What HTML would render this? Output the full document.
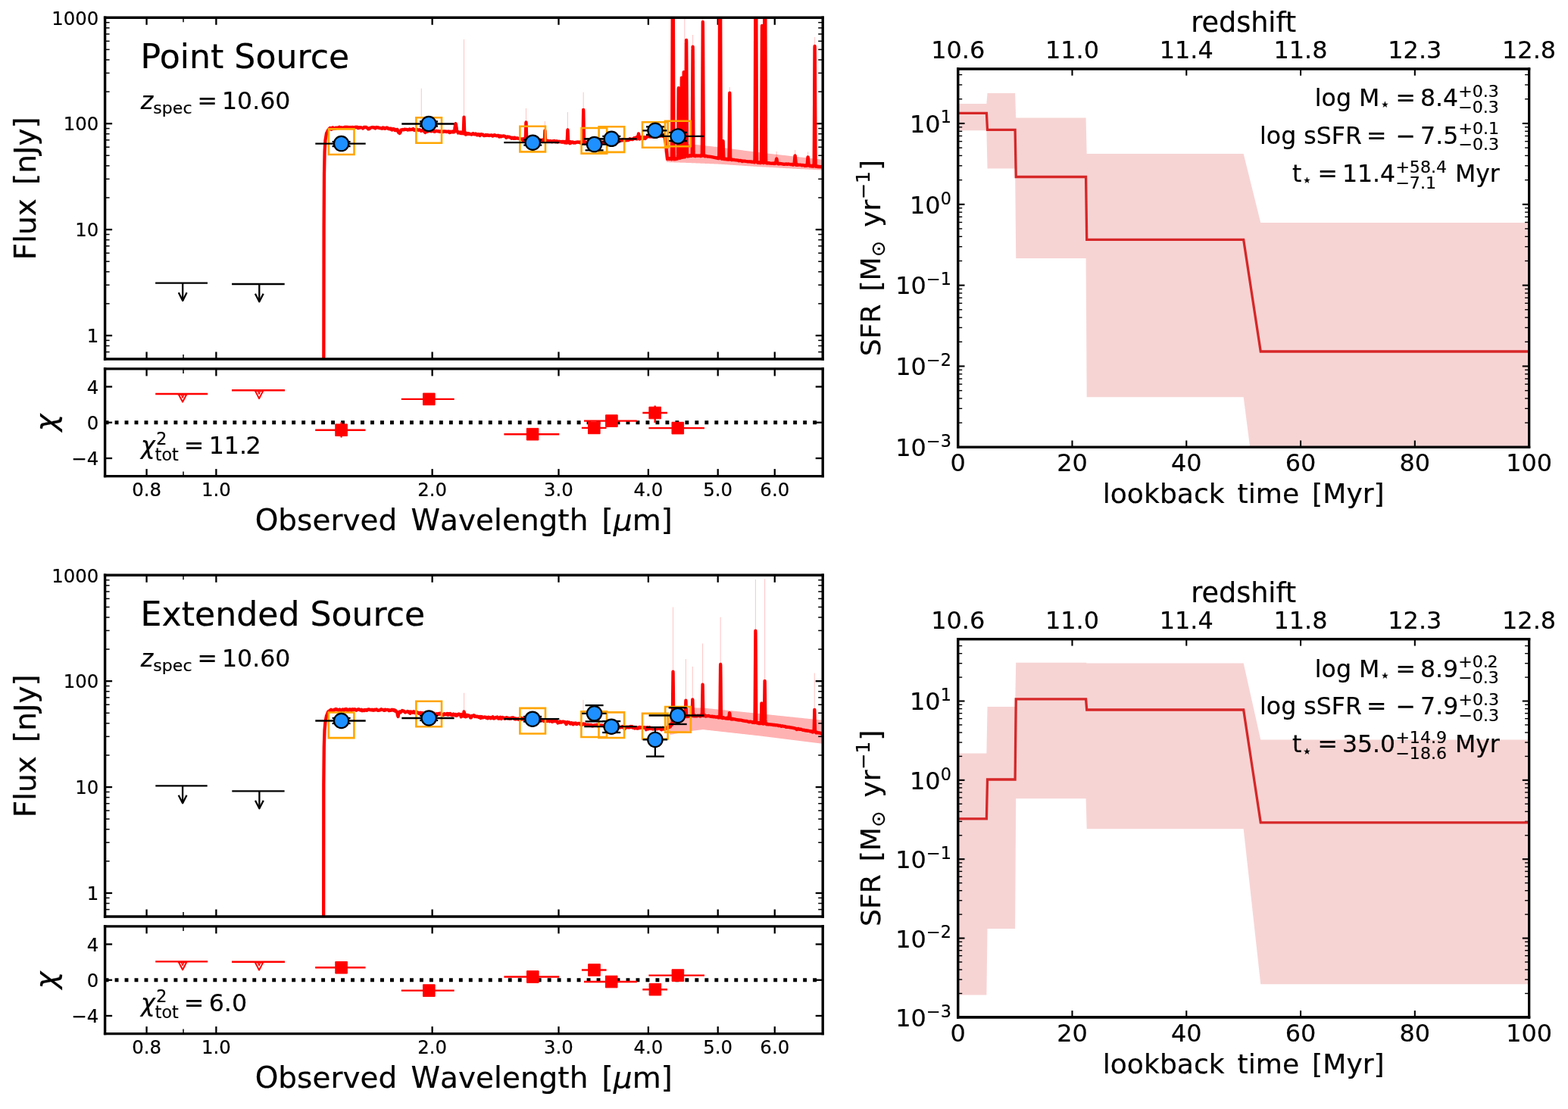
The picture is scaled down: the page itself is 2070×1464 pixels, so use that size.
<!DOCTYPE html>
<html><head><meta charset="utf-8"><title>SED fits</title><style>html,body{margin:0;padding:0;background:#fff;overflow:hidden}svg{display:block}text{stroke:#000;stroke-width:0.2px}</style></head><body>
<svg width="2070" height="1464" viewBox="0 0 2070 1464" version="1.1">
<defs>
<style type="text/css">*{stroke-linejoin: round; stroke-linecap: butt}</style>
</defs>
<g id="figure_1">
<g id="patch_1">
<path d="M 0 1464 
L 2070 1464 
L 2070 0 
L 0 0 
z
" style="fill: #ffffff"/>
</g>
<g id="axes_1">
<g id="patch_2">
<path d="M 138.6 474 
L 1086.2 474 
L 1086.2 23.3 
L 138.6 23.3 
z
" style="fill: #ffffff"/>
</g>
<g id="FillBetweenPolyCollection_1">
<defs>
<path id="m8aedb3358f" d="M 877 -1288 
L 877 -1264 
L 878 -1259.33 
L 879 -1254.66 
L 880 -1250 
L 881 -1249.96 
L 882 -1249.92 
L 883 -1249.88 
L 884 -1249.84 
L 885 -1249.8 
L 886 -1249.76 
L 887 -1249.72 
L 888 -1249.68 
L 889 -1249.64 
L 890 -1249.6 
L 891 -1249.57 
L 892 -1249.54 
L 893 -1249.51 
L 894 -1249.48 
L 895 -1249.45 
L 896 -1249.42 
L 897 -1249.39 
L 898 -1249.36 
L 899 -1249.33 
L 900 -1249.3 
L 901 -1249.27 
L 902 -1249.24 
L 903 -1249.21 
L 904 -1249.18 
L 905 -1249.15 
L 906 -1249.12 
L 907 -1249.09 
L 908 -1249.06 
L 909 -1249.03 
L 910 -1249 
L 911 -1248.95 
L 912 -1248.91 
L 913 -1248.87 
L 914 -1248.83 
L 915 -1248.78 
L 916 -1248.74 
L 917 -1248.70 
L 918 -1248.66 
L 919 -1248.61 
L 920 -1248.57 
L 921 -1248.53 
L 922 -1248.49 
L 923 -1248.44 
L 924 -1248.40 
L 925 -1248.36 
L 926 -1248.32 
L 927 -1248.27 
L 928 -1248.23 
L 929 -1248.19 
L 930 -1248.15 
L 931 -1248.10 
L 932 -1248.06 
L 933 -1248.02 
L 934 -1247.98 
L 935 -1247.93 
L 936 -1247.89 
L 937 -1247.85 
L 938 -1247.81 
L 939 -1247.76 
L 940 -1247.72 
L 941 -1247.68 
L 942 -1247.64 
L 943 -1247.59 
L 944 -1247.55 
L 945 -1247.51 
L 946 -1247.47 
L 947 -1247.42 
L 948 -1247.38 
L 949 -1247.34 
L 950 -1247.3 
L 951 -1247.23 
L 952 -1247.16 
L 953 -1247.10 
L 954 -1247.03 
L 955 -1246.97 
L 956 -1246.90 
L 957 -1246.83 
L 958 -1246.77 
L 959 -1246.70 
L 960 -1246.64 
L 961 -1246.57 
L 962 -1246.50 
L 963 -1246.44 
L 964 -1246.37 
L 965 -1246.31 
L 966 -1246.24 
L 967 -1246.17 
L 968 -1246.11 
L 969 -1246.04 
L 970 -1245.98 
L 971 -1245.91 
L 972 -1245.84 
L 973 -1245.78 
L 974 -1245.71 
L 975 -1245.65 
L 976 -1245.58 
L 977 -1245.51 
L 978 -1245.45 
L 979 -1245.38 
L 980 -1245.32 
L 981 -1245.25 
L 982 -1245.18 
L 983 -1245.12 
L 984 -1245.05 
L 985 -1244.99 
L 986 -1244.92 
L 987 -1244.85 
L 988 -1244.79 
L 989 -1244.72 
L 990 -1244.66 
L 991 -1244.59 
L 992 -1244.52 
L 993 -1244.46 
L 994 -1244.39 
L 995 -1244.33 
L 996 -1244.26 
L 997 -1244.19 
L 998 -1244.13 
L 999 -1244.06 
L 1000 -1244 
L 1001 -1243.94 
L 1002 -1243.88 
L 1003 -1243.83 
L 1004 -1243.77 
L 1005 -1243.72 
L 1006 -1243.66 
L 1007 -1243.60 
L 1008 -1243.55 
L 1009 -1243.49 
L 1010 -1243.44 
L 1011 -1243.38 
L 1012 -1243.32 
L 1013 -1243.27 
L 1014 -1243.21 
L 1015 -1243.16 
L 1016 -1243.10 
L 1017 -1243.04 
L 1018 -1242.99 
L 1019 -1242.93 
L 1020 -1242.88 
L 1021 -1242.82 
L 1022 -1242.76 
L 1023 -1242.71 
L 1024 -1242.65 
L 1025 -1242.6 
L 1026 -1242.54 
L 1027 -1242.48 
L 1028 -1242.43 
L 1029 -1242.37 
L 1030 -1242.32 
L 1031 -1242.26 
L 1032 -1242.20 
L 1033 -1242.15 
L 1034 -1242.09 
L 1035 -1242.04 
L 1036 -1241.98 
L 1037 -1241.92 
L 1038 -1241.87 
L 1039 -1241.81 
L 1040 -1241.76 
L 1041 -1241.70 
L 1042 -1241.64 
L 1043 -1241.59 
L 1044 -1241.53 
L 1045 -1241.48 
L 1046 -1241.42 
L 1047 -1241.36 
L 1048 -1241.31 
L 1049 -1241.25 
L 1050 -1241.2 
L 1051 -1241.15 
L 1052 -1241.10 
L 1053 -1241.05 
L 1054 -1241.01 
L 1055 -1240.96 
L 1056 -1240.91 
L 1057 -1240.86 
L 1058 -1240.82 
L 1059 -1240.77 
L 1060 -1240.72 
L 1061 -1240.67 
L 1062 -1240.63 
L 1063 -1240.58 
L 1064 -1240.53 
L 1065 -1240.48 
L 1066 -1240.44 
L 1067 -1240.39 
L 1068 -1240.34 
L 1069 -1240.3 
L 1070 -1240.25 
L 1071 -1240.20 
L 1072 -1240.15 
L 1073 -1240.11 
L 1074 -1240.06 
L 1075 -1240.01 
L 1076 -1239.96 
L 1077 -1239.92 
L 1078 -1239.87 
L 1079 -1239.82 
L 1080 -1239.77 
L 1081 -1239.73 
L 1082 -1239.68 
L 1083 -1239.63 
L 1084 -1239.58 
L 1085 -1239.54 
L 1086 -1239.49 
L 1087 -1239.44 
L 1087 -1253.11 
L 1087 -1253.11 
L 1086 -1253.22 
L 1085 -1253.33 
L 1084 -1253.45 
L 1083 -1253.56 
L 1082 -1253.67 
L 1081 -1253.79 
L 1080 -1253.90 
L 1079 -1254.01 
L 1078 -1254.13 
L 1077 -1254.24 
L 1076 -1254.35 
L 1075 -1254.47 
L 1074 -1254.58 
L 1073 -1254.69 
L 1072 -1254.81 
L 1071 -1254.92 
L 1070 -1255.03 
L 1069 -1255.15 
L 1068 -1255.26 
L 1067 -1255.37 
L 1066 -1255.48 
L 1065 -1255.60 
L 1064 -1255.71 
L 1063 -1255.82 
L 1062 -1255.94 
L 1061 -1256.05 
L 1060 -1256.16 
L 1059 -1256.28 
L 1058 -1256.39 
L 1057 -1256.50 
L 1056 -1256.62 
L 1055 -1256.73 
L 1054 -1256.84 
L 1053 -1256.96 
L 1052 -1257.07 
L 1051 -1257.18 
L 1050 -1257.3 
L 1049 -1257.41 
L 1048 -1257.52 
L 1047 -1257.64 
L 1046 -1257.75 
L 1045 -1257.87 
L 1044 -1257.98 
L 1043 -1258.09 
L 1042 -1258.21 
L 1041 -1258.32 
L 1040 -1258.44 
L 1039 -1258.55 
L 1038 -1258.66 
L 1037 -1258.78 
L 1036 -1258.89 
L 1035 -1259.01 
L 1034 -1259.12 
L 1033 -1259.23 
L 1032 -1259.35 
L 1031 -1259.46 
L 1030 -1259.58 
L 1029 -1259.69 
L 1028 -1259.80 
L 1027 -1259.92 
L 1026 -1260.03 
L 1025 -1260.15 
L 1024 -1260.26 
L 1023 -1260.37 
L 1022 -1260.49 
L 1021 -1260.60 
L 1020 -1260.72 
L 1019 -1260.83 
L 1018 -1260.94 
L 1017 -1261.06 
L 1016 -1261.17 
L 1015 -1261.29 
L 1014 -1261.40 
L 1013 -1261.51 
L 1012 -1261.63 
L 1011 -1261.74 
L 1010 -1261.86 
L 1009 -1261.97 
L 1008 -1262.08 
L 1007 -1262.20 
L 1006 -1262.31 
L 1005 -1262.43 
L 1004 -1262.54 
L 1003 -1262.65 
L 1002 -1262.77 
L 1001 -1262.88 
L 1000 -1263 
L 999 -1263.13 
L 998 -1263.26 
L 997 -1263.39 
L 996 -1263.52 
L 995 -1263.66 
L 994 -1263.79 
L 993 -1263.92 
L 992 -1264.05 
L 991 -1264.18 
L 990 -1264.32 
L 989 -1264.45 
L 988 -1264.58 
L 987 -1264.71 
L 986 -1264.84 
L 985 -1264.98 
L 984 -1265.11 
L 983 -1265.24 
L 982 -1265.37 
L 981 -1265.50 
L 980 -1265.64 
L 979 -1265.77 
L 978 -1265.90 
L 977 -1266.03 
L 976 -1266.16 
L 975 -1266.3 
L 974 -1266.43 
L 973 -1266.56 
L 972 -1266.69 
L 971 -1266.82 
L 970 -1266.96 
L 969 -1267.09 
L 968 -1267.22 
L 967 -1267.35 
L 966 -1267.48 
L 965 -1267.62 
L 964 -1267.75 
L 963 -1267.88 
L 962 -1268.01 
L 961 -1268.14 
L 960 -1268.28 
L 959 -1268.41 
L 958 -1268.54 
L 957 -1268.67 
L 956 -1268.80 
L 955 -1268.94 
L 954 -1269.07 
L 953 -1269.20 
L 952 -1269.33 
L 951 -1269.46 
L 950 -1269.6 
L 949 -1269.71 
L 948 -1269.82 
L 947 -1269.93 
L 946 -1270.04 
L 945 -1270.15 
L 944 -1270.26 
L 943 -1270.37 
L 942 -1270.48 
L 941 -1270.59 
L 940 -1270.7 
L 939 -1270.81 
L 938 -1270.92 
L 937 -1271.03 
L 936 -1271.14 
L 935 -1271.25 
L 934 -1271.36 
L 933 -1271.47 
L 932 -1271.58 
L 931 -1271.69 
L 930 -1271.8 
L 929 -1271.91 
L 928 -1272.02 
L 927 -1272.13 
L 926 -1272.24 
L 925 -1272.35 
L 924 -1272.46 
L 923 -1272.57 
L 922 -1272.68 
L 921 -1272.79 
L 920 -1272.9 
L 919 -1273.01 
L 918 -1273.12 
L 917 -1273.23 
L 916 -1273.34 
L 915 -1273.45 
L 914 -1273.56 
L 913 -1273.67 
L 912 -1273.78 
L 911 -1273.89 
L 910 -1274 
L 909 -1274.1 
L 908 -1274.2 
L 907 -1274.3 
L 906 -1274.4 
L 905 -1274.5 
L 904 -1274.6 
L 903 -1274.7 
L 902 -1274.8 
L 901 -1274.9 
L 900 -1275 
L 899 -1275.1 
L 898 -1275.2 
L 897 -1275.3 
L 896 -1275.4 
L 895 -1275.5 
L 894 -1275.6 
L 893 -1275.7 
L 892 -1275.8 
L 891 -1275.9 
L 890 -1276 
L 889 -1276 
L 888 -1276 
L 887 -1276 
L 886 -1276 
L 885 -1276 
L 884 -1276 
L 883 -1276 
L 882 -1276 
L 881 -1276 
L 880 -1276 
L 879 -1280 
L 878 -1284 
L 877 -1288 
z
"/>
</defs>
<g clip-path="url(#p4914ac7ae6)">
<use href="#m8aedb3358f" x="0" y="1464" style="fill: #ff0000; fill-opacity: 0.3"/>
</g>
</g>
<g id="line2d_1">
<path d="M 556.3 116.7 
L 556.3 160 
" clip-path="url(#p4914ac7ae6)" style="fill: none; stroke: #ff0000; stroke-opacity: 0.22; stroke-width: 1.1"/>
</g>
<g id="line2d_2">
<path d="M 612.5 52 
L 612.5 155 
" clip-path="url(#p4914ac7ae6)" style="fill: none; stroke: #ff0000; stroke-opacity: 0.22; stroke-width: 1.1"/>
</g>
<g id="line2d_3">
<path d="M 694.5 143 
L 694.5 161 
" clip-path="url(#p4914ac7ae6)" style="fill: none; stroke: #ff0000; stroke-opacity: 0.22; stroke-width: 1.1"/>
</g>
<g id="line2d_4">
<path d="M 719.4 160 
L 719.4 172 
" clip-path="url(#p4914ac7ae6)" style="fill: none; stroke: #ff0000; stroke-opacity: 0.22; stroke-width: 1.1"/>
</g>
<g id="line2d_5">
<path d="M 749.4 148 
L 749.4 170 
" clip-path="url(#p4914ac7ae6)" style="fill: none; stroke: #ff0000; stroke-opacity: 0.22; stroke-width: 1.1"/>
</g>
<g id="line2d_6">
<path d="M 770.2 121.8 
L 770.2 145 
" clip-path="url(#p4914ac7ae6)" style="fill: none; stroke: #ff0000; stroke-opacity: 0.22; stroke-width: 1.1"/>
</g>
<g id="line2d_7">
<path d="M 903.8 20 
L 903.8 95 
" clip-path="url(#p4914ac7ae6)" style="fill: none; stroke: #ff0000; stroke-opacity: 0.22; stroke-width: 1.1"/>
</g>
<g id="line2d_8">
<path d="M 914.6 46 
L 914.6 62 
" clip-path="url(#p4914ac7ae6)" style="fill: none; stroke: #ff0000; stroke-opacity: 0.22; stroke-width: 1.1"/>
</g>
<g id="line2d_9">
<path d="M 927.8 20 
L 927.8 29 
" clip-path="url(#p4914ac7ae6)" style="fill: none; stroke: #ff0000; stroke-opacity: 0.22; stroke-width: 1.1"/>
</g>
<g id="line2d_10">
<path d="M 963.3 115 
L 963.3 123 
" clip-path="url(#p4914ac7ae6)" style="fill: none; stroke: #ff0000; stroke-opacity: 0.22; stroke-width: 1.1"/>
</g>
<g id="line2d_11">
<path d="M 1075.6 49 
L 1075.6 60 
" clip-path="url(#p4914ac7ae6)" style="fill: none; stroke: #ff0000; stroke-opacity: 0.22; stroke-width: 1.1"/>
</g>
<g id="line2d_12">
<path d="M 1025.2 200 
L 1025.2 209 
" clip-path="url(#p4914ac7ae6)" style="fill: none; stroke: #ff0000; stroke-opacity: 0.22; stroke-width: 1.1"/>
</g>
<g id="line2d_13">
<path d="M 1049.6 198 
L 1049.6 205 
" clip-path="url(#p4914ac7ae6)" style="fill: none; stroke: #ff0000; stroke-opacity: 0.22; stroke-width: 1.1"/>
</g>
<g id="line2d_14">
<path d="M 1066.6 200.5 
L 1066.6 207 
" clip-path="url(#p4914ac7ae6)" style="fill: none; stroke: #ff0000; stroke-opacity: 0.22; stroke-width: 1.1"/>
</g>
<g id="matplotlib.axis_1">
<g id="xtick_1">
<g id="line2d_15">
<defs>
<path id="meb02f2e093" d="M 0 0 
L 0 -9.5 
" style="stroke: #000000; stroke-width: 2.3"/>
</defs>
<g>
<use href="#meb02f2e093" x="193.55" y="474" style="stroke: #000000; stroke-width: 2.3"/>
</g>
</g>
<g id="line2d_16">
<defs>
<path id="m33e6c5e1b2" d="M 0 0 
L 0 9.5 
" style="stroke: #000000; stroke-width: 2.3"/>
</defs>
<g>
<use href="#m33e6c5e1b2" x="193.55" y="23.3" style="stroke: #000000; stroke-width: 2.3"/>
</g>
</g>
</g>
<g id="xtick_2">
<g id="line2d_17">
<g>
<use href="#meb02f2e093" x="285.38" y="474" style="stroke: #000000; stroke-width: 2.3"/>
</g>
</g>
<g id="line2d_18">
<g>
<use href="#m33e6c5e1b2" x="285.38" y="23.3" style="stroke: #000000; stroke-width: 2.3"/>
</g>
</g>
</g>
<g id="xtick_3">
<g id="line2d_19">
<g>
<use href="#meb02f2e093" x="570.64" y="474" style="stroke: #000000; stroke-width: 2.3"/>
</g>
</g>
<g id="line2d_20">
<g>
<use href="#m33e6c5e1b2" x="570.64" y="23.3" style="stroke: #000000; stroke-width: 2.3"/>
</g>
</g>
</g>
<g id="xtick_4">
<g id="line2d_21">
<g>
<use href="#meb02f2e093" x="737.50" y="474" style="stroke: #000000; stroke-width: 2.3"/>
</g>
</g>
<g id="line2d_22">
<g>
<use href="#m33e6c5e1b2" x="737.50" y="23.3" style="stroke: #000000; stroke-width: 2.3"/>
</g>
</g>
</g>
<g id="xtick_5">
<g id="line2d_23">
<g>
<use href="#meb02f2e093" x="855.89" y="474" style="stroke: #000000; stroke-width: 2.3"/>
</g>
</g>
<g id="line2d_24">
<g>
<use href="#m33e6c5e1b2" x="855.89" y="23.3" style="stroke: #000000; stroke-width: 2.3"/>
</g>
</g>
</g>
<g id="xtick_6">
<g id="line2d_25">
<g>
<use href="#meb02f2e093" x="947.72" y="474" style="stroke: #000000; stroke-width: 2.3"/>
</g>
</g>
<g id="line2d_26">
<g>
<use href="#m33e6c5e1b2" x="947.72" y="23.3" style="stroke: #000000; stroke-width: 2.3"/>
</g>
</g>
</g>
<g id="xtick_7">
<g id="line2d_27">
<g>
<use href="#meb02f2e093" x="1022.76" y="474" style="stroke: #000000; stroke-width: 2.3"/>
</g>
</g>
<g id="line2d_28">
<g>
<use href="#m33e6c5e1b2" x="1022.76" y="23.3" style="stroke: #000000; stroke-width: 2.3"/>
</g>
</g>
</g>
<g id="xtick_8">
<g id="line2d_29">
<defs>
<path id="m80899642cb" d="M 0 0 
L 0 -6 
" style="stroke: #000000; stroke-width: 1.5"/>
</defs>
<g>
<use href="#m80899642cb" x="138.6" y="474" style="stroke: #000000; stroke-width: 1.5"/>
</g>
</g>
<g id="line2d_30">
<defs>
<path id="m92ab575aa1" d="M 0 0 
L 0 6 
" style="stroke: #000000; stroke-width: 1.5"/>
</defs>
<g>
<use href="#m92ab575aa1" x="138.6" y="23.3" style="stroke: #000000; stroke-width: 1.5"/>
</g>
</g>
</g>
<g id="xtick_9">
<g id="line2d_31">
<g>
<use href="#m80899642cb" x="242.02" y="474" style="stroke: #000000; stroke-width: 1.5"/>
</g>
</g>
<g id="line2d_32">
<g>
<use href="#m92ab575aa1" x="242.02" y="23.3" style="stroke: #000000; stroke-width: 1.5"/>
</g>
</g>
</g>
<g id="xtick_10">
<g id="line2d_33">
<g>
<use href="#m80899642cb" x="1086.2" y="474" style="stroke: #000000; stroke-width: 1.5"/>
</g>
</g>
<g id="line2d_34">
<g>
<use href="#m92ab575aa1" x="1086.2" y="23.3" style="stroke: #000000; stroke-width: 1.5"/>
</g>
</g>
</g>
</g>
<g id="matplotlib.axis_2">
<g id="ytick_1">
<g id="line2d_35">
<defs>
<path id="mcbb3e0e545" d="M 0 0 
L 9.5 0 
" style="stroke: #000000; stroke-width: 2.3"/>
</defs>
<g>
<use href="#mcbb3e0e545" x="138.6" y="442.96" style="stroke: #000000; stroke-width: 2.3"/>
</g>
</g>
<g id="line2d_36">
<defs>
<path id="md19e65606a" d="M 0 0 
L -9.5 0 
" style="stroke: #000000; stroke-width: 2.3"/>
</defs>
<g>
<use href="#md19e65606a" x="1086.2" y="442.96" style="stroke: #000000; stroke-width: 2.3"/>
</g>
</g>
<g id="text_1">
<text style="font-size: 24.4px; font-family: 'DejaVu Sans', sans-serif; text-anchor: end" x="130.3" y="452.23" transform="rotate(-0 130.3 452.23)">1</text>
</g>
</g>
<g id="ytick_2">
<g id="line2d_37">
<g>
<use href="#mcbb3e0e545" x="138.6" y="303.07" style="stroke: #000000; stroke-width: 2.3"/>
</g>
</g>
<g id="line2d_38">
<g>
<use href="#md19e65606a" x="1086.2" y="303.07" style="stroke: #000000; stroke-width: 2.3"/>
</g>
</g>
<g id="text_2">
<text style="font-size: 24.4px; font-family: 'DejaVu Sans', sans-serif; text-anchor: end" x="130.3" y="312.34" transform="rotate(-0 130.3 312.34)">10</text>
</g>
</g>
<g id="ytick_3">
<g id="line2d_39">
<g>
<use href="#mcbb3e0e545" x="138.6" y="163.18" style="stroke: #000000; stroke-width: 2.3"/>
</g>
</g>
<g id="line2d_40">
<g>
<use href="#md19e65606a" x="1086.2" y="163.18" style="stroke: #000000; stroke-width: 2.3"/>
</g>
</g>
<g id="text_3">
<text style="font-size: 24.4px; font-family: 'DejaVu Sans', sans-serif; text-anchor: end" x="130.3" y="172.45" transform="rotate(-0 130.3 172.45)">100</text>
</g>
</g>
<g id="ytick_4">
<g id="line2d_41">
<g>
<use href="#mcbb3e0e545" x="138.6" y="23.3" style="stroke: #000000; stroke-width: 2.3"/>
</g>
</g>
<g id="line2d_42">
<g>
<use href="#md19e65606a" x="1086.2" y="23.3" style="stroke: #000000; stroke-width: 2.3"/>
</g>
</g>
<g id="text_4">
<text style="font-size: 24.4px; font-family: 'DejaVu Sans', sans-serif; text-anchor: end" x="130.3" y="32.57" transform="rotate(-0 130.3 32.57)">1000</text>
</g>
</g>
<g id="ytick_5">
<g id="line2d_43">
<defs>
<path id="m8791594178" d="M 0 0 
L 6 0 
" style="stroke: #000000; stroke-width: 1.5"/>
</defs>
<g>
<use href="#m8791594178" x="138.6" y="474" style="stroke: #000000; stroke-width: 1.5"/>
</g>
</g>
<g id="line2d_44">
<defs>
<path id="mec65994248" d="M 0 0 
L -6 0 
" style="stroke: #000000; stroke-width: 1.5"/>
</defs>
<g>
<use href="#mec65994248" x="1086.2" y="474" style="stroke: #000000; stroke-width: 1.5"/>
</g>
</g>
</g>
<g id="ytick_6">
<g id="line2d_45">
<g>
<use href="#m8791594178" x="138.6" y="464.63" style="stroke: #000000; stroke-width: 1.5"/>
</g>
</g>
<g id="line2d_46">
<g>
<use href="#mec65994248" x="1086.2" y="464.63" style="stroke: #000000; stroke-width: 1.5"/>
</g>
</g>
</g>
<g id="ytick_7">
<g id="line2d_47">
<g>
<use href="#m8791594178" x="138.6" y="456.52" style="stroke: #000000; stroke-width: 1.5"/>
</g>
</g>
<g id="line2d_48">
<g>
<use href="#mec65994248" x="1086.2" y="456.52" style="stroke: #000000; stroke-width: 1.5"/>
</g>
</g>
</g>
<g id="ytick_8">
<g id="line2d_49">
<g>
<use href="#m8791594178" x="138.6" y="449.36" style="stroke: #000000; stroke-width: 1.5"/>
</g>
</g>
<g id="line2d_50">
<g>
<use href="#mec65994248" x="1086.2" y="449.36" style="stroke: #000000; stroke-width: 1.5"/>
</g>
</g>
</g>
<g id="ytick_9">
<g id="line2d_51">
<g>
<use href="#m8791594178" x="138.6" y="400.85" style="stroke: #000000; stroke-width: 1.5"/>
</g>
</g>
<g id="line2d_52">
<g>
<use href="#mec65994248" x="1086.2" y="400.85" style="stroke: #000000; stroke-width: 1.5"/>
</g>
</g>
</g>
<g id="ytick_10">
<g id="line2d_53">
<g>
<use href="#m8791594178" x="138.6" y="376.22" style="stroke: #000000; stroke-width: 1.5"/>
</g>
</g>
<g id="line2d_54">
<g>
<use href="#mec65994248" x="1086.2" y="376.22" style="stroke: #000000; stroke-width: 1.5"/>
</g>
</g>
</g>
<g id="ytick_11">
<g id="line2d_55">
<g>
<use href="#m8791594178" x="138.6" y="358.74" style="stroke: #000000; stroke-width: 1.5"/>
</g>
</g>
<g id="line2d_56">
<g>
<use href="#mec65994248" x="1086.2" y="358.74" style="stroke: #000000; stroke-width: 1.5"/>
</g>
</g>
</g>
<g id="ytick_12">
<g id="line2d_57">
<g>
<use href="#m8791594178" x="138.6" y="345.18" style="stroke: #000000; stroke-width: 1.5"/>
</g>
</g>
<g id="line2d_58">
<g>
<use href="#mec65994248" x="1086.2" y="345.18" style="stroke: #000000; stroke-width: 1.5"/>
</g>
</g>
</g>
<g id="ytick_13">
<g id="line2d_59">
<g>
<use href="#m8791594178" x="138.6" y="334.11" style="stroke: #000000; stroke-width: 1.5"/>
</g>
</g>
<g id="line2d_60">
<g>
<use href="#mec65994248" x="1086.2" y="334.11" style="stroke: #000000; stroke-width: 1.5"/>
</g>
</g>
</g>
<g id="ytick_14">
<g id="line2d_61">
<g>
<use href="#m8791594178" x="138.6" y="324.74" style="stroke: #000000; stroke-width: 1.5"/>
</g>
</g>
<g id="line2d_62">
<g>
<use href="#mec65994248" x="1086.2" y="324.74" style="stroke: #000000; stroke-width: 1.5"/>
</g>
</g>
</g>
<g id="ytick_15">
<g id="line2d_63">
<g>
<use href="#m8791594178" x="138.6" y="316.63" style="stroke: #000000; stroke-width: 1.5"/>
</g>
</g>
<g id="line2d_64">
<g>
<use href="#mec65994248" x="1086.2" y="316.63" style="stroke: #000000; stroke-width: 1.5"/>
</g>
</g>
</g>
<g id="ytick_16">
<g id="line2d_65">
<g>
<use href="#m8791594178" x="138.6" y="309.47" style="stroke: #000000; stroke-width: 1.5"/>
</g>
</g>
<g id="line2d_66">
<g>
<use href="#mec65994248" x="1086.2" y="309.47" style="stroke: #000000; stroke-width: 1.5"/>
</g>
</g>
</g>
<g id="ytick_17">
<g id="line2d_67">
<g>
<use href="#m8791594178" x="138.6" y="260.96" style="stroke: #000000; stroke-width: 1.5"/>
</g>
</g>
<g id="line2d_68">
<g>
<use href="#mec65994248" x="1086.2" y="260.96" style="stroke: #000000; stroke-width: 1.5"/>
</g>
</g>
</g>
<g id="ytick_18">
<g id="line2d_69">
<g>
<use href="#m8791594178" x="138.6" y="236.33" style="stroke: #000000; stroke-width: 1.5"/>
</g>
</g>
<g id="line2d_70">
<g>
<use href="#mec65994248" x="1086.2" y="236.33" style="stroke: #000000; stroke-width: 1.5"/>
</g>
</g>
</g>
<g id="ytick_19">
<g id="line2d_71">
<g>
<use href="#m8791594178" x="138.6" y="218.85" style="stroke: #000000; stroke-width: 1.5"/>
</g>
</g>
<g id="line2d_72">
<g>
<use href="#mec65994248" x="1086.2" y="218.85" style="stroke: #000000; stroke-width: 1.5"/>
</g>
</g>
</g>
<g id="ytick_20">
<g id="line2d_73">
<g>
<use href="#m8791594178" x="138.6" y="205.29" style="stroke: #000000; stroke-width: 1.5"/>
</g>
</g>
<g id="line2d_74">
<g>
<use href="#mec65994248" x="1086.2" y="205.29" style="stroke: #000000; stroke-width: 1.5"/>
</g>
</g>
</g>
<g id="ytick_21">
<g id="line2d_75">
<g>
<use href="#m8791594178" x="138.6" y="194.22" style="stroke: #000000; stroke-width: 1.5"/>
</g>
</g>
<g id="line2d_76">
<g>
<use href="#mec65994248" x="1086.2" y="194.22" style="stroke: #000000; stroke-width: 1.5"/>
</g>
</g>
</g>
<g id="ytick_22">
<g id="line2d_77">
<g>
<use href="#m8791594178" x="138.6" y="184.85" style="stroke: #000000; stroke-width: 1.5"/>
</g>
</g>
<g id="line2d_78">
<g>
<use href="#mec65994248" x="1086.2" y="184.85" style="stroke: #000000; stroke-width: 1.5"/>
</g>
</g>
</g>
<g id="ytick_23">
<g id="line2d_79">
<g>
<use href="#m8791594178" x="138.6" y="176.74" style="stroke: #000000; stroke-width: 1.5"/>
</g>
</g>
<g id="line2d_80">
<g>
<use href="#mec65994248" x="1086.2" y="176.74" style="stroke: #000000; stroke-width: 1.5"/>
</g>
</g>
</g>
<g id="ytick_24">
<g id="line2d_81">
<g>
<use href="#m8791594178" x="138.6" y="169.58" style="stroke: #000000; stroke-width: 1.5"/>
</g>
</g>
<g id="line2d_82">
<g>
<use href="#mec65994248" x="1086.2" y="169.58" style="stroke: #000000; stroke-width: 1.5"/>
</g>
</g>
</g>
<g id="ytick_25">
<g id="line2d_83">
<g>
<use href="#m8791594178" x="138.6" y="121.07" style="stroke: #000000; stroke-width: 1.5"/>
</g>
</g>
<g id="line2d_84">
<g>
<use href="#mec65994248" x="1086.2" y="121.07" style="stroke: #000000; stroke-width: 1.5"/>
</g>
</g>
</g>
<g id="ytick_26">
<g id="line2d_85">
<g>
<use href="#m8791594178" x="138.6" y="96.44" style="stroke: #000000; stroke-width: 1.5"/>
</g>
</g>
<g id="line2d_86">
<g>
<use href="#mec65994248" x="1086.2" y="96.44" style="stroke: #000000; stroke-width: 1.5"/>
</g>
</g>
</g>
<g id="ytick_27">
<g id="line2d_87">
<g>
<use href="#m8791594178" x="138.6" y="78.96" style="stroke: #000000; stroke-width: 1.5"/>
</g>
</g>
<g id="line2d_88">
<g>
<use href="#mec65994248" x="1086.2" y="78.96" style="stroke: #000000; stroke-width: 1.5"/>
</g>
</g>
</g>
<g id="ytick_28">
<g id="line2d_89">
<g>
<use href="#m8791594178" x="138.6" y="65.41" style="stroke: #000000; stroke-width: 1.5"/>
</g>
</g>
<g id="line2d_90">
<g>
<use href="#mec65994248" x="1086.2" y="65.41" style="stroke: #000000; stroke-width: 1.5"/>
</g>
</g>
</g>
<g id="ytick_29">
<g id="line2d_91">
<g>
<use href="#m8791594178" x="138.6" y="54.33" style="stroke: #000000; stroke-width: 1.5"/>
</g>
</g>
<g id="line2d_92">
<g>
<use href="#mec65994248" x="1086.2" y="54.33" style="stroke: #000000; stroke-width: 1.5"/>
</g>
</g>
</g>
<g id="ytick_30">
<g id="line2d_93">
<g>
<use href="#m8791594178" x="138.6" y="44.96" style="stroke: #000000; stroke-width: 1.5"/>
</g>
</g>
<g id="line2d_94">
<g>
<use href="#mec65994248" x="1086.2" y="44.96" style="stroke: #000000; stroke-width: 1.5"/>
</g>
</g>
</g>
<g id="ytick_31">
<g id="line2d_95">
<g>
<use href="#m8791594178" x="138.6" y="36.85" style="stroke: #000000; stroke-width: 1.5"/>
</g>
</g>
<g id="line2d_96">
<g>
<use href="#mec65994248" x="1086.2" y="36.85" style="stroke: #000000; stroke-width: 1.5"/>
</g>
</g>
</g>
<g id="ytick_32">
<g id="line2d_97">
<g>
<use href="#m8791594178" x="138.6" y="29.70" style="stroke: #000000; stroke-width: 1.5"/>
</g>
</g>
<g id="line2d_98">
<g>
<use href="#mec65994248" x="1086.2" y="29.70" style="stroke: #000000; stroke-width: 1.5"/>
</g>
</g>
</g>
<g id="text_5">
<g transform="translate(47.49 343.22) rotate(-90)">
<text>
<tspan x="0" y="-0.37" style="font-size: 39px; font-family: 'DejaVu Sans', sans-serif">F</tspan>
<tspan x="22.43" y="-0.37" style="font-size: 39px; font-family: 'DejaVu Sans', sans-serif">l</tspan>
<tspan x="33.26" y="-0.37" style="font-size: 39px; font-family: 'DejaVu Sans', sans-serif">u</tspan>
<tspan x="57.98" y="-0.37" style="font-size: 39px; font-family: 'DejaVu Sans', sans-serif">x</tspan>
<tspan x="99.30" y="-0.37" style="font-size: 39px; font-family: 'DejaVu Sans', sans-serif">[</tspan>
<tspan x="114.51" y="-0.37" style="font-size: 39px; font-family: 'DejaVu Sans', sans-serif">n</tspan>
<tspan x="139.23" y="-0.37" style="font-size: 39px; font-family: 'DejaVu Sans', sans-serif">J</tspan>
<tspan x="150.73" y="-0.37" style="font-size: 39px; font-family: 'DejaVu Sans', sans-serif">y</tspan>
<tspan x="173.81" y="-0.37" style="font-size: 39px; font-family: 'DejaVu Sans', sans-serif">]</tspan>
</text>
</g>
</g>
</g>
<g id="line2d_99">
<path d="M 427 700 
L 427.6 300 
L 428 230 
L 428.6 200 
L 429.5 185 
L 431 176 
L 433.5 171.14 
L 434.5 170.34 
L 435.5 168.94 
L 436 168.96 
L 436.5 169.44 
L 437 170.63 
L 437.5 170.91 
L 438 170.47 
L 438.5 169.31 
L 439 168.45 
L 439.5 168.45 
L 440 169.28 
L 440.5 169.71 
L 441 169.77 
L 441.5 169.71 
L 442 169.45 
L 442.5 169.58 
L 443 168.79 
L 443.5 169.27 
L 445 168.55 
L 445.5 168.78 
L 446 168.74 
L 446.5 168.58 
L 447 168.27 
L 447.5 168.26 
L 448 167.78 
L 449 168.20 
L 449.5 168.60 
L 450 168.49 
L 450.5 168.58 
L 451 168.48 
L 452.5 168.71 
L 453 168.89 
L 453.5 168.44 
L 454 168.51 
L 454.5 168.19 
L 455 168.19 
L 455.5 167.68 
L 456 167.99 
L 456.5 168.50 
L 457 168.44 
L 457.5 168.16 
L 458 167.70 
L 458.5 167.96 
L 459 168.53 
L 459.5 168.52 
L 460 168.73 
L 460.5 168.06 
L 461 168.35 
L 461.5 168.12 
L 462.5 168.15 
L 463 167.95 
L 463.5 168.58 
L 464 168.19 
L 464.5 168.25 
L 465 167.90 
L 465.5 167.95 
L 466 168.54 
L 466.5 168.76 
L 467 169.11 
L 467.5 168.64 
L 468 168.37 
L 468.5 167.94 
L 469.5 167.75 
L 470 168.19 
L 471 167.92 
L 471.5 167.62 
L 472 168.02 
L 472.5 169.11 
L 473 169.06 
L 474 168.14 
L 474.5 168.25 
L 475 168.56 
L 475.5 168.29 
L 476.5 168.20 
L 477.5 168.52 
L 478.5 168.79 
L 479 169.48 
L 480 168.70 
L 480.5 167.90 
L 482 167.98 
L 483 167.84 
L 483.5 168.06 
L 484 168.58 
L 484.5 168.56 
L 485 169.09 
L 485.5 169.35 
L 486 170.25 
L 486.5 169.81 
L 487 170.32 
L 487.5 169.60 
L 488 169.92 
L 488.5 168.95 
L 489 168.87 
L 489.5 168.51 
L 491 168.20 
L 491.5 168.17 
L 492 168.00 
L 492.5 168.23 
L 493 168.25 
L 493.5 168.65 
L 494 168.23 
L 494.5 168.64 
L 495 168.72 
L 495.5 169.45 
L 497 167.94 
L 498 168.23 
L 499 168.13 
L 499.5 168.60 
L 500.5 168.99 
L 502 168.98 
L 502.5 169.30 
L 503 169.47 
L 503.5 169.38 
L 504 169.67 
L 504.5 169.12 
L 505 169.52 
L 505.5 168.61 
L 506 168.95 
L 506.5 168.65 
L 507 168.92 
L 507.5 168.97 
L 508 169.87 
L 508.5 169.66 
L 509 169.66 
L 509.5 168.77 
L 510 168.73 
L 510.5 168.52 
L 511.5 168.59 
L 512 169.41 
L 512.5 169.84 
L 513 170.07 
L 513.5 169.86 
L 514 169.80 
L 514.5 170.20 
L 515 169.89 
L 516 169.61 
L 516.5 170.88 
L 517 171.31 
L 517.5 171.49 
L 518 170.52 
L 518.5 170.20 
L 519 170.48 
L 519.5 170.25 
L 520 170.51 
L 520.5 170.42 
L 521 170.89 
L 521.5 172.09 
L 522 171.58 
L 522.5 171.98 
L 523 171.25 
L 523.5 171.39 
L 524 170.93 
L 524.5 170.99 
L 525 171.89 
L 525.5 173.67 
L 526 174.71 
L 527.4 175.70 
L 527.5 175.94 
L 528.5 174.86 
L 529.5 171.55 
L 530 171.36 
L 531 171.30 
L 531.5 171.01 
L 532 171.44 
L 533 171.35 
L 533.5 170.90 
L 534 170.68 
L 534.5 170.69 
L 535.5 170.97 
L 536.5 170.78 
L 537 170.85 
L 537.5 171.38 
L 538 171.28 
L 538.5 171.55 
L 539 171.26 
L 539.5 171.15 
L 540 170.75 
L 540.5 170.54 
L 541 171.34 
L 542 171.21 
L 542.5 170.88 
L 543.5 171.21 
L 544 171.03 
L 545.5 169.98 
L 546.5 171.69 
L 547 171.96 
L 547.5 172.00 
L 548 171.47 
L 548.5 171.42 
L 549 170.88 
L 550.5 170.76 
L 552 171.60 
L 552.5 171.73 
L 553 171.50 
L 553.5 171.56 
L 554 171.31 
L 554.5 171.77 
L 555 171.93 
L 555.5 172.76 
L 556 172.92 
L 557.5 172.13 
L 558 172.21 
L 558.5 172.05 
L 559.5 172.92 
L 560 172.71 
L 560.5 173.49 
L 561 174.75 
L 561.5 174.95 
L 562 174.10 
L 562.5 173.00 
L 563 172.68 
L 563.5 173.22 
L 564 173.12 
L 564.5 173.55 
L 565 172.90 
L 566 172.57 
L 566.5 172.82 
L 567 172.91 
L 568 172.69 
L 568.5 173.18 
L 569.5 173.33 
L 570 173.15 
L 571 173.09 
L 571.5 172.67 
L 572.5 172.77 
L 573 173.05 
L 573.5 173.83 
L 574 173.61 
L 574.5 173.58 
L 575 172.79 
L 576 172.96 
L 577 172.89 
L 577.5 173.27 
L 579 173.03 
L 579.5 173.19 
L 580 173.76 
L 580.5 173.62 
L 581 173.89 
L 581.5 173.37 
L 582 173.13 
L 582.5 173.44 
L 583 173.29 
L 583.5 174.09 
L 584.5 174.14 
L 585 173.64 
L 585.5 173.41 
L 586 173.58 
L 586.5 173.39 
L 587 173.47 
L 587.5 173.76 
L 588 173.76 
L 588.5 173.51 
L 589 173.54 
L 589.5 174.03 
L 590.5 173.57 
L 591 173.69 
L 591.5 174.02 
L 592 173.81 
L 592.5 173.40 
L 593 173.90 
L 593.5 175.04 
L 594 174.95 
L 594.5 174.71 
L 595 173.88 
L 595.5 174.43 
L 597 173.63 
L 597.5 173.43 
L 597.8 174.11 
L 597.9 173.72 
L 598.1 174.47 
L 598.3 173.81 
L 598.5 174.22 
L 598.7 173.83 
L 598.9 174.11 
L 599 173.76 
L 599 173.27 
L 599.1 173.44 
L 599.3 174.16 
L 599.5 173.51 
L 599.6 174.34 
L 599.8 173.27 
L 600.3 170.26 
L 600.5 168.71 
L 600.6 168.43 
L 601 165.30 
L 601 165.47 
L 601.1 165.20 
L 601.4 163.68 
L 601.5 163.09 
L 601.7 163.75 
L 601.8 163.95 
L 601.9 163.90 
L 602.3 166.76 
L 602.5 168.67 
L 602.5 168.20 
L 602.6 168.37 
L 603 172.13 
L 603.1 171.76 
L 603.4 173.47 
L 603.5 173.58 
L 603.5 173.50 
L 603.8 173.13 
L 604 173.68 
L 604.1 173.98 
L 604.4 174.48 
L 604.5 174.23 
L 604.6 174.80 
L 604.7 175.49 
L 605 174.21 
L 605 174.41 
L 605.1 174.36 
L 605.4 175.14 
L 605.5 174.92 
L 606 175.39 
L 606.5 175.55 
L 607.5 174.83 
L 608 174.49 
L 608.5 174.82 
L 608.7 176.12 
L 608.8 175.83 
L 609 174.60 
L 609 174.85 
L 609.1 174.93 
L 609.2 174.80 
L 609.5 175.88 
L 609.5 175.85 
L 609.7 176.01 
L 609.8 175.50 
L 609.9 175.68 
L 610.1 174.59 
L 610.3 174.65 
L 610.4 174.76 
L 610.6 175.60 
L 610.7 175.30 
L 610.8 175.62 
L 611 174.96 
L 611.2 175.22 
L 611.3 175.18 
L 611.5 175.37 
L 611.5 176.39 
L 611.6 175.77 
L 611.7 175.65 
L 612 169.84 
L 612.5 154.70 
L 612.5 154.80 
L 612.7 159.06 
L 613.2 174.95 
L 613.4 176.07 
L 613.5 176.00 
L 613.6 175.50 
L 614 176.72 
L 614.2 175.75 
L 614.3 175.47 
L 614.8 176.77 
L 614.9 177.65 
L 615 177.25 
L 615.1 176.07 
L 615.2 176.44 
L 615.3 177.42 
L 615.4 177.38 
L 615.5 176.93 
L 615.6 175.90 
L 615.7 175.76 
L 616.1 177.11 
L 616.3 176.10 
L 616.4 176.10 
L 616.5 176.48 
L 617 176.10 
L 617.5 176.24 
L 618 176.16 
L 618.5 176.73 
L 619 176.29 
L 619.5 176.73 
L 620 176.81 
L 620.5 177.06 
L 621 176.86 
L 622.5 177.62 
L 623.5 176.97 
L 624 176.38 
L 624.5 176.13 
L 625 176.41 
L 626 177.30 
L 626.5 177.43 
L 627 177.28 
L 628 176.48 
L 628.5 177.14 
L 629 177.22 
L 629.5 178.11 
L 630 177.45 
L 630.5 178.33 
L 631 177.77 
L 631.5 178.04 
L 632 177.15 
L 633 178.32 
L 633.5 178.96 
L 634.5 177.35 
L 635 177.11 
L 635.5 177.25 
L 636 177.60 
L 636.5 177.43 
L 637 177.65 
L 637.5 177.63 
L 638 177.98 
L 638.5 179.02 
L 639 179.16 
L 639.5 178.78 
L 640 178.99 
L 640.5 178.67 
L 641 178.82 
L 641.5 178.03 
L 642 178.62 
L 642.5 178.72 
L 643 178.31 
L 644 178.22 
L 644.5 178.77 
L 645 178.60 
L 646 178.99 
L 647 178.62 
L 647.5 178.64 
L 648 178.49 
L 648.5 178.52 
L 649 178.33 
L 649.5 178.61 
L 650 179.57 
L 650.5 179.61 
L 651 179.39 
L 651.5 179.04 
L 652 178.42 
L 652.5 178.89 
L 653 178.34 
L 653.5 178.68 
L 654 178.63 
L 654.5 178.76 
L 655 179.29 
L 656 179.31 
L 656.5 178.82 
L 657.5 179.01 
L 658 178.86 
L 658.5 179.84 
L 659 180.55 
L 659.5 180.53 
L 660 179.36 
L 660.5 179.36 
L 661 180.26 
L 661.5 180.40 
L 662.5 179.69 
L 663 179.77 
L 663.5 179.54 
L 665 179.49 
L 666 179.54 
L 666.5 179.97 
L 667 180.11 
L 667.5 180.88 
L 668.5 181.81 
L 669.5 181.13 
L 670 180.48 
L 671 180.67 
L 671.5 180.92 
L 672 180.89 
L 672.5 180.71 
L 673 181.23 
L 673.5 181.34 
L 674 181.64 
L 674.5 182.08 
L 675 182.04 
L 675.5 182.66 
L 676 181.74 
L 676.5 182.06 
L 677.5 182.15 
L 678 182.75 
L 678.5 181.84 
L 679 182.44 
L 679.5 181.64 
L 680 182.73 
L 680.5 182.47 
L 681 182.71 
L 681.5 182.44 
L 682 182.66 
L 682.5 182.66 
L 683 182.27 
L 683.5 182.38 
L 684 182.74 
L 685 182.98 
L 685.5 182.88 
L 686.5 183.53 
L 687 183.46 
L 687.5 183.70 
L 688 183.44 
L 688.5 183.62 
L 689 183.40 
L 689.5 184.43 
L 690 184.80 
L 690.5 184.93 
L 690.7 183.76 
L 690.8 183.41 
L 690.9 183.47 
L 691 183.35 
L 691.1 184.46 
L 691.2 184.38 
L 691.4 183.45 
L 691.5 185.68 
L 691.6 185.64 
L 691.8 183.31 
L 691.9 183.49 
L 692.1 185.35 
L 692.5 183.87 
L 692.5 183.16 
L 692.6 183.61 
L 692.9 183.10 
L 693 183.45 
L 693 184.32 
L 693.1 184.25 
L 693.2 184.31 
L 693.3 183.84 
L 693.4 184.07 
L 693.7 183.43 
L 693.8 182.59 
L 694.1 173.57 
L 694.4 162.37 
L 694.5 161.40 
L 694.5 161.91 
L 694.6 162.62 
L 694.9 173.73 
L 695.2 182.07 
L 695.4 183.51 
L 695.6 184.30 
L 695.7 183.90 
L 695.8 184.00 
L 696 183.54 
L 696 183.97 
L 696.1 183.85 
L 696.2 183.86 
L 696.3 183.41 
L 696.7 184.23 
L 696.8 183.92 
L 697 184.47 
L 697 185.26 
L 697.1 184.90 
L 697.2 184.87 
L 697.3 184.36 
L 697.4 184.66 
L 697.5 184.23 
L 697.5 184.74 
L 697.6 184.19 
L 697.7 185.26 
L 697.8 184.52 
L 697.9 185.42 
L 698.1 184.15 
L 698.2 184.39 
L 698.3 183.99 
L 698.5 184.72 
L 699 184.92 
L 699.5 184.55 
L 700.5 184.76 
L 701 184.88 
L 701.5 184.15 
L 702 184.26 
L 702.5 185.06 
L 703 185.43 
L 704 185.42 
L 704.5 185.76 
L 706 184.22 
L 706.5 185.49 
L 707.5 186.50 
L 708 185.41 
L 708.5 184.61 
L 709.5 184.87 
L 710 185.73 
L 710.5 185.88 
L 711 185.67 
L 712 184.65 
L 712.5 184.69 
L 713 184.58 
L 713.5 184.94 
L 714 184.99 
L 714.5 185.27 
L 715 184.94 
L 715.5 184.97 
L 715.8 185.55 
L 716.1 185.23 
L 716.3 184.78 
L 716.5 186.08 
L 716.6 185.70 
L 716.7 186.31 
L 716.8 185.80 
L 716.9 186.02 
L 717 185.28 
L 717.1 185.44 
L 717.3 185.97 
L 717.5 185.40 
L 717.6 186.20 
L 717.7 186.67 
L 717.8 186.03 
L 717.9 186.55 
L 718.1 185.74 
L 718.2 186.13 
L 718.3 185.99 
L 718.5 184.96 
L 718.5 185.37 
L 718.6 185.74 
L 718.7 185.35 
L 718.8 185.52 
L 719.4 172.39 
L 719.5 173.20 
L 719.8 180.60 
L 720 183.95 
L 720 183.48 
L 720.5 186.45 
L 720.5 186.36 
L 720.8 185.21 
L 721 186.86 
L 721.1 186.37 
L 721.2 186.86 
L 721.4 186.54 
L 721.5 185.61 
L 721.5 185.68 
L 721.6 186.45 
L 721.7 186.37 
L 721.9 186.19 
L 722 186.46 
L 722 186.97 
L 722.1 186.47 
L 722.3 186.32 
L 722.4 186.16 
L 722.5 186.42 
L 722.5 186.89 
L 722.6 186.56 
L 722.7 186.80 
L 722.8 185.94 
L 722.9 186.32 
L 723 186.23 
L 723 187.08 
L 723.1 186.80 
L 723.2 186.72 
L 723.3 185.90 
L 723.5 186.14 
L 724 186.26 
L 724.5 186.23 
L 725 186.57 
L 725.5 186.50 
L 726 186.59 
L 726.5 186.14 
L 727 186.09 
L 727.5 186.70 
L 728 186.72 
L 728.5 187.15 
L 729 186.60 
L 729.5 187.09 
L 730 186.30 
L 730.5 186.62 
L 731 186.11 
L 732 185.97 
L 733 186.69 
L 733.5 187.26 
L 734 186.91 
L 734.5 186.72 
L 735 186.36 
L 735.5 187.26 
L 736 187.50 
L 736.5 187.19 
L 737 187.03 
L 737.5 186.70 
L 738 187.11 
L 738.5 186.66 
L 739 187.01 
L 739.5 187.10 
L 740 187.32 
L 740.5 187.03 
L 741 187.65 
L 741.5 187.63 
L 742 187.80 
L 742.5 187.02 
L 743 186.99 
L 743.5 187.25 
L 744 187.04 
L 744.5 187.67 
L 745 187.81 
L 745.4 188.26 
L 745.6 187.48 
L 745.7 187.31 
L 745.9 187.41 
L 746 187.72 
L 746 187.41 
L 746.1 187.42 
L 746.2 186.96 
L 746.5 187.49 
L 746.5 187.92 
L 746.6 187.85 
L 746.7 187.97 
L 747 187.37 
L 747.1 188.32 
L 747.2 188.54 
L 747.4 187.74 
L 747.5 187.50 
L 747.5 187.54 
L 747.7 187.57 
L 747.9 187.47 
L 748 188.51 
L 748.1 188.29 
L 748.3 186.98 
L 748.5 186.68 
L 748.5 187.78 
L 748.6 187.29 
L 748.7 186.59 
L 749.4 171.50 
L 749.5 171.83 
L 749.5 171.52 
L 749.7 176.39 
L 750.1 187.61 
L 750.3 187.27 
L 750.4 186.74 
L 750.5 187.30 
L 750.5 188.40 
L 750.6 188.32 
L 750.8 186.79 
L 750.9 186.87 
L 751.1 187.30 
L 751.2 187.31 
L 751.3 187.74 
L 751.4 187.58 
L 751.5 187.65 
L 751.5 188.18 
L 751.6 188.02 
L 751.7 187.86 
L 751.8 187.23 
L 752 188.26 
L 752 188.14 
L 752.2 187.14 
L 752.3 188.11 
L 752.4 187.94 
L 752.5 189.24 
L 752.5 188.17 
L 752.6 188.38 
L 752.7 187.22 
L 752.9 187.90 
L 753.1 188.08 
L 753.2 188.08 
L 753.3 187.54 
L 753.5 187.46 
L 754 188.09 
L 754.5 188.30 
L 755 188.35 
L 755.5 187.40 
L 756 187.39 
L 757 188.09 
L 757.5 188.63 
L 758 187.98 
L 759.5 188.54 
L 760 188.31 
L 760.5 187.68 
L 761 187.67 
L 761.5 187.83 
L 762.5 187.37 
L 764 187.85 
L 764.5 187.56 
L 765 187.74 
L 765.5 188.22 
L 766.2 187.82 
L 766.3 187.60 
L 766.5 187.92 
L 766.6 187.92 
L 766.7 188.69 
L 767 187.87 
L 767 187.53 
L 767.1 187.77 
L 767.2 187.42 
L 767.3 187.52 
L 767.5 188.03 
L 767.6 187.20 
L 767.9 187.66 
L 768.1 187.33 
L 768.3 188.16 
L 768.4 188.69 
L 768.5 187.99 
L 768.6 187.53 
L 768.8 188.50 
L 768.9 188.52 
L 769.3 186.84 
L 769.4 185.86 
L 769.6 179.80 
L 770.2 144.83 
L 770.3 146.47 
L 770.6 166.19 
L 770.9 184.18 
L 771.2 187.77 
L 771.3 187.60 
L 771.5 187.83 
L 771.6 187.41 
L 771.8 187.29 
L 772 188.26 
L 772 188.13 
L 772.1 187.43 
L 772.3 188.75 
L 772.5 189.68 
L 772.6 188.50 
L 772.7 188.00 
L 772.9 188.74 
L 773 188.75 
L 773.1 188.30 
L 773.2 188.07 
L 773.3 188.38 
L 773.4 188.32 
L 773.5 188.80 
L 773.6 188.14 
L 773.8 188.66 
L 773.9 189.20 
L 774.1 188.17 
L 774.5 188.36 
L 775.5 187.52 
L 776 187.70 
L 776.5 188.94 
L 777 189.73 
L 777.5 189.61 
L 778 189.79 
L 778.5 188.89 
L 779 189.00 
L 779.5 188.57 
L 780 188.65 
L 780.5 188.47 
L 781 187.74 
L 781.5 187.95 
L 782.5 187.52 
L 783 187.57 
L 783.5 188.25 
L 784.5 188.82 
L 785.5 188.91 
L 786 188.83 
L 786.5 188.19 
L 787 188.15 
L 787.5 187.70 
L 788 188.25 
L 789 188.69 
L 789.5 188.14 
L 790 187.80 
L 790.5 187.67 
L 792 187.88 
L 792.5 187.84 
L 793 187.49 
L 793.5 187.82 
L 794 187.63 
L 795 188.18 
L 795.5 188.56 
L 796 188.37 
L 796.5 187.52 
L 797 187.32 
L 797.5 187.34 
L 798 187.90 
L 798.5 187.71 
L 799 187.72 
L 799.5 187.21 
L 800.5 187.00 
L 801 187.89 
L 801.5 188.48 
L 802 188.83 
L 802.5 187.77 
L 803 187.56 
L 804 187.92 
L 805 187.14 
L 805.5 187.55 
L 806 187.72 
L 806.5 187.74 
L 808 186.25 
L 808.5 185.91 
L 810 185.84 
L 810.5 186.63 
L 811 187.20 
L 811.5 187.37 
L 812 186.74 
L 812.5 186.30 
L 813 186.57 
L 814 186.19 
L 814.5 186.57 
L 815 186.70 
L 815.5 187.40 
L 816 187.05 
L 816.5 186.99 
L 817 186.05 
L 817.5 185.62 
L 818.5 185.83 
L 819 185.56 
L 819.5 185.01 
L 820.5 185.10 
L 821 185.49 
L 822.5 184.01 
L 823 183.96 
L 823.5 185.10 
L 824 185.83 
L 824.5 185.79 
L 825.5 184.56 
L 826 184.54 
L 827 184.81 
L 827.5 185.23 
L 828 184.56 
L 828.5 184.67 
L 829 185.13 
L 829.5 185.21 
L 830 184.78 
L 830.5 183.88 
L 831.5 183.23 
L 832 183.27 
L 832.5 183.81 
L 833 184.04 
L 833.5 183.84 
L 834.5 183.80 
L 835 184.10 
L 835.5 183.65 
L 836 183.56 
L 836.5 182.73 
L 837 182.22 
L 837.5 182.04 
L 838 182.15 
L 839 181.79 
L 839.2 182.88 
L 839.3 182.72 
L 839.5 182.07 
L 839.6 183.09 
L 839.8 182.90 
L 839.9 183.31 
L 840 183.17 
L 840.1 181.48 
L 840.2 181.38 
L 840.5 181.67 
L 840.5 182.74 
L 840.6 182.59 
L 840.7 182.64 
L 840.8 181.61 
L 840.9 181.66 
L 841 181.63 
L 841.1 182.03 
L 841.4 183.34 
L 841.5 183.02 
L 841.5 183.26 
L 841.6 183.07 
L 841.7 183.16 
L 842 181.26 
L 842.1 181.12 
L 842.4 178.91 
L 842.5 178.88 
L 842.5 179.29 
L 842.6 178.53 
L 842.8 177.45 
L 843 176.67 
L 843 176.38 
L 843.1 176.84 
L 843.3 178.09 
L 843.5 178.71 
L 843.5 178.53 
L 843.9 181.51 
L 844 180.81 
L 844.1 180.93 
L 844.5 182.50 
L 844.6 183.53 
L 844.8 181.54 
L 844.9 181.61 
L 845 181.52 
L 845 181.64 
L 845.1 181.89 
L 845.3 182.89 
L 845.5 181.13 
L 845.6 181.69 
L 845.7 181.56 
L 845.8 182.07 
L 845.9 181.96 
L 846 182.60 
L 846.1 182.41 
L 846.2 182.57 
L 846.3 182.49 
L 846.4 182.58 
L 846.5 181.52 
L 846.8 182.34 
L 846.9 181.93 
L 847 182.02 
L 847.5 181.04 
L 848 181.97 
L 848.5 182.64 
L 849 183.10 
L 850 181.65 
L 850.5 181.11 
L 851 182.01 
L 851.5 182.04 
L 852 182.89 
L 852.5 181.89 
L 853 181.88 
L 854 180.32 
L 854.5 179.90 
L 855 179.82 
L 856 179.98 
L 856.5 180.27 
L 857.5 180.43 
L 858.5 180.52 
L 859.5 179.82 
L 860 179.74 
L 860.5 180.51 
L 861 180.29 
L 861.5 180.34 
L 862 180.05 
L 862.5 180.44 
L 863 180.17 
L 863.5 180.12 
L 864 179.88 
L 864.5 180.34 
L 865 179.72 
L 865.5 180.55 
L 866 180.39 
L 866.5 180.47 
L 867 179.32 
L 867.5 179.61 
L 868 179.45 
L 868.5 179.76 
L 869 179.14 
L 869.5 179.36 
L 870 179.12 
L 870.5 179.28 
L 871 179.16 
L 871.5 179.48 
L 872 179.04 
L 872.5 179.47 
L 873 178.74 
L 873.5 178.72 
L 874 179.13 
L 874.5 178.99 
L 875 179.61 
L 875.5 178.55 
L 876 178.65 
L 876.5 177.66 
L 877 177.68 
L 878.5 187.14 
L 879 190.14 
L 879.5 194.60 
L 881 209.93 
L 881.5 209.05 
L 882 208.81 
L 883 209.83 
L 883.5 209.95 
L 884 209.93 
L 884.5 209.35 
L 884.7 209.49 
L 884.9 209.86 
L 885.2 209.24 
L 886 210.00 
L 886 209.91 
L 886.1 209.90 
L 886.3 209.64 
L 886.5 209.62 
L 886.5 209.69 
L 886.7 210.25 
L 886.8 209.90 
L 886.9 208.57 
L 887 204.76 
L 887.2 181.29 
L 887.6 57.09 
L 887.80 -1 
M 888.79 -1 
L 889 57.11 
L 889 57.11 
L 889.5 197.20 
L 889.5 197.13 
L 889.7 208.47 
L 889.9 209.90 
L 890 210.27 
L 890.1 210.18 
L 890.5 209.66 
L 890.8 209.97 
L 891 210.06 
L 891 210.16 
L 891.1 210.14 
L 891.2 210.10 
L 891.4 209.88 
L 891.6 209.92 
L 891.7 209.72 
L 891.8 210.07 
L 891.8 209.88 
L 891.9 210.00 
L 892 209.54 
L 892.1 209.50 
L 892.2 209.95 
L 892.4 209.51 
L 892.5 209.44 
L 892.6 209.74 
L 892.7 209.76 
L 893 209.15 
L 893 209.22 
L 893.3 209.33 
L 893.4 209.22 
L 893.6 209.33 
L 893.8 209.01 
L 894 209.25 
L 894 209.65 
L 894.1 209.61 
L 894.2 209.48 
L 894.4 208.97 
L 894.7 208.67 
L 894.8 207.98 
L 895 203.13 
L 895.2 184.66 
L 895.7 118.93 
L 895.8 116.27 
L 895.9 118.91 
L 896.1 138.49 
L 896.6 202.90 
L 896.6 202.77 
L 896.8 207.75 
L 897 208.64 
L 897 208.44 
L 897.1 208.26 
L 897.1 208.35 
L 897.2 208.54 
L 897.3 208.39 
L 897.3 208.45 
L 897.5 208.78 
L 897.5 208.45 
L 897.6 208.75 
L 898.2 208.00 
L 898.3 208.50 
L 898.5 208.27 
L 898.6 207.93 
L 898.7 207.95 
L 898.7 207.94 
L 898.7 208.08 
L 898.8 207.73 
L 898.8 207.74 
L 898.9 207.09 
L 899.1 200.37 
L 899.1 200.42 
L 899.3 178.32 
L 899.8 105.39 
L 899.9 102.63 
L 899.9 102.63 
L 900 105.39 
L 900 105.35 
L 900.2 126.40 
L 900.2 126.36 
L 900.7 200.18 
L 900.9 206.49 
L 901.1 207.51 
L 901.2 207.77 
L 901.3 207.72 
L 901.4 207.40 
L 901.4 207.45 
L 901.6 206.97 
L 901.7 206.10 
L 901.7 206.16 
L 901.8 203.78 
L 902 189.13 
L 902 189.13 
L 902.7 95.09 
L 902.7 95.13 
L 902.8 97.96 
L 902.8 97.93 
L 903 119.56 
L 903 119.54 
L 903.6 204.01 
L 903.8 206.79 
L 904 207.40 
L 904 207.28 
L 904.2 206.92 
L 904.2 206.97 
L 904.3 206.92 
L 904.3 207.07 
L 904.4 206.80 
L 904.6 206.60 
L 904.6 206.67 
L 904.7 206.53 
L 904.7 206.54 
L 904.8 206.41 
L 904.8 206.41 
L 904.9 206.49 
L 904.9 206.48 
L 905 205.73 
L 905 205.93 
L 905.1 204.08 
L 905.1 204.11 
L 905.2 199.27 
L 905.4 172.34 
L 905.4 172.34 
L 906 55.89 
L 906 55.90 
L 906.1 52.79 
L 906.1 52.79 
L 906.2 55.89 
L 906.4 80.13 
L 907.1 203.51 
L 907.3 205.99 
L 907.5 206.16 
L 907.5 205.95 
L 907.6 206.08 
L 907.7 206.16 
L 907.9 206.41 
L 908 206.29 
L 908.1 206.05 
L 908.2 205.93 
L 908.5 206.24 
L 908.5 206.17 
L 908.6 206.11 
L 908.9 205.61 
L 909.2 205.64 
L 909.4 206.17 
L 909.5 206.14 
L 909.6 205.72 
L 909.7 205.84 
L 910 205.46 
L 910 205.52 
L 910.6 205.66 
L 910.8 205.34 
L 910.9 205.50 
L 911.5 205.77 
L 911.5 205.75 
L 911.7 205.74 
L 911.8 205.75 
L 912.2 205.33 
L 912.4 205.42 
L 912.6 205.86 
L 912.7 205.42 
L 912.8 205.44 
L 913.1 205.45 
L 913.3 205.69 
L 913.4 205.53 
L 913.6 203.43 
L 913.8 190.73 
L 914.1 130.85 
L 914.5 64.65 
L 914.5 64.66 
L 914.6 61.60 
L 914.7 64.67 
L 914.9 88.39 
L 915.5 199.43 
L 915.7 204.78 
L 915.9 205.35 
L 916 205.35 
L 916.1 205.64 
L 916.2 205.73 
L 916.6 205.46 
L 916.9 205.43 
L 917.3 205.42 
L 917.7 206.04 
L 917.9 205.80 
L 918 205.73 
L 918 205.94 
L 918.1 205.71 
L 918.2 205.65 
L 918.3 205.94 
L 918.5 205.81 
L 918.5 205.34 
L 919.5 205.34 
L 921 205.83 
L 921.5 205.61 
L 922.5 205.51 
L 923.5 205.68 
L 924.2 205.44 
L 924.3 205.44 
L 924.5 205.96 
L 924.8 205.37 
L 924.9 205.36 
L 925.1 205.56 
L 925.2 205.33 
L 925.4 205.60 
L 925.5 205.95 
L 925.6 205.84 
L 925.7 205.87 
L 926 205.28 
L 926 205.34 
L 926.3 205.66 
L 926.4 205.69 
L 926.5 205.43 
L 926.6 205.05 
L 926.7 204.17 
L 926.8 201.48 
L 927 180.99 
L 927 181.20 
L 927.8 28.90 
L 927.9 32.09 
L 928.1 57.15 
L 928.9 204.17 
L 929.1 205.68 
L 929.2 205.70 
L 929.4 205.29 
L 929.6 205.75 
L 929.7 205.68 
L 930 205.41 
L 930.1 205.72 
L 930.3 205.92 
L 930.5 206.19 
L 930.5 205.85 
L 930.6 205.96 
L 930.8 206.19 
L 931.1 205.63 
L 931.4 206.15 
L 931.6 205.71 
L 931.7 205.91 
L 932 206.08 
L 933 206.08 
L 934 206.56 
L 936.5 206.61 
L 937 206.86 
L 938.5 206.95 
L 939 207.12 
L 940 207.13 
L 940.5 207.40 
L 944 208.02 
L 944.5 208.23 
L 945 208.24 
L 946.6 208.59 
L 946.7 208.41 
L 947 208.76 
L 947 208.49 
L 947.1 208.52 
L 947.5 208.39 
L 947.6 208.81 
L 947.8 208.85 
L 947.9 208.68 
L 948 209.04 
L 948.1 208.97 
L 948.3 208.91 
L 948.5 208.91 
L 948.6 208.72 
L 948.7 208.60 
L 948.9 209.02 
L 949 208.92 
L 949.1 208.30 
L 949.2 207.21 
L 949.3 204.13 
L 949.5 180.73 
L 949.9 57.05 
L 950.10 -1 
M 951.09 -1 
L 951.3 57.07 
L 951.3 57.05 
L 951.8 196.80 
L 951.8 196.48 
L 952 207.66 
L 952 207.36 
L 952.2 209.35 
L 952.3 209.37 
L 952.3 209.37 
L 952.5 209.13 
L 952.5 209.27 
L 952.6 209.46 
L 952.8 209.26 
L 952.9 209.45 
L 952.9 209.39 
L 953 209.26 
L 953 209.28 
L 953.1 209.33 
L 953.1 209.17 
L 953.2 209.21 
L 953.4 209.27 
L 953.5 209.75 
L 953.5 209.73 
L 953.7 208.97 
L 953.8 209.01 
L 953.9 207.66 
L 954.1 203.10 
L 954.1 203.19 
L 954.6 186.17 
L 954.7 187.25 
L 955 198.85 
L 955.3 207.78 
L 955.5 209.48 
L 955.7 209.94 
L 956 209.49 
L 956.1 209.68 
L 956.4 209.52 
L 956.8 209.66 
L 957 210.04 
L 957.1 209.95 
L 957.3 210.07 
L 957.5 209.82 
L 957.6 210.17 
L 958 209.75 
L 958 209.84 
L 958.2 209.80 
L 958.5 210.16 
L 958.5 210.13 
L 959 209.95 
L 959.3 209.98 
L 959.4 209.86 
L 959.6 209.94 
L 959.7 210.20 
L 960 209.96 
L 960 210.06 
L 960.4 210.22 
L 960.5 210.00 
L 960.5 210.05 
L 960.7 210.36 
L 960.8 210.57 
L 960.9 210.49 
L 961 210.00 
L 961.1 210.23 
L 961.3 210.57 
L 961.6 210.33 
L 962 210.39 
L 962 210.40 
L 962.1 210.56 
L 962.2 210.38 
L 962.4 208.19 
L 962.6 198.58 
L 962.9 159.08 
L 963.2 125.16 
L 963.3 122.63 
L 963.4 125.22 
L 963.6 144.29 
L 964.1 205.55 
L 964.3 209.99 
L 964.6 210.60 
L 965 210.72 
L 965.1 210.56 
L 965.2 210.73 
L 965.3 210.62 
L 965.5 210.92 
L 965.8 210.76 
L 965.9 210.81 
L 966 210.67 
L 966 210.83 
L 966.1 210.74 
L 966.2 210.89 
L 966.3 210.80 
L 966.6 211.00 
L 966.7 210.99 
L 966.8 210.85 
L 967.1 211.03 
L 967.5 210.77 
L 968.5 210.85 
L 969.5 211.16 
L 974 211.58 
L 975.5 212.26 
L 976 212.11 
L 976.5 212.11 
L 977 211.90 
L 978.5 212.12 
L 979 212.66 
L 979.5 212.75 
L 980 212.97 
L 980.5 212.53 
L 981 212.64 
L 981.5 212.57 
L 982 212.70 
L 983 212.56 
L 984.5 212.89 
L 986.5 213.16 
L 987 213.37 
L 988.5 213.30 
L 989 213.26 
L 990 213.42 
L 990.5 213.50 
L 992 213.39 
L 993 213.98 
L 994 213.91 
L 994.2 213.66 
L 994.4 213.80 
L 995.1 214.00 
L 995.3 213.74 
L 995.5 214.15 
L 995.5 214.31 
L 995.6 214.13 
L 995.7 213.97 
L 996 214.13 
L 996 214.04 
L 996.3 213.56 
L 996.4 212.48 
L 996.5 208.80 
L 996.7 183.85 
L 997.30 -1 
M 998.29 -1 
L 998.5 57.41 
L 999 200.67 
L 999 200.60 
L 999.2 212.52 
L 999.4 214.13 
L 999.7 214.39 
L 1000.2 214.63 
L 1000.4 214.40 
L 1000.5 214.67 
L 1000.5 214.58 
L 1000.6 214.56 
L 1000.8 214.43 
L 1001 214.48 
L 1001 214.45 
L 1001.1 214.58 
L 1001.3 214.70 
L 1001.5 214.22 
L 1001.5 214.28 
L 1001.7 214.57 
L 1002.2 214.73 
L 1002.6 214.41 
L 1002.9 214.48 
L 1003.1 214.86 
L 1003.3 214.68 
L 1003.4 214.74 
L 1003.5 214.96 
L 1003.5 214.91 
L 1003.7 214.57 
L 1004 215.11 
L 1004 215.00 
L 1004.2 214.86 
L 1004.3 214.95 
L 1004.5 214.77 
L 1004.5 214.89 
L 1004.6 214.81 
L 1004.8 214.19 
L 1004.9 213.27 
L 1005 210.39 
L 1005.2 188.87 
L 1005.9 37.00 
L 1006 33.79 
L 1006 33.79 
L 1006.1 37.00 
L 1006.3 62.20 
L 1006.3 62.20 
L 1007.1 213.73 
L 1007.1 213.61 
L 1007.3 214.70 
L 1007.3 214.63 
L 1007.6 214.99 
L 1007.6 214.84 
L 1007.7 214.83 
L 1007.8 215.03 
L 1008.1 214.61 
L 1008.2 215.19 
L 1008.3 214.57 
L 1008.4 213.41 
L 1008.4 213.43 
L 1008.5 209.42 
L 1008.7 184.32 
L 1009.30 -1 
M 1010.29 -1 
L 1010.5 57.46 
L 1010.5 57.45 
L 1011 201.33 
L 1011.2 213.25 
L 1011.4 214.77 
L 1011.7 215.12 
L 1011.8 214.99 
L 1012 215.29 
L 1012.2 214.99 
L 1012.3 214.96 
L 1012.5 215.34 
L 1012.5 215.45 
L 1012.6 215.41 
L 1012.8 215.31 
L 1013 215.33 
L 1013.1 215.16 
L 1013.2 215.06 
L 1013.5 215.54 
L 1013.5 215.48 
L 1013.6 215.33 
L 1013.7 215.39 
L 1014 215.20 
L 1015.5 215.23 
L 1016.5 215.68 
L 1017 215.72 
L 1017.5 215.63 
L 1018.5 215.76 
L 1019.5 215.54 
L 1020.5 215.82 
L 1021.5 215.64 
L 1021.5 215.52 
L 1021.6 215.53 
L 1021.9 215.87 
L 1022 215.71 
L 1022 215.74 
L 1022.2 215.96 
L 1022.3 215.89 
L 1022.4 215.52 
L 1022.5 215.69 
L 1022.5 215.57 
L 1022.6 215.57 
L 1022.7 215.40 
L 1023 215.66 
L 1023.1 215.82 
L 1023.3 215.63 
L 1023.4 215.68 
L 1023.5 215.89 
L 1023.5 215.86 
L 1023.6 215.77 
L 1023.8 215.42 
L 1023.9 215.33 
L 1024 215.43 
L 1024.4 214.09 
L 1024.6 212.66 
L 1025 210.16 
L 1025.2 209.51 
L 1025.3 209.65 
L 1025.5 210.73 
L 1025.5 210.69 
L 1026.2 214.99 
L 1026.5 215.81 
L 1026.6 215.98 
L 1026.9 215.84 
L 1027.5 216.24 
L 1027.6 215.84 
L 1027.9 216.19 
L 1028 216.10 
L 1028.2 215.83 
L 1028.3 215.95 
L 1028.5 216.38 
L 1028.5 216.34 
L 1028.6 216.07 
L 1028.8 216.16 
L 1029 216.13 
L 1029.1 216.05 
L 1029.5 215.98 
L 1030.5 216.14 
L 1031.5 216.15 
L 1032.5 216.31 
L 1033 216.52 
L 1034 216.57 
L 1035 216.89 
L 1035.5 216.92 
L 1036.5 216.57 
L 1037 216.58 
L 1037.5 216.39 
L 1038.5 216.67 
L 1039 216.76 
L 1041 216.50 
L 1044 217.02 
L 1045.6 217.06 
L 1045.8 216.92 
L 1046 217.06 
L 1046 217.04 
L 1046.3 217.40 
L 1046.5 217.02 
L 1046.5 217.15 
L 1047 217.05 
L 1047 217.10 
L 1047.2 217.00 
L 1047.4 217.47 
L 1047.5 217.43 
L 1047.6 217.18 
L 1047.9 217.04 
L 1048 217.37 
L 1048 217.14 
L 1048.1 217.15 
L 1048.3 216.69 
L 1048.4 216.57 
L 1048.7 214.74 
L 1049.1 210.06 
L 1049.5 205.64 
L 1049.6 205.58 
L 1049.7 205.85 
L 1049.9 207.56 
L 1050.8 216.54 
L 1051.2 217.79 
L 1051.4 217.30 
L 1051.5 217.36 
L 1051.5 217.34 
L 1051.6 217.19 
L 1051.9 217.57 
L 1052 217.77 
L 1052 217.74 
L 1052.1 217.67 
L 1052.2 217.31 
L 1052.3 217.44 
L 1052.4 217.35 
L 1052.7 217.58 
L 1052.9 217.47 
L 1053 217.88 
L 1053 217.81 
L 1053.1 217.82 
L 1053.2 217.46 
L 1053.5 217.58 
L 1053.5 217.56 
L 1054 217.71 
L 1055 217.55 
L 1057 217.67 
L 1057.5 217.93 
L 1058.5 218.30 
L 1060 217.91 
L 1061 218.34 
L 1061.5 218.38 
L 1062 218.28 
L 1062.5 218.48 
L 1062.7 218.90 
L 1062.9 218.60 
L 1063.2 218.43 
L 1063.5 218.48 
L 1063.6 218.39 
L 1063.7 218.22 
L 1063.9 218.34 
L 1064.1 218.41 
L 1064.4 218.40 
L 1064.6 218.90 
L 1064.7 218.76 
L 1065 218.44 
L 1065 218.65 
L 1065.1 218.63 
L 1065.2 218.57 
L 1065.8 215.54 
L 1066.5 207.41 
L 1066.6 207.49 
L 1066.7 207.68 
L 1066.9 208.91 
L 1067.7 217.71 
L 1068.1 218.72 
L 1068.3 218.76 
L 1068.5 218.87 
L 1068.6 218.81 
L 1068.8 218.83 
L 1069 219.05 
L 1069 219.02 
L 1069.1 218.69 
L 1069.4 218.94 
L 1069.5 218.80 
L 1069.5 218.96 
L 1069.7 218.99 
L 1069.9 218.81 
L 1070.1 218.94 
L 1070.3 218.95 
L 1070.4 219.07 
L 1070.5 219.41 
L 1070.5 219.24 
L 1071 219.29 
L 1071.7 218.89 
L 1072.1 219.43 
L 1072.2 219.34 
L 1072.4 218.95 
L 1072.6 219.36 
L 1072.9 219.00 
L 1073.1 219.29 
L 1073.3 218.98 
L 1073.4 219.05 
L 1073.6 219.57 
L 1073.8 219.26 
L 1074 219.41 
L 1074.1 219.22 
L 1074.3 219.27 
L 1074.4 218.98 
L 1074.5 218.33 
L 1074.5 218.45 
L 1074.6 216.55 
L 1074.7 211.53 
L 1074.9 182.87 
L 1075.5 64.13 
L 1075.6 61.01 
L 1075.7 64.15 
L 1075.9 88.58 
L 1076.6 216.68 
L 1076.8 219.30 
L 1077 219.48 
L 1077.1 219.76 
L 1077.2 219.72 
L 1077.4 219.55 
L 1077.6 219.47 
L 1077.9 219.77 
L 1078.2 219.80 
L 1078.5 219.50 
L 1078.5 219.51 
L 1078.6 219.61 
L 1078.7 219.46 
L 1079 219.73 
L 1079.2 219.68 
L 1079.4 219.89 
L 1079.5 219.96 
L 1079.5 219.69 
L 1080 219.71 
L 1080.5 219.99 
L 1081.5 220.32 
L 1082 219.96 
L 1083 220.17 
L 1083.5 220.26 
L 1084.5 219.93 
L 1085.5 220.06 
L 1086 220.31 
L 1087.5 220.33 
L 1088 220.27 
L 1088 220.27 
" clip-path="url(#p4914ac7ae6)" style="fill: none; stroke: #ff0000; stroke-width: 4.3; stroke-linecap: square"/>
</g>
<g id="patch_3">
<path d="M 138.6 474 
L 138.6 23.3 
" style="fill: none; stroke: #000000; stroke-width: 3.4; stroke-linejoin: miter; stroke-linecap: square"/>
</g>
<g id="patch_4">
<path d="M 1086.2 474 
L 1086.2 23.3 
" style="fill: none; stroke: #000000; stroke-width: 3.4; stroke-linejoin: miter; stroke-linecap: square"/>
</g>
<g id="patch_5">
<path d="M 138.6 474 
L 1086.2 474 
" style="fill: none; stroke: #000000; stroke-width: 3.4; stroke-linejoin: miter; stroke-linecap: square"/>
</g>
<g id="patch_6">
<path d="M 138.6 23.3 
L 1086.2 23.3 
" style="fill: none; stroke: #000000; stroke-width: 3.4; stroke-linejoin: miter; stroke-linecap: square"/>
</g>
<g id="line2d_100">
<defs>
<path id="m6a62156ccc" d="M -16.8 16.8 
L 16.8 16.8 
L 16.8 -16.8 
L -16.8 -16.8 
z
" style="stroke: #ffa500; stroke-width: 2.6; stroke-linejoin: miter"/>
</defs>
<g clip-path="url(#p4914ac7ae6)">
<use href="#m6a62156ccc" x="450.7" y="187.2" style="fill-opacity: 0; stroke: #ffa500; stroke-width: 2.6; stroke-linejoin: miter"/>
</g>
</g>
<g id="line2d_101">
<g clip-path="url(#p4914ac7ae6)">
<use href="#m6a62156ccc" x="566.2" y="172" style="fill-opacity: 0; stroke: #ffa500; stroke-width: 2.6; stroke-linejoin: miter"/>
</g>
</g>
<g id="line2d_102">
<g clip-path="url(#p4914ac7ae6)">
<use href="#m6a62156ccc" x="703.2" y="183.6" style="fill-opacity: 0; stroke: #ffa500; stroke-width: 2.6; stroke-linejoin: miter"/>
</g>
</g>
<g id="line2d_103">
<g clip-path="url(#p4914ac7ae6)">
<use href="#m6a62156ccc" x="784.4" y="185.8" style="fill-opacity: 0; stroke: #ffa500; stroke-width: 2.6; stroke-linejoin: miter"/>
</g>
</g>
<g id="line2d_104">
<g clip-path="url(#p4914ac7ae6)">
<use href="#m6a62156ccc" x="807.4" y="184.1" style="fill-opacity: 0; stroke: #ffa500; stroke-width: 2.6; stroke-linejoin: miter"/>
</g>
</g>
<g id="line2d_105">
<g clip-path="url(#p4914ac7ae6)">
<use href="#m6a62156ccc" x="864.8" y="178" style="fill-opacity: 0; stroke: #ffa500; stroke-width: 2.6; stroke-linejoin: miter"/>
</g>
</g>
<g id="line2d_106">
<g clip-path="url(#p4914ac7ae6)">
<use href="#m6a62156ccc" x="894.8" y="176.5" style="fill-opacity: 0; stroke: #ffa500; stroke-width: 2.6; stroke-linejoin: miter"/>
</g>
</g>
<g id="line2d_107">
<path d="M 416.3 189.6 
L 482.7 189.6 
" clip-path="url(#p4914ac7ae6)" style="fill: none; stroke: #000000; stroke-width: 2.3"/>
</g>
<g id="line2d_108">
<path d="M 450.6 187.2 
L 450.6 193 
" clip-path="url(#p4914ac7ae6)" style="fill: none; stroke: #000000; stroke-width: 2.3"/>
</g>
<g id="line2d_109">
<path d="M 438.6 187.2 
L 462.6 187.2 
" clip-path="url(#p4914ac7ae6)" style="fill: none; stroke: #000000; stroke-width: 2.3"/>
</g>
<g id="line2d_110">
<path d="M 438.6 193 
L 462.6 193 
" clip-path="url(#p4914ac7ae6)" style="fill: none; stroke: #000000; stroke-width: 2.3"/>
</g>
<g id="line2d_111">
<path d="M 530.3 163.5 
L 599.6 163.5 
" clip-path="url(#p4914ac7ae6)" style="fill: none; stroke: #000000; stroke-width: 2.3"/>
</g>
<g id="line2d_112">
<path d="M 566 160.5 
L 566 166.5 
" clip-path="url(#p4914ac7ae6)" style="fill: none; stroke: #000000; stroke-width: 2.3"/>
</g>
<g id="line2d_113">
<path d="M 554 160.5 
L 578 160.5 
" clip-path="url(#p4914ac7ae6)" style="fill: none; stroke: #000000; stroke-width: 2.3"/>
</g>
<g id="line2d_114">
<path d="M 554 166.5 
L 578 166.5 
" clip-path="url(#p4914ac7ae6)" style="fill: none; stroke: #000000; stroke-width: 2.3"/>
</g>
<g id="line2d_115">
<path d="M 665.3 188.2 
L 738.3 188.2 
" clip-path="url(#p4914ac7ae6)" style="fill: none; stroke: #000000; stroke-width: 2.3"/>
</g>
<g id="line2d_116">
<path d="M 703.3 184.6 
L 703.3 191.7 
" clip-path="url(#p4914ac7ae6)" style="fill: none; stroke: #000000; stroke-width: 2.3"/>
</g>
<g id="line2d_117">
<path d="M 691.3 184.6 
L 715.3 184.6 
" clip-path="url(#p4914ac7ae6)" style="fill: none; stroke: #000000; stroke-width: 2.3"/>
</g>
<g id="line2d_118">
<path d="M 691.3 191.7 
L 715.3 191.7 
" clip-path="url(#p4914ac7ae6)" style="fill: none; stroke: #000000; stroke-width: 2.3"/>
</g>
<g id="line2d_119">
<path d="M 768.2 190.6 
L 800.6 190.6 
" clip-path="url(#p4914ac7ae6)" style="fill: none; stroke: #000000; stroke-width: 2.3"/>
</g>
<g id="line2d_120">
<path d="M 784.6 183.3 
L 784.6 198.3 
" clip-path="url(#p4914ac7ae6)" style="fill: none; stroke: #000000; stroke-width: 2.3"/>
</g>
<g id="line2d_121">
<path d="M 772.6 183.3 
L 796.6 183.3 
" clip-path="url(#p4914ac7ae6)" style="fill: none; stroke: #000000; stroke-width: 2.3"/>
</g>
<g id="line2d_122">
<path d="M 772.6 198.3 
L 796.6 198.3 
" clip-path="url(#p4914ac7ae6)" style="fill: none; stroke: #000000; stroke-width: 2.3"/>
</g>
<g id="line2d_123">
<path d="M 771 183.3 
L 840.7 183.3 
" clip-path="url(#p4914ac7ae6)" style="fill: none; stroke: #000000; stroke-width: 2.3"/>
</g>
<g id="line2d_124">
<path d="M 807.3 179.8 
L 807.3 187.2 
" clip-path="url(#p4914ac7ae6)" style="fill: none; stroke: #000000; stroke-width: 2.3"/>
</g>
<g id="line2d_125">
<path d="M 795.3 179.8 
L 819.3 179.8 
" clip-path="url(#p4914ac7ae6)" style="fill: none; stroke: #000000; stroke-width: 2.3"/>
</g>
<g id="line2d_126">
<path d="M 795.3 187.2 
L 819.3 187.2 
" clip-path="url(#p4914ac7ae6)" style="fill: none; stroke: #000000; stroke-width: 2.3"/>
</g>
<g id="line2d_127">
<path d="M 848.4 172.3 
L 880.5 172.3 
" clip-path="url(#p4914ac7ae6)" style="fill: none; stroke: #000000; stroke-width: 2.3"/>
</g>
<g id="line2d_128">
<path d="M 865 167.4 
L 865 177.9 
" clip-path="url(#p4914ac7ae6)" style="fill: none; stroke: #000000; stroke-width: 2.3"/>
</g>
<g id="line2d_129">
<path d="M 853 167.4 
L 877 167.4 
" clip-path="url(#p4914ac7ae6)" style="fill: none; stroke: #000000; stroke-width: 2.3"/>
</g>
<g id="line2d_130">
<path d="M 853 177.9 
L 877 177.9 
" clip-path="url(#p4914ac7ae6)" style="fill: none; stroke: #000000; stroke-width: 2.3"/>
</g>
<g id="line2d_131">
<path d="M 856.5 179.9 
L 929.5 179.9 
" clip-path="url(#p4914ac7ae6)" style="fill: none; stroke: #000000; stroke-width: 2.3"/>
</g>
<g id="line2d_132">
<path d="M 895 174.8 
L 895 186 
" clip-path="url(#p4914ac7ae6)" style="fill: none; stroke: #000000; stroke-width: 2.3"/>
</g>
<g id="line2d_133">
<path d="M 883 174.8 
L 907 174.8 
" clip-path="url(#p4914ac7ae6)" style="fill: none; stroke: #000000; stroke-width: 2.3"/>
</g>
<g id="line2d_134">
<path d="M 883 186 
L 907 186 
" clip-path="url(#p4914ac7ae6)" style="fill: none; stroke: #000000; stroke-width: 2.3"/>
</g>
<g id="line2d_135">
<path d="M 205.1 373.6 
L 274 373.6 
" clip-path="url(#p4914ac7ae6)" style="fill: none; stroke: #000000; stroke-width: 2.3"/>
</g>
<g id="line2d_136">
<path d="M 241.2 373.6 
L 241.2 396.9 
" clip-path="url(#p4914ac7ae6)" style="fill: none; stroke: #000000; stroke-width: 2.3"/>
</g>
<g id="line2d_137">
<path d="M 235.8 386.3 
L 241.2 396.9 
L 246.6 386.3 
" clip-path="url(#p4914ac7ae6)" style="fill: none; stroke: #000000; stroke-width: 2.3"/>
</g>
<g id="line2d_138">
<path d="M 306.1 375 
L 375.7 375 
" clip-path="url(#p4914ac7ae6)" style="fill: none; stroke: #000000; stroke-width: 2.3"/>
</g>
<g id="line2d_139">
<path d="M 342.3 375 
L 342.3 398.3 
" clip-path="url(#p4914ac7ae6)" style="fill: none; stroke: #000000; stroke-width: 2.3"/>
</g>
<g id="line2d_140">
<path d="M 336.9 387.7 
L 342.3 398.3 
L 347.7 387.7 
" clip-path="url(#p4914ac7ae6)" style="fill: none; stroke: #000000; stroke-width: 2.3"/>
</g>
<g id="line2d_141">
<defs>
<path id="mfd84c55ed5" d="M 0 9.65 
C 2.55 9.65 5.01 8.63 6.82 6.82 
C 8.63 5.01 9.65 2.55 9.65 0 
C 9.65 -2.55 8.63 -5.01 6.82 -6.82 
C 5.01 -8.63 2.55 -9.65 0 -9.65 
C -2.55 -9.65 -5.01 -8.63 -6.82 -6.82 
C -8.63 -5.01 -9.65 -2.55 -9.65 0 
C -9.65 2.55 -8.63 5.01 -6.82 6.82 
C -5.01 8.63 -2.55 9.65 0 9.65 
z
" style="stroke: #000000; stroke-width: 2.2"/>
</defs>
<g clip-path="url(#p4914ac7ae6)">
<use href="#mfd84c55ed5" x="450.6" y="189.6" style="fill: #1e90ff; stroke: #000000; stroke-width: 2.2"/>
</g>
</g>
<g id="line2d_142">
<g clip-path="url(#p4914ac7ae6)">
<use href="#mfd84c55ed5" x="566" y="163.5" style="fill: #1e90ff; stroke: #000000; stroke-width: 2.2"/>
</g>
</g>
<g id="line2d_143">
<g clip-path="url(#p4914ac7ae6)">
<use href="#mfd84c55ed5" x="703.3" y="188.2" style="fill: #1e90ff; stroke: #000000; stroke-width: 2.2"/>
</g>
</g>
<g id="line2d_144">
<g clip-path="url(#p4914ac7ae6)">
<use href="#mfd84c55ed5" x="784.6" y="190.6" style="fill: #1e90ff; stroke: #000000; stroke-width: 2.2"/>
</g>
</g>
<g id="line2d_145">
<g clip-path="url(#p4914ac7ae6)">
<use href="#mfd84c55ed5" x="807.3" y="183.3" style="fill: #1e90ff; stroke: #000000; stroke-width: 2.2"/>
</g>
</g>
<g id="line2d_146">
<g clip-path="url(#p4914ac7ae6)">
<use href="#mfd84c55ed5" x="865" y="172.3" style="fill: #1e90ff; stroke: #000000; stroke-width: 2.2"/>
</g>
</g>
<g id="line2d_147">
<g clip-path="url(#p4914ac7ae6)">
<use href="#mfd84c55ed5" x="895" y="179.9" style="fill: #1e90ff; stroke: #000000; stroke-width: 2.2"/>
</g>
</g>
</g>
<g id="axes_2">
<g id="patch_7">
<path d="M 138.6 628.6 
L 1086.2 628.6 
L 1086.2 486.9 
L 138.6 486.9 
z
" style="fill: #ffffff"/>
</g>
<g id="line2d_148">
<path d="M 138.6 557.75 
L 1086.2 557.75 
" clip-path="url(#pca2b7f9ee2)" style="fill: none; stroke-dasharray: 4.9,8.08; stroke-dashoffset: 0; stroke: #000000; stroke-width: 4.9"/>
</g>
<g id="matplotlib.axis_3">
<g id="xtick_11">
<g id="line2d_149">
<g>
<use href="#meb02f2e093" x="193.55" y="628.6" style="stroke: #000000; stroke-width: 2.3"/>
</g>
</g>
<g id="line2d_150">
<g>
<use href="#m33e6c5e1b2" x="193.55" y="486.9" style="stroke: #000000; stroke-width: 2.3"/>
</g>
</g>
<g id="text_6">
<text style="font-size: 24.4px; font-family: 'DejaVu Sans', sans-serif; text-anchor: middle" x="193.55" y="655.44" transform="rotate(-0 193.55 655.44)">0.8</text>
</g>
</g>
<g id="xtick_12">
<g id="line2d_151">
<g>
<use href="#meb02f2e093" x="285.38" y="628.6" style="stroke: #000000; stroke-width: 2.3"/>
</g>
</g>
<g id="line2d_152">
<g>
<use href="#m33e6c5e1b2" x="285.38" y="486.9" style="stroke: #000000; stroke-width: 2.3"/>
</g>
</g>
<g id="text_7">
<text style="font-size: 24.4px; font-family: 'DejaVu Sans', sans-serif; text-anchor: middle" x="285.38" y="655.44" transform="rotate(-0 285.38 655.44)">1.0</text>
</g>
</g>
<g id="xtick_13">
<g id="line2d_153">
<g>
<use href="#meb02f2e093" x="570.64" y="628.6" style="stroke: #000000; stroke-width: 2.3"/>
</g>
</g>
<g id="line2d_154">
<g>
<use href="#m33e6c5e1b2" x="570.64" y="486.9" style="stroke: #000000; stroke-width: 2.3"/>
</g>
</g>
<g id="text_8">
<text style="font-size: 24.4px; font-family: 'DejaVu Sans', sans-serif; text-anchor: middle" x="570.64" y="655.44" transform="rotate(-0 570.64 655.44)">2.0</text>
</g>
</g>
<g id="xtick_14">
<g id="line2d_155">
<g>
<use href="#meb02f2e093" x="737.50" y="628.6" style="stroke: #000000; stroke-width: 2.3"/>
</g>
</g>
<g id="line2d_156">
<g>
<use href="#m33e6c5e1b2" x="737.50" y="486.9" style="stroke: #000000; stroke-width: 2.3"/>
</g>
</g>
<g id="text_9">
<text style="font-size: 24.4px; font-family: 'DejaVu Sans', sans-serif; text-anchor: middle" x="737.50" y="655.44" transform="rotate(-0 737.50 655.44)">3.0</text>
</g>
</g>
<g id="xtick_15">
<g id="line2d_157">
<g>
<use href="#meb02f2e093" x="855.89" y="628.6" style="stroke: #000000; stroke-width: 2.3"/>
</g>
</g>
<g id="line2d_158">
<g>
<use href="#m33e6c5e1b2" x="855.89" y="486.9" style="stroke: #000000; stroke-width: 2.3"/>
</g>
</g>
<g id="text_10">
<text style="font-size: 24.4px; font-family: 'DejaVu Sans', sans-serif; text-anchor: middle" x="855.89" y="655.44" transform="rotate(-0 855.89 655.44)">4.0</text>
</g>
</g>
<g id="xtick_16">
<g id="line2d_159">
<g>
<use href="#meb02f2e093" x="947.72" y="628.6" style="stroke: #000000; stroke-width: 2.3"/>
</g>
</g>
<g id="line2d_160">
<g>
<use href="#m33e6c5e1b2" x="947.72" y="486.9" style="stroke: #000000; stroke-width: 2.3"/>
</g>
</g>
<g id="text_11">
<text style="font-size: 24.4px; font-family: 'DejaVu Sans', sans-serif; text-anchor: middle" x="947.72" y="655.44" transform="rotate(-0 947.72 655.44)">5.0</text>
</g>
</g>
<g id="xtick_17">
<g id="line2d_161">
<g>
<use href="#meb02f2e093" x="1022.76" y="628.6" style="stroke: #000000; stroke-width: 2.3"/>
</g>
</g>
<g id="line2d_162">
<g>
<use href="#m33e6c5e1b2" x="1022.76" y="486.9" style="stroke: #000000; stroke-width: 2.3"/>
</g>
</g>
<g id="text_12">
<text style="font-size: 24.4px; font-family: 'DejaVu Sans', sans-serif; text-anchor: middle" x="1022.76" y="655.44" transform="rotate(-0 1022.76 655.44)">6.0</text>
</g>
</g>
<g id="xtick_18">
<g id="line2d_163">
<g>
<use href="#m80899642cb" x="138.6" y="628.6" style="stroke: #000000; stroke-width: 1.5"/>
</g>
</g>
<g id="line2d_164">
<g>
<use href="#m92ab575aa1" x="138.6" y="486.9" style="stroke: #000000; stroke-width: 1.5"/>
</g>
</g>
</g>
<g id="xtick_19">
<g id="line2d_165">
<g>
<use href="#m80899642cb" x="242.02" y="628.6" style="stroke: #000000; stroke-width: 1.5"/>
</g>
</g>
<g id="line2d_166">
<g>
<use href="#m92ab575aa1" x="242.02" y="486.9" style="stroke: #000000; stroke-width: 1.5"/>
</g>
</g>
</g>
<g id="xtick_20">
<g id="line2d_167">
<g>
<use href="#m80899642cb" x="1086.2" y="628.6" style="stroke: #000000; stroke-width: 1.5"/>
</g>
</g>
<g id="line2d_168">
<g>
<use href="#m92ab575aa1" x="1086.2" y="486.9" style="stroke: #000000; stroke-width: 1.5"/>
</g>
</g>
</g>
<g id="text_13">
<g transform="translate(336.67 700.35)">
<text>
<tspan x="0" y="-0.37" style="font-size: 39px; font-family: 'DejaVu Sans', sans-serif">O</tspan>
<tspan x="30.69" y="-0.37" style="font-size: 39px; font-family: 'DejaVu Sans', sans-serif">b</tspan>
<tspan x="55.45" y="-0.37" style="font-size: 39px; font-family: 'DejaVu Sans', sans-serif">s</tspan>
<tspan x="75.77" y="-0.37" style="font-size: 39px; font-family: 'DejaVu Sans', sans-serif">e</tspan>
<tspan x="99.76" y="-0.37" style="font-size: 39px; font-family: 'DejaVu Sans', sans-serif">r</tspan>
<tspan x="115.80" y="-0.37" style="font-size: 39px; font-family: 'DejaVu Sans', sans-serif">v</tspan>
<tspan x="138.88" y="-0.37" style="font-size: 39px; font-family: 'DejaVu Sans', sans-serif">e</tspan>
<tspan x="162.87" y="-0.37" style="font-size: 39px; font-family: 'DejaVu Sans', sans-serif">d</tspan>
<tspan x="205.86" y="-0.37" style="font-size: 39px; font-family: 'DejaVu Sans', sans-serif">W</tspan>
<tspan x="244.42" y="-0.37" style="font-size: 39px; font-family: 'DejaVu Sans', sans-serif">a</tspan>
<tspan x="268.32" y="-0.37" style="font-size: 39px; font-family: 'DejaVu Sans', sans-serif">v</tspan>
<tspan x="291.40" y="-0.37" style="font-size: 39px; font-family: 'DejaVu Sans', sans-serif">e</tspan>
<tspan x="315.40" y="-0.37" style="font-size: 39px; font-family: 'DejaVu Sans', sans-serif">l</tspan>
<tspan x="326.23" y="-0.37" style="font-size: 39px; font-family: 'DejaVu Sans', sans-serif">e</tspan>
<tspan x="350.23" y="-0.37" style="font-size: 39px; font-family: 'DejaVu Sans', sans-serif">n</tspan>
<tspan x="374.94" y="-0.37" style="font-size: 39px; font-family: 'DejaVu Sans', sans-serif">g</tspan>
<tspan x="399.70" y="-0.37" style="font-size: 39px; font-family: 'DejaVu Sans', sans-serif">t</tspan>
<tspan x="414.99" y="-0.37" style="font-size: 39px; font-family: 'DejaVu Sans', sans-serif">h</tspan>
<tspan x="457.94" y="-0.37" style="font-size: 39px; font-family: 'DejaVu Sans', sans-serif">[</tspan>
<tspan x="497.97" y="-0.37" style="font-size: 39px; font-family: 'DejaVu Sans', sans-serif">m</tspan>
<tspan x="535.96" y="-0.37" style="font-size: 39px; font-family: 'DejaVu Sans', sans-serif">]</tspan>
<tspan x="473.16" y="-0.37" style="font-style: oblique; font-size: 39px; font-family: 'DejaVu Sans', sans-serif">μ</tspan>
</text>
</g>
</g>
</g>
<g id="matplotlib.axis_4">
<g id="ytick_33">
<g id="line2d_169">
<g>
<use href="#mcbb3e0e545" x="138.6" y="604.98" style="stroke: #000000; stroke-width: 2.3"/>
</g>
</g>
<g id="line2d_170">
<g>
<use href="#md19e65606a" x="1086.2" y="604.98" style="stroke: #000000; stroke-width: 2.3"/>
</g>
</g>
<g id="text_14">
<text style="font-size: 24.4px; font-family: 'DejaVu Sans', sans-serif; text-anchor: end" x="130.3" y="614.25" transform="rotate(-0 130.3 614.25)">−4</text>
</g>
</g>
<g id="ytick_34">
<g id="line2d_171">
<g>
<use href="#mcbb3e0e545" x="138.6" y="557.75" style="stroke: #000000; stroke-width: 2.3"/>
</g>
</g>
<g id="line2d_172">
<g>
<use href="#md19e65606a" x="1086.2" y="557.75" style="stroke: #000000; stroke-width: 2.3"/>
</g>
</g>
<g id="text_15">
<text style="font-size: 24.4px; font-family: 'DejaVu Sans', sans-serif; text-anchor: end" x="130.3" y="567.02" transform="rotate(-0 130.3 567.02)">0</text>
</g>
</g>
<g id="ytick_35">
<g id="line2d_173">
<g>
<use href="#mcbb3e0e545" x="138.6" y="510.51" style="stroke: #000000; stroke-width: 2.3"/>
</g>
</g>
<g id="line2d_174">
<g>
<use href="#md19e65606a" x="1086.2" y="510.51" style="stroke: #000000; stroke-width: 2.3"/>
</g>
</g>
<g id="text_16">
<text style="font-size: 24.4px; font-family: 'DejaVu Sans', sans-serif; text-anchor: end" x="130.3" y="519.78" transform="rotate(-0 130.3 519.78)">4</text>
</g>
</g>
<g id="text_17">
<g transform="translate(74.50 569.45) rotate(-90)">
<text>
<tspan x="0" y="-0.65" style="font-style: oblique; font-size: 39px; font-family: 'DejaVu Sans', sans-serif">χ</tspan>
</text>
</g>
</g>
</g>
<g id="patch_8">
<path d="M 138.6 628.6 
L 138.6 486.9 
" style="fill: none; stroke: #000000; stroke-width: 3.4; stroke-linejoin: miter; stroke-linecap: square"/>
</g>
<g id="patch_9">
<path d="M 1086.2 628.6 
L 1086.2 486.9 
" style="fill: none; stroke: #000000; stroke-width: 3.4; stroke-linejoin: miter; stroke-linecap: square"/>
</g>
<g id="patch_10">
<path d="M 138.6 628.6 
L 1086.2 628.6 
" style="fill: none; stroke: #000000; stroke-width: 3.4; stroke-linejoin: miter; stroke-linecap: square"/>
</g>
<g id="patch_11">
<path d="M 138.6 486.9 
L 1086.2 486.9 
" style="fill: none; stroke: #000000; stroke-width: 3.4; stroke-linejoin: miter; stroke-linecap: square"/>
</g>
<g id="line2d_175">
<path d="M 416.2 567.7 
L 482.5 567.7 
" clip-path="url(#pca2b7f9ee2)" style="fill: none; stroke: #ff0000; stroke-width: 2.4"/>
</g>
<g id="line2d_176">
<path d="M 450.6 557.3 
L 450.6 577.6 
" clip-path="url(#pca2b7f9ee2)" style="fill: none; stroke: #ff0000; stroke-width: 2.4"/>
</g>
<g id="line2d_177">
<path d="M 529.8 526.9 
L 599.7 526.9 
" clip-path="url(#pca2b7f9ee2)" style="fill: none; stroke: #ff0000; stroke-width: 2.4"/>
</g>
<g id="line2d_178">
<path d="M 665.4 573.2 
L 738.3 573.2 
" clip-path="url(#pca2b7f9ee2)" style="fill: none; stroke: #ff0000; stroke-width: 2.4"/>
</g>
<g id="line2d_179">
<path d="M 767.9 564.9 
L 800.6 564.9 
" clip-path="url(#pca2b7f9ee2)" style="fill: none; stroke: #ff0000; stroke-width: 2.4"/>
</g>
<g id="line2d_180">
<path d="M 771 555.6 
L 840.8 555.6 
" clip-path="url(#pca2b7f9ee2)" style="fill: none; stroke: #ff0000; stroke-width: 2.4"/>
</g>
<g id="line2d_181">
<path d="M 848.3 545 
L 881 545 
" clip-path="url(#pca2b7f9ee2)" style="fill: none; stroke: #ff0000; stroke-width: 2.4"/>
</g>
<g id="line2d_182">
<path d="M 864.7 535.5 
L 864.7 558 
" clip-path="url(#pca2b7f9ee2)" style="fill: none; stroke: #ff0000; stroke-width: 2.4"/>
</g>
<g id="line2d_183">
<path d="M 856.4 565.1 
L 930 565.1 
" clip-path="url(#pca2b7f9ee2)" style="fill: none; stroke: #ff0000; stroke-width: 2.4"/>
</g>
<g id="line2d_184">
<path d="M 205.2 520 
L 274.2 520 
" clip-path="url(#pca2b7f9ee2)" style="fill: none; stroke: #ff0000; stroke-width: 2.4"/>
</g>
<g id="line2d_185">
<path d="M 235.9 520.8 
L 241.1 530.6 
L 246.3 520.8 
L 235.9 520.8 
" clip-path="url(#pca2b7f9ee2)" style="fill: none; stroke: #ff0000; stroke-width: 2; stroke-linecap: square"/>
</g>
<g id="line2d_186">
<path d="M 239.5 521 
L 241.1 525 
L 242.7 521 
" clip-path="url(#pca2b7f9ee2)" style="fill: none; stroke: #ff0000; stroke-width: 1.4; stroke-linecap: square"/>
</g>
<g id="line2d_187">
<path d="M 306 515.2 
L 376 515.2 
" clip-path="url(#pca2b7f9ee2)" style="fill: none; stroke: #ff0000; stroke-width: 2.4"/>
</g>
<g id="line2d_188">
<path d="M 336.9 516 
L 342.1 526.1 
L 347.3 516 
L 336.9 516 
" clip-path="url(#pca2b7f9ee2)" style="fill: none; stroke: #ff0000; stroke-width: 2; stroke-linecap: square"/>
</g>
<g id="line2d_189">
<path d="M 340.5 516.2 
L 342.1 520.2 
L 343.7 516.2 
" clip-path="url(#pca2b7f9ee2)" style="fill: none; stroke: #ff0000; stroke-width: 1.4; stroke-linecap: square"/>
</g>
<g id="line2d_190">
<defs>
<path id="mf6dac7a1a1" d="M -7.8 7.8 
L 7.8 7.8 
L 7.8 -7.8 
L -7.8 -7.8 
z
" style="stroke: #ff0000; stroke-linejoin: miter"/>
</defs>
<g clip-path="url(#pca2b7f9ee2)">
<use href="#mf6dac7a1a1" x="450.6" y="567.7" style="fill: #ff0000; stroke: #ff0000; stroke-linejoin: miter"/>
</g>
</g>
<g id="line2d_191">
<g clip-path="url(#pca2b7f9ee2)">
<use href="#mf6dac7a1a1" x="566.3" y="526.9" style="fill: #ff0000; stroke: #ff0000; stroke-linejoin: miter"/>
</g>
</g>
<g id="line2d_192">
<g clip-path="url(#pca2b7f9ee2)">
<use href="#mf6dac7a1a1" x="703.1" y="573.2" style="fill: #ff0000; stroke: #ff0000; stroke-linejoin: miter"/>
</g>
</g>
<g id="line2d_193">
<g clip-path="url(#pca2b7f9ee2)">
<use href="#mf6dac7a1a1" x="784.3" y="564.9" style="fill: #ff0000; stroke: #ff0000; stroke-linejoin: miter"/>
</g>
</g>
<g id="line2d_194">
<g clip-path="url(#pca2b7f9ee2)">
<use href="#mf6dac7a1a1" x="807.4" y="555.6" style="fill: #ff0000; stroke: #ff0000; stroke-linejoin: miter"/>
</g>
</g>
<g id="line2d_195">
<g clip-path="url(#pca2b7f9ee2)">
<use href="#mf6dac7a1a1" x="864.7" y="545" style="fill: #ff0000; stroke: #ff0000; stroke-linejoin: miter"/>
</g>
</g>
<g id="line2d_196">
<g clip-path="url(#pca2b7f9ee2)">
<use href="#mf6dac7a1a1" x="894.8" y="565.1" style="fill: #ff0000; stroke: #ff0000; stroke-linejoin: miter"/>
</g>
</g>
</g>
<g id="axes_3">
<g id="patch_12">
<path d="M 138.6 1210 
L 1086.2 1210 
L 1086.2 759.3 
L 138.6 759.3 
z
" style="fill: #ffffff"/>
</g>
<g id="FillBetweenPolyCollection_2">
<defs>
<path id="md2d3172dc5" d="M 880 -505 
L 880 -503 
L 881 -501.2 
L 882 -499.4 
L 883 -497.6 
L 884 -495.8 
L 885 -494 
L 886 -494.2 
L 887 -494.4 
L 888 -494.6 
L 889 -494.8 
L 890 -495 
L 891 -495.2 
L 892 -495.4 
L 893 -495.6 
L 894 -495.8 
L 895 -496 
L 896 -496.2 
L 897 -496.4 
L 898 -496.6 
L 899 -496.8 
L 900 -497 
L 901 -497.2 
L 902 -497.4 
L 903 -497.6 
L 904 -497.8 
L 905 -498 
L 906 -498.12 
L 907 -498.25 
L 908 -498.37 
L 909 -498.50 
L 910 -498.63 
L 911 -498.75 
L 912 -498.88 
L 913 -499.00 
L 914 -499.13 
L 915 -499.26 
L 916 -499.38 
L 917 -499.51 
L 918 -499.63 
L 919 -499.76 
L 920 -499.89 
L 921 -500.01 
L 922 -500.14 
L 923 -500.26 
L 924 -500.39 
L 925 -500.52 
L 926 -500.64 
L 927 -500.77 
L 928 -500.9 
L 929 -500.78 
L 930 -500.67 
L 931 -500.56 
L 932 -500.45 
L 933 -500.34 
L 934 -500.23 
L 935 -500.12 
L 936 -500.01 
L 937 -499.9 
L 938 -499.78 
L 939 -499.67 
L 940 -499.56 
L 941 -499.45 
L 942 -499.34 
L 943 -499.23 
L 944 -499.12 
L 945 -499.01 
L 946 -498.9 
L 947 -498.78 
L 948 -498.67 
L 949 -498.56 
L 950 -498.45 
L 951 -498.34 
L 952 -498.23 
L 953 -498.12 
L 954 -498.01 
L 955 -497.9 
L 956 -497.78 
L 957 -497.67 
L 958 -497.56 
L 959 -497.45 
L 960 -497.34 
L 961 -497.23 
L 962 -497.12 
L 963 -497.01 
L 964 -496.9 
L 965 -496.78 
L 966 -496.67 
L 967 -496.56 
L 968 -496.45 
L 969 -496.34 
L 970 -496.23 
L 971 -496.12 
L 972 -496.01 
L 973 -495.9 
L 974 -495.78 
L 975 -495.67 
L 976 -495.56 
L 977 -495.45 
L 978 -495.34 
L 979 -495.23 
L 980 -495.12 
L 981 -495.01 
L 982 -494.9 
L 983 -494.78 
L 984 -494.67 
L 985 -494.56 
L 986 -494.45 
L 987 -494.34 
L 988 -494.23 
L 989 -494.12 
L 990 -494.01 
L 991 -493.9 
L 992 -493.78 
L 993 -493.67 
L 994 -493.56 
L 995 -493.45 
L 996 -493.34 
L 997 -493.23 
L 998 -493.12 
L 999 -493.01 
L 1000 -492.9 
L 1001 -492.77 
L 1002 -492.65 
L 1003 -492.52 
L 1004 -492.40 
L 1005 -492.28 
L 1006 -492.15 
L 1007 -492.03 
L 1008 -491.90 
L 1009 -491.78 
L 1010 -491.66 
L 1011 -491.53 
L 1012 -491.41 
L 1013 -491.28 
L 1014 -491.16 
L 1015 -491.04 
L 1016 -490.91 
L 1017 -490.79 
L 1018 -490.67 
L 1019 -490.54 
L 1020 -490.42 
L 1021 -490.29 
L 1022 -490.17 
L 1023 -490.05 
L 1024 -489.92 
L 1025 -489.80 
L 1026 -489.67 
L 1027 -489.55 
L 1028 -489.43 
L 1029 -489.30 
L 1030 -489.18 
L 1031 -489.06 
L 1032 -488.93 
L 1033 -488.81 
L 1034 -488.68 
L 1035 -488.56 
L 1036 -488.44 
L 1037 -488.31 
L 1038 -488.19 
L 1039 -488.06 
L 1040 -487.94 
L 1041 -487.82 
L 1042 -487.69 
L 1043 -487.57 
L 1044 -487.45 
L 1045 -487.32 
L 1046 -487.20 
L 1047 -487.07 
L 1048 -486.95 
L 1049 -486.83 
L 1050 -486.70 
L 1051 -486.58 
L 1052 -486.45 
L 1053 -486.33 
L 1054 -486.21 
L 1055 -486.08 
L 1056 -485.96 
L 1057 -485.83 
L 1058 -485.71 
L 1059 -485.59 
L 1060 -485.46 
L 1061 -485.34 
L 1062 -485.22 
L 1063 -485.09 
L 1064 -484.97 
L 1065 -484.84 
L 1066 -484.72 
L 1067 -484.60 
L 1068 -484.47 
L 1069 -484.35 
L 1070 -484.22 
L 1071 -484.10 
L 1072 -483.98 
L 1073 -483.85 
L 1074 -483.73 
L 1075 -483.61 
L 1076 -483.48 
L 1077 -483.36 
L 1078 -483.23 
L 1079 -483.11 
L 1080 -482.99 
L 1081 -482.86 
L 1082 -482.74 
L 1083 -482.61 
L 1084 -482.49 
L 1085 -482.37 
L 1086 -482.24 
L 1087 -482.12 
L 1087 -513.10 
L 1087 -513.10 
L 1086 -513.20 
L 1085 -513.31 
L 1084 -513.41 
L 1083 -513.52 
L 1082 -513.62 
L 1081 -513.73 
L 1080 -513.83 
L 1079 -513.94 
L 1078 -514.04 
L 1077 -514.15 
L 1076 -514.25 
L 1075 -514.35 
L 1074 -514.46 
L 1073 -514.56 
L 1072 -514.67 
L 1071 -514.77 
L 1070 -514.88 
L 1069 -514.98 
L 1068 -515.09 
L 1067 -515.19 
L 1066 -515.3 
L 1065 -515.40 
L 1064 -515.50 
L 1063 -515.61 
L 1062 -515.71 
L 1061 -515.82 
L 1060 -515.92 
L 1059 -516.03 
L 1058 -516.13 
L 1057 -516.24 
L 1056 -516.34 
L 1055 -516.45 
L 1054 -516.55 
L 1053 -516.65 
L 1052 -516.76 
L 1051 -516.86 
L 1050 -516.97 
L 1049 -517.07 
L 1048 -517.18 
L 1047 -517.28 
L 1046 -517.39 
L 1045 -517.49 
L 1044 -517.6 
L 1043 -517.70 
L 1042 -517.80 
L 1041 -517.91 
L 1040 -518.01 
L 1039 -518.12 
L 1038 -518.22 
L 1037 -518.33 
L 1036 -518.43 
L 1035 -518.54 
L 1034 -518.64 
L 1033 -518.75 
L 1032 -518.85 
L 1031 -518.95 
L 1030 -519.06 
L 1029 -519.16 
L 1028 -519.27 
L 1027 -519.37 
L 1026 -519.48 
L 1025 -519.58 
L 1024 -519.69 
L 1023 -519.79 
L 1022 -519.9 
L 1021 -520.00 
L 1020 -520.10 
L 1019 -520.21 
L 1018 -520.31 
L 1017 -520.42 
L 1016 -520.52 
L 1015 -520.63 
L 1014 -520.73 
L 1013 -520.84 
L 1012 -520.94 
L 1011 -521.05 
L 1010 -521.15 
L 1009 -521.25 
L 1008 -521.36 
L 1007 -521.46 
L 1006 -521.57 
L 1005 -521.67 
L 1004 -521.78 
L 1003 -521.88 
L 1002 -521.99 
L 1001 -522.09 
L 1000 -522.2 
L 999 -522.30 
L 998 -522.40 
L 997 -522.50 
L 996 -522.60 
L 995 -522.70 
L 994 -522.80 
L 993 -522.90 
L 992 -523.01 
L 991 -523.11 
L 990 -523.21 
L 989 -523.31 
L 988 -523.41 
L 987 -523.51 
L 986 -523.61 
L 985 -523.72 
L 984 -523.82 
L 983 -523.92 
L 982 -524.02 
L 981 -524.12 
L 980 -524.22 
L 979 -524.32 
L 978 -524.43 
L 977 -524.53 
L 976 -524.63 
L 975 -524.73 
L 974 -524.83 
L 973 -524.93 
L 972 -525.03 
L 971 -525.14 
L 970 -525.24 
L 969 -525.34 
L 968 -525.44 
L 967 -525.54 
L 966 -525.64 
L 965 -525.74 
L 964 -525.85 
L 963 -525.95 
L 962 -526.05 
L 961 -526.15 
L 960 -526.25 
L 959 -526.35 
L 958 -526.45 
L 957 -526.55 
L 956 -526.66 
L 955 -526.76 
L 954 -526.86 
L 953 -526.96 
L 952 -527.06 
L 951 -527.16 
L 950 -527.26 
L 949 -527.37 
L 948 -527.47 
L 947 -527.57 
L 946 -527.67 
L 945 -527.77 
L 944 -527.87 
L 943 -527.97 
L 942 -528.08 
L 941 -528.18 
L 940 -528.28 
L 939 -528.38 
L 938 -528.48 
L 937 -528.58 
L 936 -528.68 
L 935 -528.79 
L 934 -528.89 
L 933 -528.99 
L 932 -529.09 
L 931 -529.19 
L 930 -529.29 
L 929 -529.39 
L 928 -529.5 
L 927 -529.51 
L 926 -529.52 
L 925 -529.53 
L 924 -529.55 
L 923 -529.56 
L 922 -529.57 
L 921 -529.59 
L 920 -529.60 
L 919 -529.61 
L 918 -529.63 
L 917 -529.64 
L 916 -529.65 
L 915 -529.66 
L 914 -529.68 
L 913 -529.69 
L 912 -529.70 
L 911 -529.72 
L 910 -529.73 
L 909 -529.74 
L 908 -529.76 
L 907 -529.77 
L 906 -529.78 
L 905 -529.8 
L 904 -529.51 
L 903 -529.22 
L 902 -528.93 
L 901 -528.64 
L 900 -528.35 
L 899 -528.06 
L 898 -527.77 
L 897 -527.48 
L 896 -527.19 
L 895 -526.9 
L 894 -526.61 
L 893 -526.32 
L 892 -526.03 
L 891 -525.74 
L 890 -525.45 
L 889 -525.16 
L 888 -524.87 
L 887 -524.58 
L 886 -524.29 
L 885 -524 
L 884 -520.2 
L 883 -516.4 
L 882 -512.6 
L 881 -508.8 
L 880 -505 
z
"/>
</defs>
<g clip-path="url(#p7fe3c25381)">
<use href="#md2d3172dc5" x="0" y="1464" style="fill: #ff0000; fill-opacity: 0.3"/>
</g>
</g>
<g id="line2d_197">
<path d="M 612.6 914.8 
L 612.6 940 
" clip-path="url(#p7fe3c25381)" style="fill: none; stroke: #ff0000; stroke-opacity: 0.22; stroke-width: 1.1"/>
</g>
<g id="line2d_198">
<path d="M 770 924 
L 770 945 
" clip-path="url(#p7fe3c25381)" style="fill: none; stroke: #ff0000; stroke-opacity: 0.22; stroke-width: 1.1"/>
</g>
<g id="line2d_199">
<path d="M 888.5 801.5 
L 888.5 887 
" clip-path="url(#p7fe3c25381)" style="fill: none; stroke: #ff0000; stroke-opacity: 0.22; stroke-width: 1.1"/>
</g>
<g id="line2d_200">
<path d="M 951.2 814.8 
L 951.2 877 
" clip-path="url(#p7fe3c25381)" style="fill: none; stroke: #ff0000; stroke-opacity: 0.22; stroke-width: 1.1"/>
</g>
<g id="line2d_201">
<path d="M 997.4 765.1 
L 997.4 833 
" clip-path="url(#p7fe3c25381)" style="fill: none; stroke: #ff0000; stroke-opacity: 0.22; stroke-width: 1.1"/>
</g>
<g id="line2d_202">
<path d="M 1009.6 764.2 
L 1009.6 899 
" clip-path="url(#p7fe3c25381)" style="fill: none; stroke: #ff0000; stroke-opacity: 0.22; stroke-width: 1.1"/>
</g>
<g id="line2d_203">
<path d="M 927.6 849.5 
L 927.6 904 
" clip-path="url(#p7fe3c25381)" style="fill: none; stroke: #ff0000; stroke-opacity: 0.22; stroke-width: 1.1"/>
</g>
<g id="line2d_204">
<path d="M 1075.3 888.5 
L 1075.3 937 
" clip-path="url(#p7fe3c25381)" style="fill: none; stroke: #ff0000; stroke-opacity: 0.22; stroke-width: 1.1"/>
</g>
<g id="line2d_205">
<path d="M 905.4 870 
L 905.4 925 
" clip-path="url(#p7fe3c25381)" style="fill: none; stroke: #ff0000; stroke-opacity: 0.22; stroke-width: 1.1"/>
</g>
<g id="line2d_206">
<path d="M 914.3 880 
L 914.3 923 
" clip-path="url(#p7fe3c25381)" style="fill: none; stroke: #ff0000; stroke-opacity: 0.22; stroke-width: 1.1"/>
</g>
<g id="matplotlib.axis_5">
<g id="xtick_21">
<g id="line2d_207">
<g>
<use href="#meb02f2e093" x="193.55" y="1210" style="stroke: #000000; stroke-width: 2.3"/>
</g>
</g>
<g id="line2d_208">
<g>
<use href="#m33e6c5e1b2" x="193.55" y="759.3" style="stroke: #000000; stroke-width: 2.3"/>
</g>
</g>
</g>
<g id="xtick_22">
<g id="line2d_209">
<g>
<use href="#meb02f2e093" x="285.38" y="1210" style="stroke: #000000; stroke-width: 2.3"/>
</g>
</g>
<g id="line2d_210">
<g>
<use href="#m33e6c5e1b2" x="285.38" y="759.3" style="stroke: #000000; stroke-width: 2.3"/>
</g>
</g>
</g>
<g id="xtick_23">
<g id="line2d_211">
<g>
<use href="#meb02f2e093" x="570.64" y="1210" style="stroke: #000000; stroke-width: 2.3"/>
</g>
</g>
<g id="line2d_212">
<g>
<use href="#m33e6c5e1b2" x="570.64" y="759.3" style="stroke: #000000; stroke-width: 2.3"/>
</g>
</g>
</g>
<g id="xtick_24">
<g id="line2d_213">
<g>
<use href="#meb02f2e093" x="737.50" y="1210" style="stroke: #000000; stroke-width: 2.3"/>
</g>
</g>
<g id="line2d_214">
<g>
<use href="#m33e6c5e1b2" x="737.50" y="759.3" style="stroke: #000000; stroke-width: 2.3"/>
</g>
</g>
</g>
<g id="xtick_25">
<g id="line2d_215">
<g>
<use href="#meb02f2e093" x="855.89" y="1210" style="stroke: #000000; stroke-width: 2.3"/>
</g>
</g>
<g id="line2d_216">
<g>
<use href="#m33e6c5e1b2" x="855.89" y="759.3" style="stroke: #000000; stroke-width: 2.3"/>
</g>
</g>
</g>
<g id="xtick_26">
<g id="line2d_217">
<g>
<use href="#meb02f2e093" x="947.72" y="1210" style="stroke: #000000; stroke-width: 2.3"/>
</g>
</g>
<g id="line2d_218">
<g>
<use href="#m33e6c5e1b2" x="947.72" y="759.3" style="stroke: #000000; stroke-width: 2.3"/>
</g>
</g>
</g>
<g id="xtick_27">
<g id="line2d_219">
<g>
<use href="#meb02f2e093" x="1022.76" y="1210" style="stroke: #000000; stroke-width: 2.3"/>
</g>
</g>
<g id="line2d_220">
<g>
<use href="#m33e6c5e1b2" x="1022.76" y="759.3" style="stroke: #000000; stroke-width: 2.3"/>
</g>
</g>
</g>
<g id="xtick_28">
<g id="line2d_221">
<g>
<use href="#m80899642cb" x="138.6" y="1210" style="stroke: #000000; stroke-width: 1.5"/>
</g>
</g>
<g id="line2d_222">
<g>
<use href="#m92ab575aa1" x="138.6" y="759.3" style="stroke: #000000; stroke-width: 1.5"/>
</g>
</g>
</g>
<g id="xtick_29">
<g id="line2d_223">
<g>
<use href="#m80899642cb" x="242.02" y="1210" style="stroke: #000000; stroke-width: 1.5"/>
</g>
</g>
<g id="line2d_224">
<g>
<use href="#m92ab575aa1" x="242.02" y="759.3" style="stroke: #000000; stroke-width: 1.5"/>
</g>
</g>
</g>
<g id="xtick_30">
<g id="line2d_225">
<g>
<use href="#m80899642cb" x="1086.2" y="1210" style="stroke: #000000; stroke-width: 1.5"/>
</g>
</g>
<g id="line2d_226">
<g>
<use href="#m92ab575aa1" x="1086.2" y="759.3" style="stroke: #000000; stroke-width: 1.5"/>
</g>
</g>
</g>
</g>
<g id="matplotlib.axis_6">
<g id="ytick_36">
<g id="line2d_227">
<g>
<use href="#mcbb3e0e545" x="138.6" y="1178.96" style="stroke: #000000; stroke-width: 2.3"/>
</g>
</g>
<g id="line2d_228">
<g>
<use href="#md19e65606a" x="1086.2" y="1178.96" style="stroke: #000000; stroke-width: 2.3"/>
</g>
</g>
<g id="text_18">
<text style="font-size: 24.4px; font-family: 'DejaVu Sans', sans-serif; text-anchor: end" x="130.3" y="1188.23" transform="rotate(-0 130.3 1188.23)">1</text>
</g>
</g>
<g id="ytick_37">
<g id="line2d_229">
<g>
<use href="#mcbb3e0e545" x="138.6" y="1039.07" style="stroke: #000000; stroke-width: 2.3"/>
</g>
</g>
<g id="line2d_230">
<g>
<use href="#md19e65606a" x="1086.2" y="1039.07" style="stroke: #000000; stroke-width: 2.3"/>
</g>
</g>
<g id="text_19">
<text style="font-size: 24.4px; font-family: 'DejaVu Sans', sans-serif; text-anchor: end" x="130.3" y="1048.34" transform="rotate(-0 130.3 1048.34)">10</text>
</g>
</g>
<g id="ytick_38">
<g id="line2d_231">
<g>
<use href="#mcbb3e0e545" x="138.6" y="899.18" style="stroke: #000000; stroke-width: 2.3"/>
</g>
</g>
<g id="line2d_232">
<g>
<use href="#md19e65606a" x="1086.2" y="899.18" style="stroke: #000000; stroke-width: 2.3"/>
</g>
</g>
<g id="text_20">
<text style="font-size: 24.4px; font-family: 'DejaVu Sans', sans-serif; text-anchor: end" x="130.3" y="908.45" transform="rotate(-0 130.3 908.45)">100</text>
</g>
</g>
<g id="ytick_39">
<g id="line2d_233">
<g>
<use href="#mcbb3e0e545" x="138.6" y="759.3" style="stroke: #000000; stroke-width: 2.3"/>
</g>
</g>
<g id="line2d_234">
<g>
<use href="#md19e65606a" x="1086.2" y="759.3" style="stroke: #000000; stroke-width: 2.3"/>
</g>
</g>
<g id="text_21">
<text style="font-size: 24.4px; font-family: 'DejaVu Sans', sans-serif; text-anchor: end" x="130.3" y="768.57" transform="rotate(-0 130.3 768.57)">1000</text>
</g>
</g>
<g id="ytick_40">
<g id="line2d_235">
<g>
<use href="#m8791594178" x="138.6" y="1210" style="stroke: #000000; stroke-width: 1.5"/>
</g>
</g>
<g id="line2d_236">
<g>
<use href="#mec65994248" x="1086.2" y="1210" style="stroke: #000000; stroke-width: 1.5"/>
</g>
</g>
</g>
<g id="ytick_41">
<g id="line2d_237">
<g>
<use href="#m8791594178" x="138.6" y="1200.63" style="stroke: #000000; stroke-width: 1.5"/>
</g>
</g>
<g id="line2d_238">
<g>
<use href="#mec65994248" x="1086.2" y="1200.63" style="stroke: #000000; stroke-width: 1.5"/>
</g>
</g>
</g>
<g id="ytick_42">
<g id="line2d_239">
<g>
<use href="#m8791594178" x="138.6" y="1192.52" style="stroke: #000000; stroke-width: 1.5"/>
</g>
</g>
<g id="line2d_240">
<g>
<use href="#mec65994248" x="1086.2" y="1192.52" style="stroke: #000000; stroke-width: 1.5"/>
</g>
</g>
</g>
<g id="ytick_43">
<g id="line2d_241">
<g>
<use href="#m8791594178" x="138.6" y="1185.36" style="stroke: #000000; stroke-width: 1.5"/>
</g>
</g>
<g id="line2d_242">
<g>
<use href="#mec65994248" x="1086.2" y="1185.36" style="stroke: #000000; stroke-width: 1.5"/>
</g>
</g>
</g>
<g id="ytick_44">
<g id="line2d_243">
<g>
<use href="#m8791594178" x="138.6" y="1136.85" style="stroke: #000000; stroke-width: 1.5"/>
</g>
</g>
<g id="line2d_244">
<g>
<use href="#mec65994248" x="1086.2" y="1136.85" style="stroke: #000000; stroke-width: 1.5"/>
</g>
</g>
</g>
<g id="ytick_45">
<g id="line2d_245">
<g>
<use href="#m8791594178" x="138.6" y="1112.22" style="stroke: #000000; stroke-width: 1.5"/>
</g>
</g>
<g id="line2d_246">
<g>
<use href="#mec65994248" x="1086.2" y="1112.22" style="stroke: #000000; stroke-width: 1.5"/>
</g>
</g>
</g>
<g id="ytick_46">
<g id="line2d_247">
<g>
<use href="#m8791594178" x="138.6" y="1094.74" style="stroke: #000000; stroke-width: 1.5"/>
</g>
</g>
<g id="line2d_248">
<g>
<use href="#mec65994248" x="1086.2" y="1094.74" style="stroke: #000000; stroke-width: 1.5"/>
</g>
</g>
</g>
<g id="ytick_47">
<g id="line2d_249">
<g>
<use href="#m8791594178" x="138.6" y="1081.18" style="stroke: #000000; stroke-width: 1.5"/>
</g>
</g>
<g id="line2d_250">
<g>
<use href="#mec65994248" x="1086.2" y="1081.18" style="stroke: #000000; stroke-width: 1.5"/>
</g>
</g>
</g>
<g id="ytick_48">
<g id="line2d_251">
<g>
<use href="#m8791594178" x="138.6" y="1070.11" style="stroke: #000000; stroke-width: 1.5"/>
</g>
</g>
<g id="line2d_252">
<g>
<use href="#mec65994248" x="1086.2" y="1070.11" style="stroke: #000000; stroke-width: 1.5"/>
</g>
</g>
</g>
<g id="ytick_49">
<g id="line2d_253">
<g>
<use href="#m8791594178" x="138.6" y="1060.74" style="stroke: #000000; stroke-width: 1.5"/>
</g>
</g>
<g id="line2d_254">
<g>
<use href="#mec65994248" x="1086.2" y="1060.74" style="stroke: #000000; stroke-width: 1.5"/>
</g>
</g>
</g>
<g id="ytick_50">
<g id="line2d_255">
<g>
<use href="#m8791594178" x="138.6" y="1052.63" style="stroke: #000000; stroke-width: 1.5"/>
</g>
</g>
<g id="line2d_256">
<g>
<use href="#mec65994248" x="1086.2" y="1052.63" style="stroke: #000000; stroke-width: 1.5"/>
</g>
</g>
</g>
<g id="ytick_51">
<g id="line2d_257">
<g>
<use href="#m8791594178" x="138.6" y="1045.47" style="stroke: #000000; stroke-width: 1.5"/>
</g>
</g>
<g id="line2d_258">
<g>
<use href="#mec65994248" x="1086.2" y="1045.47" style="stroke: #000000; stroke-width: 1.5"/>
</g>
</g>
</g>
<g id="ytick_52">
<g id="line2d_259">
<g>
<use href="#m8791594178" x="138.6" y="996.96" style="stroke: #000000; stroke-width: 1.5"/>
</g>
</g>
<g id="line2d_260">
<g>
<use href="#mec65994248" x="1086.2" y="996.96" style="stroke: #000000; stroke-width: 1.5"/>
</g>
</g>
</g>
<g id="ytick_53">
<g id="line2d_261">
<g>
<use href="#m8791594178" x="138.6" y="972.33" style="stroke: #000000; stroke-width: 1.5"/>
</g>
</g>
<g id="line2d_262">
<g>
<use href="#mec65994248" x="1086.2" y="972.33" style="stroke: #000000; stroke-width: 1.5"/>
</g>
</g>
</g>
<g id="ytick_54">
<g id="line2d_263">
<g>
<use href="#m8791594178" x="138.6" y="954.85" style="stroke: #000000; stroke-width: 1.5"/>
</g>
</g>
<g id="line2d_264">
<g>
<use href="#mec65994248" x="1086.2" y="954.85" style="stroke: #000000; stroke-width: 1.5"/>
</g>
</g>
</g>
<g id="ytick_55">
<g id="line2d_265">
<g>
<use href="#m8791594178" x="138.6" y="941.29" style="stroke: #000000; stroke-width: 1.5"/>
</g>
</g>
<g id="line2d_266">
<g>
<use href="#mec65994248" x="1086.2" y="941.29" style="stroke: #000000; stroke-width: 1.5"/>
</g>
</g>
</g>
<g id="ytick_56">
<g id="line2d_267">
<g>
<use href="#m8791594178" x="138.6" y="930.22" style="stroke: #000000; stroke-width: 1.5"/>
</g>
</g>
<g id="line2d_268">
<g>
<use href="#mec65994248" x="1086.2" y="930.22" style="stroke: #000000; stroke-width: 1.5"/>
</g>
</g>
</g>
<g id="ytick_57">
<g id="line2d_269">
<g>
<use href="#m8791594178" x="138.6" y="920.85" style="stroke: #000000; stroke-width: 1.5"/>
</g>
</g>
<g id="line2d_270">
<g>
<use href="#mec65994248" x="1086.2" y="920.85" style="stroke: #000000; stroke-width: 1.5"/>
</g>
</g>
</g>
<g id="ytick_58">
<g id="line2d_271">
<g>
<use href="#m8791594178" x="138.6" y="912.74" style="stroke: #000000; stroke-width: 1.5"/>
</g>
</g>
<g id="line2d_272">
<g>
<use href="#mec65994248" x="1086.2" y="912.74" style="stroke: #000000; stroke-width: 1.5"/>
</g>
</g>
</g>
<g id="ytick_59">
<g id="line2d_273">
<g>
<use href="#m8791594178" x="138.6" y="905.58" style="stroke: #000000; stroke-width: 1.5"/>
</g>
</g>
<g id="line2d_274">
<g>
<use href="#mec65994248" x="1086.2" y="905.58" style="stroke: #000000; stroke-width: 1.5"/>
</g>
</g>
</g>
<g id="ytick_60">
<g id="line2d_275">
<g>
<use href="#m8791594178" x="138.6" y="857.07" style="stroke: #000000; stroke-width: 1.5"/>
</g>
</g>
<g id="line2d_276">
<g>
<use href="#mec65994248" x="1086.2" y="857.07" style="stroke: #000000; stroke-width: 1.5"/>
</g>
</g>
</g>
<g id="ytick_61">
<g id="line2d_277">
<g>
<use href="#m8791594178" x="138.6" y="832.44" style="stroke: #000000; stroke-width: 1.5"/>
</g>
</g>
<g id="line2d_278">
<g>
<use href="#mec65994248" x="1086.2" y="832.44" style="stroke: #000000; stroke-width: 1.5"/>
</g>
</g>
</g>
<g id="ytick_62">
<g id="line2d_279">
<g>
<use href="#m8791594178" x="138.6" y="814.96" style="stroke: #000000; stroke-width: 1.5"/>
</g>
</g>
<g id="line2d_280">
<g>
<use href="#mec65994248" x="1086.2" y="814.96" style="stroke: #000000; stroke-width: 1.5"/>
</g>
</g>
</g>
<g id="ytick_63">
<g id="line2d_281">
<g>
<use href="#m8791594178" x="138.6" y="801.41" style="stroke: #000000; stroke-width: 1.5"/>
</g>
</g>
<g id="line2d_282">
<g>
<use href="#mec65994248" x="1086.2" y="801.41" style="stroke: #000000; stroke-width: 1.5"/>
</g>
</g>
</g>
<g id="ytick_64">
<g id="line2d_283">
<g>
<use href="#m8791594178" x="138.6" y="790.33" style="stroke: #000000; stroke-width: 1.5"/>
</g>
</g>
<g id="line2d_284">
<g>
<use href="#mec65994248" x="1086.2" y="790.33" style="stroke: #000000; stroke-width: 1.5"/>
</g>
</g>
</g>
<g id="ytick_65">
<g id="line2d_285">
<g>
<use href="#m8791594178" x="138.6" y="780.96" style="stroke: #000000; stroke-width: 1.5"/>
</g>
</g>
<g id="line2d_286">
<g>
<use href="#mec65994248" x="1086.2" y="780.96" style="stroke: #000000; stroke-width: 1.5"/>
</g>
</g>
</g>
<g id="ytick_66">
<g id="line2d_287">
<g>
<use href="#m8791594178" x="138.6" y="772.85" style="stroke: #000000; stroke-width: 1.5"/>
</g>
</g>
<g id="line2d_288">
<g>
<use href="#mec65994248" x="1086.2" y="772.85" style="stroke: #000000; stroke-width: 1.5"/>
</g>
</g>
</g>
<g id="ytick_67">
<g id="line2d_289">
<g>
<use href="#m8791594178" x="138.6" y="765.70" style="stroke: #000000; stroke-width: 1.5"/>
</g>
</g>
<g id="line2d_290">
<g>
<use href="#mec65994248" x="1086.2" y="765.70" style="stroke: #000000; stroke-width: 1.5"/>
</g>
</g>
</g>
<g id="text_22">
<g transform="translate(47.49 1079.22) rotate(-90)">
<text>
<tspan x="0" y="-0.37" style="font-size: 39px; font-family: 'DejaVu Sans', sans-serif">F</tspan>
<tspan x="22.43" y="-0.37" style="font-size: 39px; font-family: 'DejaVu Sans', sans-serif">l</tspan>
<tspan x="33.26" y="-0.37" style="font-size: 39px; font-family: 'DejaVu Sans', sans-serif">u</tspan>
<tspan x="57.98" y="-0.37" style="font-size: 39px; font-family: 'DejaVu Sans', sans-serif">x</tspan>
<tspan x="99.30" y="-0.37" style="font-size: 39px; font-family: 'DejaVu Sans', sans-serif">[</tspan>
<tspan x="114.51" y="-0.37" style="font-size: 39px; font-family: 'DejaVu Sans', sans-serif">n</tspan>
<tspan x="139.23" y="-0.37" style="font-size: 39px; font-family: 'DejaVu Sans', sans-serif">J</tspan>
<tspan x="150.73" y="-0.37" style="font-size: 39px; font-family: 'DejaVu Sans', sans-serif">y</tspan>
<tspan x="173.81" y="-0.37" style="font-size: 39px; font-family: 'DejaVu Sans', sans-serif">]</tspan>
</text>
</g>
</g>
</g>
<g id="line2d_291">
<path d="M 427 1436 
L 427.3 1036 
L 427.8 986 
L 428.5 964 
L 429.5 953 
L 431 945 
L 433 940 
L 433.5 939.25 
L 436.5 937.20 
L 437 936.81 
L 437.5 937.18 
L 438 937.33 
L 438.5 938.19 
L 439 938.44 
L 439.5 938.88 
L 440.5 937.95 
L 441 937.00 
L 441.5 936.74 
L 442 936.68 
L 442.5 936.73 
L 443.5 935.93 
L 445 936.99 
L 445.5 936.62 
L 446 937.02 
L 446.5 937.23 
L 447 937.74 
L 447.5 937.00 
L 448 937.12 
L 448.5 936.62 
L 449.5 937.62 
L 450 938.16 
L 451 937.72 
L 451.5 937.14 
L 452 937.25 
L 452.5 936.46 
L 453 936.97 
L 453.5 937.67 
L 454 937.78 
L 454.5 937.35 
L 455 936.39 
L 455.5 936.62 
L 456 936.57 
L 457 935.90 
L 457.5 936.17 
L 458 936.71 
L 459 938.64 
L 459.5 938.72 
L 460 937.85 
L 461 936.59 
L 461.5 937.00 
L 462 936.38 
L 462.5 936.42 
L 463.5 936.98 
L 464 938.00 
L 464.5 937.46 
L 465 937.18 
L 465.5 936.29 
L 466.5 936.79 
L 467 936.69 
L 467.5 936.73 
L 468 936.28 
L 468.5 936.76 
L 469 936.42 
L 469.5 937.02 
L 470 936.99 
L 470.5 937.73 
L 471 937.46 
L 472 936.70 
L 472.5 936.44 
L 473 936.37 
L 473.5 936.14 
L 475 937.04 
L 475.5 937.57 
L 476.5 937.07 
L 477 936.68 
L 477.5 936.91 
L 478 938.15 
L 478.5 937.80 
L 479 937.69 
L 479.5 937.34 
L 480.5 938.09 
L 481.5 937.13 
L 482 937.73 
L 483 937.59 
L 483.5 936.99 
L 484.5 937.83 
L 486 936.29 
L 487 936.36 
L 487.5 936.81 
L 488 937.12 
L 489 936.86 
L 489.5 937.27 
L 490 937.30 
L 490.5 937.04 
L 491 936.65 
L 492 937.52 
L 492.5 937.44 
L 493 936.92 
L 493.5 937.68 
L 494 937.38 
L 494.5 937.42 
L 495 936.74 
L 495.5 937.20 
L 496 937.02 
L 497 936.42 
L 497.5 937.24 
L 498 937.41 
L 498.5 937.74 
L 499 937.84 
L 499.5 937.62 
L 500 937.74 
L 500.5 937.55 
L 501 937.64 
L 501.5 937.52 
L 502 936.97 
L 503.5 936.27 
L 504 936.70 
L 504.5 936.91 
L 505 936.80 
L 505.5 937.18 
L 506.5 937.34 
L 507 937.80 
L 508 937.80 
L 508.5 936.68 
L 509 936.80 
L 509.5 937.06 
L 510.5 937.08 
L 511 936.87 
L 511.5 936.95 
L 512 936.88 
L 512.5 937.32 
L 513 937.42 
L 513.5 938.08 
L 514 937.53 
L 514.5 937.98 
L 515 937.49 
L 515.5 937.90 
L 516.5 937.66 
L 517.5 936.72 
L 518.5 937.50 
L 519 937.53 
L 519.5 936.96 
L 520 937.74 
L 520.5 938.01 
L 521 938.43 
L 521.5 937.57 
L 522 938.06 
L 522.5 938.13 
L 523 939.45 
L 523.5 939.39 
L 524 939.98 
L 524.5 941.54 
L 525 944.42 
L 525.5 945.93 
L 525.6 945.78 
L 526 943.50 
L 527 939.87 
L 527.5 939.46 
L 528.5 940.31 
L 529 940.29 
L 529.5 940.00 
L 530 938.86 
L 530.5 938.68 
L 531 938.01 
L 531.5 938.35 
L 532 938.50 
L 532.5 938.50 
L 533 938.62 
L 533.5 939.07 
L 534 939.69 
L 534.5 939.85 
L 535 940.48 
L 536.5 939.55 
L 537.5 939.67 
L 538 938.94 
L 538.5 939.68 
L 539 940.08 
L 539.5 940.13 
L 540 939.40 
L 541 941.47 
L 541.5 941.82 
L 542 940.44 
L 542.5 939.61 
L 543 940.46 
L 543.5 940.31 
L 544 940.44 
L 544.5 939.90 
L 545 940.84 
L 545.5 940.76 
L 546.5 939.30 
L 547 939.55 
L 547.5 940.06 
L 548.5 941.39 
L 549.5 940.91 
L 550 939.99 
L 552 940.93 
L 552.5 941.03 
L 553 941.92 
L 553.5 942.03 
L 554 941.79 
L 554.5 941.19 
L 555 940.78 
L 555.5 941.24 
L 556 941.10 
L 556.5 941.90 
L 557 941.32 
L 557.5 941.73 
L 558 941.30 
L 558.5 941.93 
L 559.5 942.67 
L 560 942.34 
L 560.5 941.59 
L 561 941.07 
L 561.5 941.59 
L 562 941.92 
L 562.5 942.05 
L 563 941.58 
L 563.5 941.53 
L 564 942.26 
L 564.5 942.17 
L 565 942.59 
L 565.5 942.19 
L 566 942.37 
L 566.5 943.19 
L 567 943.20 
L 567.5 943.01 
L 568 942.58 
L 569 943.09 
L 569.5 942.25 
L 570 941.81 
L 570.5 942.83 
L 571 942.78 
L 571.5 943.31 
L 572 941.80 
L 573 941.77 
L 573.5 942.88 
L 574 943.20 
L 575 942.80 
L 576 942.58 
L 576.5 942.15 
L 577.5 943.25 
L 578 943.08 
L 578.5 942.21 
L 579 942.01 
L 579.5 942.59 
L 580 942.83 
L 581 941.68 
L 581.5 941.72 
L 582 941.93 
L 583 942.97 
L 583.5 943.79 
L 584 943.34 
L 584.5 943.91 
L 585 943.91 
L 585.5 943.73 
L 586 942.66 
L 586.5 942.25 
L 587 942.31 
L 587.5 942.74 
L 588.5 943.14 
L 589 942.56 
L 589.5 942.40 
L 590 942.08 
L 590.5 943.47 
L 591 943.36 
L 591.5 943.65 
L 592 942.30 
L 592.5 942.07 
L 593 942.35 
L 593.5 942.41 
L 594 942.83 
L 594.5 942.01 
L 595 943.44 
L 595.5 943.04 
L 596 943.86 
L 596.5 943.65 
L 597 944.42 
L 597.5 943.65 
L 598.5 942.65 
L 599 943.92 
L 599.5 944.14 
L 600 944.09 
L 600.5 943.06 
L 601 942.96 
L 601.5 943.69 
L 602 944.68 
L 602.5 944.83 
L 603 944.68 
L 603.5 943.72 
L 604 943.04 
L 604.5 943.20 
L 605 943.13 
L 605.5 943.41 
L 606 942.63 
L 606.5 943.03 
L 607 942.83 
L 608 944.45 
L 608.5 945.01 
L 608.7 946.36 
L 608.8 945.73 
L 609 942.79 
L 609 944.01 
L 609.1 944.06 
L 609.3 943.51 
L 609.4 943.56 
L 609.5 943.89 
L 609.5 943.67 
L 609.7 943.68 
L 609.8 943.48 
L 610.1 944.99 
L 610.3 944.43 
L 610.4 943.29 
L 610.5 944.05 
L 610.6 945.17 
L 610.7 944.57 
L 610.8 944.90 
L 610.9 943.98 
L 611.1 945.28 
L 611.2 945.11 
L 611.3 945.05 
L 611.4 945.38 
L 611.5 944.58 
L 611.7 942.91 
L 611.8 942.45 
L 611.9 943.28 
L 612.2 942.38 
L 612.3 942.20 
L 612.5 939.47 
L 612.7 939.95 
L 613 942.16 
L 613.1 941.18 
L 613.2 941.82 
L 613.4 943.75 
L 613.5 943.75 
L 613.5 942.90 
L 613.6 943.20 
L 613.8 946.17 
L 613.9 945.65 
L 614 943.33 
L 614.3 945.31 
L 614.4 945.20 
L 614.5 945.67 
L 614.5 945.43 
L 614.6 945.05 
L 614.7 946.41 
L 614.8 945.90 
L 614.9 946.14 
L 615 945.49 
L 615 946.22 
L 615.1 945.94 
L 615.3 945.17 
L 615.4 945.28 
L 615.5 944.65 
L 615.5 944.83 
L 615.7 945.93 
L 615.9 945.40 
L 616 945.98 
L 616 945.94 
L 616.4 944.11 
L 616.5 944.19 
L 616.5 943.93 
L 617 943.80 
L 618 944.66 
L 618.5 944.77 
L 619 944.49 
L 619.5 945.01 
L 620 945.90 
L 620.5 945.69 
L 621 947.21 
L 621.5 946.56 
L 622 947.22 
L 622.5 945.18 
L 623 944.91 
L 623.5 944.94 
L 624 945.28 
L 624.5 945.21 
L 625.5 944.22 
L 626 944.67 
L 627 946.04 
L 627.5 945.82 
L 628 945.33 
L 628.5 945.62 
L 629 946.05 
L 629.5 946.24 
L 630.5 945.68 
L 631 946.31 
L 631.5 946.31 
L 632 946.71 
L 633 946.11 
L 633.5 945.90 
L 634 947.27 
L 634.5 948.03 
L 635 947.84 
L 635.5 946.25 
L 636 946.10 
L 636.5 946.44 
L 637 947.31 
L 637.5 947.03 
L 638 947.22 
L 638.5 946.79 
L 639 946.84 
L 640 946.45 
L 640.5 946.59 
L 641 947.16 
L 641.5 947.51 
L 642 947.36 
L 642.5 946.91 
L 643 947.13 
L 643.5 948.28 
L 644 948.44 
L 645 946.79 
L 645.5 947.44 
L 646 947.58 
L 646.5 947.27 
L 647 947.19 
L 647.5 947.90 
L 648 948.31 
L 649.5 947.23 
L 650 946.61 
L 650.5 946.29 
L 651.5 948.35 
L 652 948.50 
L 653 948.05 
L 653.5 947.98 
L 654 947.26 
L 654.5 946.86 
L 655 947.33 
L 656 947.12 
L 656.5 946.55 
L 657 947.08 
L 657.5 947.04 
L 658 948.66 
L 658.5 948.10 
L 659 948.49 
L 659.5 947.33 
L 660 947.32 
L 660.5 946.76 
L 661 947.84 
L 661.5 947.98 
L 662 948.88 
L 662.5 947.49 
L 663 947.82 
L 663.5 947.02 
L 664 947.48 
L 665 947.69 
L 665.5 947.66 
L 666 948.57 
L 666.5 948.71 
L 667.5 947.75 
L 668 947.47 
L 668.5 947.77 
L 669 947.29 
L 669.5 947.50 
L 670 948.18 
L 670.5 948.41 
L 671 948.01 
L 671.5 947.87 
L 672 948.45 
L 672.5 948.74 
L 673 948.05 
L 673.5 948.15 
L 674 948.10 
L 674.5 948.55 
L 675 947.69 
L 675.5 947.78 
L 676 947.36 
L 677 947.33 
L 677.5 947.39 
L 678 947.68 
L 679 948.79 
L 679.5 949.32 
L 680.5 948.45 
L 681 948.53 
L 681.5 949.21 
L 682 949.05 
L 682.5 949.03 
L 683 948.74 
L 683.5 949.09 
L 684 949.19 
L 684.5 949.72 
L 685 949.62 
L 685.5 948.96 
L 686 947.97 
L 686.5 947.71 
L 687 949.00 
L 687.5 949.57 
L 688 949.66 
L 688.5 948.25 
L 689 948.00 
L 689.5 948.63 
L 690 949.46 
L 690.5 949.20 
L 691 949.46 
L 691.5 948.94 
L 692 949.07 
L 692.5 948.27 
L 693 948.73 
L 694 948.49 
L 694.5 947.88 
L 695 948.08 
L 696 949.92 
L 697 949.83 
L 697.5 950.45 
L 698 950.44 
L 698.5 950.11 
L 699 948.93 
L 699.5 948.96 
L 700 948.50 
L 700.5 948.66 
L 701 949.61 
L 701.5 949.66 
L 702 949.93 
L 702.5 949.24 
L 703 949.72 
L 703.5 949.02 
L 704.5 949.05 
L 705 949.37 
L 705.5 949.55 
L 706 949.41 
L 706.5 949.85 
L 707 949.74 
L 707.5 949.74 
L 708 949.16 
L 708.5 949.53 
L 709 949.19 
L 709.5 949.21 
L 710 948.74 
L 711 949.32 
L 711.5 949.78 
L 712 949.94 
L 712.5 949.64 
L 713 949.66 
L 713.5 949.51 
L 714 949.85 
L 714.5 949.52 
L 715 949.85 
L 715.5 950.05 
L 716 951.14 
L 717 951.61 
L 717.5 951.12 
L 718 951.77 
L 718.5 952.05 
L 719.5 951.30 
L 720.5 951.31 
L 721 951.11 
L 721.5 951.39 
L 722 951.91 
L 722.5 951.99 
L 723 951.60 
L 723.5 951.54 
L 724 951.29 
L 724.5 951.63 
L 725 951.55 
L 725.5 952.23 
L 726 951.36 
L 727.5 951.56 
L 728 951.86 
L 728.5 952.57 
L 729 952.82 
L 729.5 952.68 
L 730 951.69 
L 730.5 951.92 
L 731 951.79 
L 731.5 951.79 
L 732 951.41 
L 732.5 952.21 
L 733 952.04 
L 733.5 952.17 
L 734 951.48 
L 734.5 951.48 
L 735 951.78 
L 736 953.43 
L 736.5 954.43 
L 737 953.69 
L 737.5 953.23 
L 738.5 953.82 
L 739 953.82 
L 739.5 952.53 
L 740 952.73 
L 740.5 953.06 
L 741 953.63 
L 742 953.27 
L 742.5 952.65 
L 743.5 952.70 
L 744 952.70 
L 744.5 953.10 
L 745 952.93 
L 745.5 953.46 
L 746 953.27 
L 746.5 953.80 
L 747.5 956.10 
L 748 955.45 
L 749 953.29 
L 749.5 954.15 
L 750 953.89 
L 750.5 953.82 
L 751 953.44 
L 752 953.87 
L 752.5 954.94 
L 753 955.49 
L 753.5 955.37 
L 754 954.58 
L 754.5 954.17 
L 755 954.44 
L 755.5 955.23 
L 756 955.63 
L 756.5 956.29 
L 757 955.16 
L 757.5 954.76 
L 758 954.61 
L 758.5 955.25 
L 759 955.32 
L 760 954.61 
L 761 955.87 
L 761.5 955.99 
L 762 955.77 
L 762.5 955.36 
L 763.5 955.21 
L 764 954.80 
L 764.5 954.98 
L 765 954.94 
L 766 955.88 
L 766.5 956.07 
L 767 956.92 
L 767.5 957.21 
L 768 957.04 
L 768.5 955.72 
L 769 956.04 
L 769.5 956.01 
L 770 956.11 
L 770.5 955.43 
L 771 956.09 
L 771.5 956.19 
L 772 955.95 
L 772.5 956.04 
L 773.5 957.01 
L 774 957.22 
L 774.5 957.25 
L 775.5 956.62 
L 776.5 956.64 
L 777 957.51 
L 778 957.67 
L 778.5 956.98 
L 779.5 957.21 
L 780 956.92 
L 780.5 957.08 
L 781.5 958.21 
L 782 957.84 
L 782.5 958.29 
L 783 957.73 
L 783.5 957.67 
L 784 957.38 
L 784.5 957.48 
L 785 957.85 
L 785.5 957.05 
L 786 957.07 
L 786.5 957.40 
L 787.5 957.24 
L 788 956.74 
L 788.5 956.79 
L 789 957.41 
L 789.5 958.26 
L 790 958.69 
L 790.5 958.44 
L 791 957.39 
L 791.5 957.25 
L 792.5 957.65 
L 793 957.75 
L 793.5 957.49 
L 795 957.36 
L 795.5 957.93 
L 796.5 957.99 
L 797 958.29 
L 797.5 958.35 
L 798 959.43 
L 798.5 959.15 
L 799 959.70 
L 799.5 959.42 
L 800 960.84 
L 800.5 960.53 
L 801 960.57 
L 801.5 959.03 
L 802 959.15 
L 802.5 958.87 
L 803 958.98 
L 803.5 959.50 
L 804 959.23 
L 804.5 959.81 
L 805 959.62 
L 806 959.49 
L 806.5 959.05 
L 807 959.12 
L 808.5 958.90 
L 809 958.30 
L 809.5 959.26 
L 810.5 959.66 
L 811 959.19 
L 811.5 959.64 
L 812 959.90 
L 812.5 959.89 
L 813 959.39 
L 813.5 959.74 
L 814.5 959.66 
L 815.5 958.94 
L 816 959.13 
L 816.5 959.06 
L 817 959.54 
L 817.5 959.68 
L 818 960.46 
L 819 960.27 
L 819.5 959.83 
L 820 959.81 
L 821.5 959.06 
L 822 960.04 
L 823 959.73 
L 824 960.86 
L 824.5 962.29 
L 825 961.89 
L 826 960.81 
L 826.5 959.84 
L 827 960.26 
L 827.5 959.72 
L 828.5 959.77 
L 829 960.29 
L 829.5 960.43 
L 830 960.23 
L 830.5 959.64 
L 831 960.26 
L 832 959.69 
L 832.5 959.06 
L 833 959.98 
L 833.5 960.12 
L 834 960.04 
L 834.5 959.07 
L 835 959.59 
L 835.5 960.79 
L 836 960.93 
L 837 960.11 
L 838 961.35 
L 838.5 960.79 
L 839 960.82 
L 839.5 960.09 
L 840 960.26 
L 840.5 960.14 
L 841 961.65 
L 841.5 961.43 
L 842 961.66 
L 842.5 960.89 
L 843 961.23 
L 844 959.89 
L 844.5 959.98 
L 845 960.76 
L 845.5 960.96 
L 846 960.79 
L 846.5 960.05 
L 847.5 959.99 
L 848.5 960.41 
L 849.5 960.50 
L 850 960.23 
L 850.5 960.41 
L 851 960.21 
L 851.5 960.32 
L 852 961.19 
L 852.5 961.66 
L 853 963.20 
L 853.5 962.12 
L 854 961.86 
L 854.5 960.28 
L 855 960.93 
L 855.5 961.15 
L 856 962.35 
L 856.5 961.61 
L 857 961.25 
L 857.5 960.13 
L 858.5 961.38 
L 859 961.81 
L 859.5 962.00 
L 860 961.39 
L 860.5 960.97 
L 861.5 961.77 
L 862 962.57 
L 862.5 961.63 
L 864 961.58 
L 864.5 961.73 
L 865 961.55 
L 865.5 961.19 
L 866.5 961.41 
L 867 962.36 
L 868 961.78 
L 868.5 961.41 
L 869 962.00 
L 869.5 961.68 
L 870 961.19 
L 871 961.30 
L 871.5 961.64 
L 872 961.10 
L 872.5 962.77 
L 873 962.85 
L 873.5 963.22 
L 874 961.46 
L 875 960.73 
L 876.5 962.44 
L 877 961.89 
L 877.5 961.84 
L 878 961.49 
L 878.5 961.93 
L 879 961.70 
L 879.5 961.77 
L 880 961.62 
L 881 960.07 
L 881.5 960.47 
L 882 960.12 
L 882.5 960.33 
L 883 959.42 
L 883.5 959.81 
L 884 959.94 
L 884.5 959.34 
L 884.6 958.78 
L 884.7 959.18 
L 884.8 959.12 
L 884.9 959.42 
L 885.1 957.95 
L 885.2 957.98 
L 885.3 958.52 
L 885.5 958.18 
L 885.6 956.49 
L 885.8 956.06 
L 885.9 956.25 
L 886.1 957.57 
L 886.5 956.00 
L 886.5 956.30 
L 886.6 956.03 
L 886.7 955.86 
L 886.8 955.12 
L 887 956.91 
L 887.1 956.31 
L 887.3 955.02 
L 887.5 955.17 
L 887.6 952.85 
L 887.7 951.10 
L 887.9 940.53 
L 888.5 886.68 
L 888.6 888.82 
L 888.8 905.01 
L 889.2 945.10 
L 889.4 950.29 
L 889.5 952.67 
L 889.6 952.32 
L 889.8 950.90 
L 889.9 950.94 
L 890 951.53 
L 890 951.01 
L 890.3 950.44 
L 890.5 950.00 
L 890.6 950.22 
L 890.8 949.95 
L 891.1 949.34 
L 891.2 949.44 
L 891.4 949.03 
L 891.7 948.27 
L 892 947.79 
L 892 947.86 
L 892.2 948.46 
L 892.3 948.37 
L 892.5 947.82 
L 893 947.90 
L 893.5 947.65 
L 894 947.68 
L 894.5 947.32 
L 895 947.35 
L 895.5 947.12 
L 896 947.17 
L 897.5 946.23 
L 898 946.28 
L 898.5 946.12 
L 899 946.19 
L 900 945.65 
L 900.5 945.44 
L 901.4 945.58 
L 901.7 945.32 
L 901.9 945.95 
L 902 945.99 
L 902.1 945.52 
L 902.2 945.52 
L 902.4 945.68 
L 902.5 945.56 
L 902.5 945.18 
L 902.6 945.44 
L 903 945.42 
L 903 945.41 
L 903.1 945.28 
L 903.3 945.38 
L 903.4 945.68 
L 903.5 945.59 
L 903.7 945.22 
L 903.8 945.21 
L 904 945.43 
L 904.1 945.87 
L 904.2 945.76 
L 904.3 945.83 
L 904.5 945.19 
L 904.7 943.67 
L 904.9 939.57 
L 905.4 924.75 
L 905.5 925.70 
L 905.8 936.36 
L 906.1 943.78 
L 906.4 945.27 
L 906.5 945.32 
L 906.6 945.72 
L 906.7 945.99 
L 906.9 945.57 
L 907 945.92 
L 907.1 945.72 
L 907.3 945.31 
L 907.5 945.53 
L 907.6 945.25 
L 907.9 945.01 
L 908.1 945.39 
L 908.2 945.06 
L 908.4 945.53 
L 908.5 945.56 
L 908.5 945.19 
L 908.6 945.27 
L 908.9 945.65 
L 909.1 945.43 
L 909.3 945.14 
L 910 945.02 
L 910.3 945.06 
L 910.5 945.44 
L 910.6 945.54 
L 910.9 945.07 
L 911 945.08 
L 911 945.23 
L 911.1 945.19 
L 911.2 945.01 
L 911.3 945.09 
L 911.5 945.39 
L 911.5 945.31 
L 911.6 945.08 
L 911.9 945.39 
L 912 945.32 
L 912 945.14 
L 912.1 945.17 
L 912.5 944.91 
L 912.7 945.39 
L 912.8 945.29 
L 912.9 944.93 
L 913.2 945.24 
L 913.3 945.23 
L 913.5 944.59 
L 913.7 941.50 
L 914.3 923.43 
L 914.4 924.16 
L 914.7 935.05 
L 915 943.91 
L 915 943.54 
L 915.2 944.81 
L 915.5 945.20 
L 915.6 944.89 
L 915.7 945.16 
L 915.8 945.11 
L 915.9 945.26 
L 916.1 945.15 
L 916.3 945.18 
L 916.4 945.38 
L 916.5 945.33 
L 916.6 945.03 
L 917 945.05 
L 917 945.23 
L 917.1 945.15 
L 917.2 945.38 
L 917.6 944.91 
L 918 945.14 
L 918.1 945.02 
L 918.2 945.11 
L 918.5 944.97 
L 919 945.24 
L 919.5 945.20 
L 920 945.37 
L 921 944.83 
L 921.5 944.72 
L 922 944.90 
L 923.6 945.05 
L 923.7 945.18 
L 924 944.67 
L 924 944.61 
L 924.1 944.64 
L 924.3 945.15 
L 924.4 945.33 
L 924.5 944.94 
L 924.5 945.34 
L 924.6 945.26 
L 924.7 945.56 
L 925 944.77 
L 925 944.78 
L 925.2 944.87 
L 925.4 944.71 
L 925.5 944.62 
L 925.5 944.70 
L 925.6 944.88 
L 925.8 944.66 
L 925.9 944.56 
L 926 945.01 
L 926.1 944.94 
L 926.3 944.67 
L 926.5 944.56 
L 926.5 944.64 
L 926.6 944.49 
L 926.7 944.27 
L 926.8 943.38 
L 927 937.32 
L 927.6 903.66 
L 927.7 905.38 
L 928 924.60 
L 928 924.39 
L 928.3 941.20 
L 928.5 944.29 
L 928.5 944.07 
L 928.7 944.68 
L 928.9 944.66 
L 929 944.99 
L 929.2 944.50 
L 929.3 944.51 
L 929.4 944.64 
L 929.5 944.58 
L 929.6 944.23 
L 929.9 944.82 
L 930.2 944.62 
L 930.3 944.70 
L 930.5 944.51 
L 930.6 944.66 
L 930.7 944.68 
L 931 944.50 
L 931.1 944.81 
L 931.2 944.89 
L 931.3 944.65 
L 931.5 945.12 
L 931.5 945.70 
L 932.5 945.51 
L 933 945.07 
L 933.5 945.23 
L 934 945.10 
L 934.5 945.10 
L 935 944.91 
L 936.5 945.39 
L 937 945.38 
L 938 945.94 
L 939 945.97 
L 939.5 945.77 
L 940 946.01 
L 940.5 945.72 
L 941.5 946.25 
L 942 946.36 
L 943 946.01 
L 943.5 946.43 
L 944 946.48 
L 945 946.44 
L 946 946.74 
L 946.5 946.66 
L 947.2 946.72 
L 947.4 946.35 
L 947.6 946.79 
L 947.8 946.72 
L 948.3 946.91 
L 948.4 947.21 
L 948.8 946.45 
L 949 946.78 
L 949.1 946.61 
L 949.4 947.26 
L 949.5 946.97 
L 949.8 946.70 
L 950 946.98 
L 950.1 946.78 
L 950.3 945.22 
L 950.5 938.68 
L 950.5 938.80 
L 950.8 908.33 
L 951.1 879.26 
L 951.2 876.98 
L 951.3 879.28 
L 951.5 896.10 
L 951.5 896.06 
L 951.9 939.08 
L 952.1 945.55 
L 952.3 946.97 
L 952.5 947.61 
L 952.6 947.31 
L 952.7 947.45 
L 952.9 947.20 
L 953 947.15 
L 953.1 947.33 
L 953.3 947.13 
L 953.5 947.13 
L 953.6 947.00 
L 953.7 947.11 
L 953.9 947.63 
L 954.1 948.07 
L 954.3 947.76 
L 954.4 947.51 
L 954.5 947.58 
L 954.6 947.28 
L 954.7 947.30 
L 954.9 947.50 
L 955 947.42 
L 955 947.27 
L 955.1 947.42 
L 955.5 947.44 
L 956 947.74 
L 957 948.02 
L 957.5 948.27 
L 958 948.31 
L 958.5 948.23 
L 959 947.97 
L 959.3 948.49 
L 959.5 947.73 
L 959.6 947.76 
L 959.8 947.97 
L 960 947.82 
L 960 947.92 
L 960.3 948.64 
L 960.5 948.19 
L 960.5 947.99 
L 960.6 948.05 
L 960.7 948.18 
L 960.8 948.06 
L 961 948.44 
L 961 948.37 
L 961.3 948.62 
L 961.4 948.29 
L 961.5 948.40 
L 961.6 948.71 
L 961.7 948.71 
L 962.1 948.09 
L 962.2 947.95 
L 962.4 947.01 
L 963 941.06 
L 963 941.10 
L 963.1 941.15 
L 963.3 942.01 
L 963.5 943.67 
L 963.9 947.54 
L 964.1 948.09 
L 964.4 948.47 
L 964.5 948.49 
L 964.8 949.19 
L 965 948.81 
L 965.1 948.93 
L 965.3 949.20 
L 965.7 948.75 
L 966 949.08 
L 966 949.01 
L 966.1 949.01 
L 966.3 949.54 
L 966.4 949.44 
L 966.5 948.87 
L 966.6 949.00 
L 966.9 949.50 
L 967 949.40 
L 967 949.26 
L 967.5 948.96 
L 968 949.05 
L 968.5 949.34 
L 969.5 949.44 
L 970 949.36 
L 970.5 949.67 
L 971 949.69 
L 972.5 950.16 
L 973 950.11 
L 974 950.43 
L 974.5 950.49 
L 975 950.30 
L 975.5 950.31 
L 977 950.61 
L 978 950.71 
L 978.5 950.71 
L 979.5 951.09 
L 980 951.28 
L 980.5 951.25 
L 982 951.67 
L 982.5 951.59 
L 984 952.04 
L 984.5 951.81 
L 985.5 951.83 
L 986 951.86 
L 986.5 952.28 
L 988 952.53 
L 988.5 952.96 
L 989 953.16 
L 989.5 952.96 
L 990 952.60 
L 990.5 952.53 
L 991 952.62 
L 991.5 952.99 
L 992 953.08 
L 992.5 953.33 
L 993 953.19 
L 993.4 953.42 
L 993.6 953.71 
L 994 953.16 
L 994 953.17 
L 994.2 953.38 
L 994.4 953.26 
L 994.5 953.23 
L 994.6 953.71 
L 994.7 953.79 
L 994.9 953.48 
L 995 953.69 
L 995 953.57 
L 995.2 953.35 
L 995.4 953.55 
L 995.5 953.49 
L 995.6 953.31 
L 995.9 953.94 
L 996.1 953.42 
L 996.2 953.54 
L 996.3 953.22 
L 996.4 952.21 
L 996.5 949.45 
L 996.5 949.50 
L 996.7 932.52 
L 997.4 832.69 
L 997.5 835.56 
L 997.7 857.90 
L 998.3 950.30 
L 998.5 953.79 
L 998.5 953.74 
L 998.7 954.06 
L 998.8 953.90 
L 999.1 954.32 
L 999.4 954.18 
L 999.5 954.27 
L 999.5 954.17 
L 999.6 954.12 
L 999.8 954.15 
L 999.9 954.23 
L 1000.1 954.10 
L 1000.6 954.53 
L 1000.7 954.46 
L 1000.8 954.56 
L 1000.9 954.32 
L 1001 954.47 
L 1001 954.25 
L 1001.1 954.29 
L 1001.3 954.18 
L 1001.8 954.88 
L 1001.9 954.44 
L 1002.2 955.07 
L 1002.3 955.09 
L 1002.6 954.48 
L 1002.9 954.65 
L 1003 954.40 
L 1003.2 954.80 
L 1003.3 954.95 
L 1003.4 954.78 
L 1003.8 955.01 
L 1004 954.44 
L 1004.4 954.92 
L 1004.6 953.99 
L 1004.7 952.98 
L 1004.9 947.23 
L 1005.4 928.41 
L 1005.5 929.72 
L 1005.7 937.97 
L 1006.1 952.66 
L 1006.3 954.78 
L 1006.3 954.63 
L 1006.4 954.73 
L 1006.6 955.28 
L 1006.7 955.10 
L 1006.8 954.79 
L 1006.8 954.95 
L 1006.9 955.17 
L 1006.9 955.10 
L 1007.1 955.13 
L 1007.1 954.94 
L 1007.2 955.17 
L 1007.3 955.30 
L 1007.4 955.02 
L 1007.7 955.39 
L 1007.8 954.98 
L 1008 955.35 
L 1008 955.50 
L 1008.1 955.04 
L 1008.2 955.16 
L 1008.2 955.06 
L 1008.3 955.01 
L 1008.3 955.11 
L 1008.4 955.19 
L 1008.4 955.17 
L 1008.5 955.01 
L 1008.5 955.29 
L 1008.6 955.14 
L 1008.8 952.81 
L 1008.8 953.14 
L 1009 943.71 
L 1009.6 898.78 
L 1009.7 900.84 
L 1009.9 915.39 
L 1010.3 949.64 
L 1010.5 954.70 
L 1010.7 955.31 
L 1010.9 955.55 
L 1011 955.57 
L 1011 955.27 
L 1011.1 955.36 
L 1011.2 955.39 
L 1011.3 955.74 
L 1011.5 955.68 
L 1011.5 955.35 
L 1011.6 955.55 
L 1011.9 956.13 
L 1012 955.78 
L 1012.1 955.93 
L 1012.3 956.07 
L 1012.5 955.66 
L 1012.7 955.72 
L 1012.9 955.84 
L 1013 955.71 
L 1013.2 956.09 
L 1013.4 956.03 
L 1013.5 956.24 
L 1014 956.03 
L 1015.5 956.47 
L 1016 956.26 
L 1016.5 956.42 
L 1017 956.39 
L 1017.5 956.49 
L 1018 956.40 
L 1018.5 956.67 
L 1019.5 956.69 
L 1020 956.75 
L 1021 957.17 
L 1021.5 956.92 
L 1022 957.06 
L 1022.5 957.01 
L 1023 957.37 
L 1024 957.11 
L 1024.5 957.09 
L 1025.5 957.28 
L 1026.5 957.31 
L 1027 957.67 
L 1027.5 957.81 
L 1028 958.16 
L 1028.5 957.92 
L 1029 957.96 
L 1029.5 957.79 
L 1030.5 958.25 
L 1031 958.67 
L 1031.5 958.80 
L 1032.5 958.33 
L 1033 958.35 
L 1033.5 958.55 
L 1036 958.91 
L 1036.5 959.18 
L 1037 959.19 
L 1037.5 959.76 
L 1038.5 959.97 
L 1039 959.66 
L 1040 959.77 
L 1040.5 959.89 
L 1041.5 959.86 
L 1042.5 960.12 
L 1043 960.35 
L 1044 960.47 
L 1045 960.62 
L 1045.5 960.66 
L 1046 960.57 
L 1046.5 960.81 
L 1047 960.92 
L 1047.5 961.20 
L 1048 961.13 
L 1050 961.64 
L 1050.5 961.61 
L 1051.5 962.74 
L 1052 963.01 
L 1053 962.01 
L 1053.5 961.91 
L 1054 962.07 
L 1054.5 962.64 
L 1055.5 962.81 
L 1056 962.60 
L 1057 962.77 
L 1057.5 962.74 
L 1060 963.93 
L 1060.5 963.99 
L 1061 963.69 
L 1061.5 963.66 
L 1062.5 964.06 
L 1063 964.49 
L 1063.5 964.37 
L 1064 964.43 
L 1064.5 964.22 
L 1065 964.69 
L 1066 964.80 
L 1066.5 964.50 
L 1068.5 965.01 
L 1069 965.15 
L 1069.5 965.47 
L 1070 965.27 
L 1071 965.33 
L 1071.5 965.87 
L 1071.5 965.74 
L 1071.6 965.76 
L 1071.7 965.68 
L 1071.9 966.07 
L 1072 965.94 
L 1072.1 965.40 
L 1072.3 965.86 
L 1072.4 966.11 
L 1072.5 965.89 
L 1072.8 966.42 
L 1073 966.13 
L 1073.2 966.31 
L 1073.3 966.11 
L 1073.4 966.16 
L 1073.6 965.80 
L 1073.8 965.96 
L 1074 965.96 
L 1074.1 966.17 
L 1074.4 965.81 
L 1074.6 963.87 
L 1074.8 957.54 
L 1075.3 936.98 
L 1075.4 938.24 
L 1075.7 952.94 
L 1076 964.31 
L 1076.2 966.18 
L 1076.4 966.43 
L 1076.5 966.28 
L 1076.5 966.30 
L 1076.6 966.38 
L 1076.9 966.88 
L 1077 966.74 
L 1077 966.83 
L 1077.1 966.79 
L 1077.3 967.13 
L 1077.5 966.95 
L 1077.5 966.72 
L 1077.6 966.75 
L 1077.8 966.63 
L 1078 967.14 
L 1078.1 966.82 
L 1078.2 967.07 
L 1078.3 966.92 
L 1078.5 967.19 
L 1078.6 967.12 
L 1078.8 966.76 
L 1079 966.97 
L 1079 966.99 
L 1079.1 966.93 
L 1079.2 966.89 
L 1080 967.36 
L 1080.5 967.32 
L 1081 967.52 
L 1081.5 967.40 
L 1082.5 967.57 
L 1083.5 967.84 
L 1084.5 968.69 
L 1085 968.99 
L 1085.5 968.51 
L 1086 968.53 
L 1086.5 968.23 
L 1088 968.49 
L 1088 968.49 
" clip-path="url(#p7fe3c25381)" style="fill: none; stroke: #ff0000; stroke-width: 4.3; stroke-linecap: square"/>
</g>
<g id="patch_13">
<path d="M 138.6 1210 
L 138.6 759.3 
" style="fill: none; stroke: #000000; stroke-width: 3.4; stroke-linejoin: miter; stroke-linecap: square"/>
</g>
<g id="patch_14">
<path d="M 1086.2 1210 
L 1086.2 759.3 
" style="fill: none; stroke: #000000; stroke-width: 3.4; stroke-linejoin: miter; stroke-linecap: square"/>
</g>
<g id="patch_15">
<path d="M 138.6 1210 
L 1086.2 1210 
" style="fill: none; stroke: #000000; stroke-width: 3.4; stroke-linejoin: miter; stroke-linecap: square"/>
</g>
<g id="patch_16">
<path d="M 138.6 759.3 
L 1086.2 759.3 
" style="fill: none; stroke: #000000; stroke-width: 3.4; stroke-linejoin: miter; stroke-linecap: square"/>
</g>
<g id="line2d_292">
<g clip-path="url(#p7fe3c25381)">
<use href="#m6a62156ccc" x="450.6" y="957.3" style="fill-opacity: 0; stroke: #ffa500; stroke-width: 2.6; stroke-linejoin: miter"/>
</g>
</g>
<g id="line2d_293">
<g clip-path="url(#p7fe3c25381)">
<use href="#m6a62156ccc" x="566.2" y="942.5" style="fill-opacity: 0; stroke: #ffa500; stroke-width: 2.6; stroke-linejoin: miter"/>
</g>
</g>
<g id="line2d_294">
<g clip-path="url(#p7fe3c25381)">
<use href="#m6a62156ccc" x="703.2" y="951.7" style="fill-opacity: 0; stroke: #ffa500; stroke-width: 2.6; stroke-linejoin: miter"/>
</g>
</g>
<g id="line2d_295">
<g clip-path="url(#p7fe3c25381)">
<use href="#m6a62156ccc" x="784.2" y="956.2" style="fill-opacity: 0; stroke: #ffa500; stroke-width: 2.6; stroke-linejoin: miter"/>
</g>
</g>
<g id="line2d_296">
<g clip-path="url(#p7fe3c25381)">
<use href="#m6a62156ccc" x="807.3" y="957.2" style="fill-opacity: 0; stroke: #ffa500; stroke-width: 2.6; stroke-linejoin: miter"/>
</g>
</g>
<g id="line2d_297">
<g clip-path="url(#p7fe3c25381)">
<use href="#m6a62156ccc" x="864.8" y="958.7" style="fill-opacity: 0; stroke: #ffa500; stroke-width: 2.6; stroke-linejoin: miter"/>
</g>
</g>
<g id="line2d_298">
<g clip-path="url(#p7fe3c25381)">
<use href="#m6a62156ccc" x="895" y="949.8" style="fill-opacity: 0; stroke: #ffa500; stroke-width: 2.6; stroke-linejoin: miter"/>
</g>
</g>
<g id="line2d_299">
<path d="M 416.3 951.5 
L 482.7 951.5 
" clip-path="url(#p7fe3c25381)" style="fill: none; stroke: #000000; stroke-width: 2.3"/>
</g>
<g id="line2d_300">
<path d="M 450.6 948 
L 450.6 955 
" clip-path="url(#p7fe3c25381)" style="fill: none; stroke: #000000; stroke-width: 2.3"/>
</g>
<g id="line2d_301">
<path d="M 438.6 948 
L 462.6 948 
" clip-path="url(#p7fe3c25381)" style="fill: none; stroke: #000000; stroke-width: 2.3"/>
</g>
<g id="line2d_302">
<path d="M 438.6 955 
L 462.6 955 
" clip-path="url(#p7fe3c25381)" style="fill: none; stroke: #000000; stroke-width: 2.3"/>
</g>
<g id="line2d_303">
<path d="M 530.3 948 
L 599.6 948 
" clip-path="url(#p7fe3c25381)" style="fill: none; stroke: #000000; stroke-width: 2.3"/>
</g>
<g id="line2d_304">
<path d="M 566.2 945 
L 566.2 951 
" clip-path="url(#p7fe3c25381)" style="fill: none; stroke: #000000; stroke-width: 2.3"/>
</g>
<g id="line2d_305">
<path d="M 554.2 945 
L 578.2 945 
" clip-path="url(#p7fe3c25381)" style="fill: none; stroke: #000000; stroke-width: 2.3"/>
</g>
<g id="line2d_306">
<path d="M 554.2 951 
L 578.2 951 
" clip-path="url(#p7fe3c25381)" style="fill: none; stroke: #000000; stroke-width: 2.3"/>
</g>
<g id="line2d_307">
<path d="M 665.3 949.2 
L 738.3 949.2 
" clip-path="url(#p7fe3c25381)" style="fill: none; stroke: #000000; stroke-width: 2.3"/>
</g>
<g id="line2d_308">
<path d="M 703 946 
L 703 952.5 
" clip-path="url(#p7fe3c25381)" style="fill: none; stroke: #000000; stroke-width: 2.3"/>
</g>
<g id="line2d_309">
<path d="M 691 946 
L 715 946 
" clip-path="url(#p7fe3c25381)" style="fill: none; stroke: #000000; stroke-width: 2.3"/>
</g>
<g id="line2d_310">
<path d="M 691 952.5 
L 715 952.5 
" clip-path="url(#p7fe3c25381)" style="fill: none; stroke: #000000; stroke-width: 2.3"/>
</g>
<g id="line2d_311">
<path d="M 768.2 941.8 
L 800.6 941.8 
" clip-path="url(#p7fe3c25381)" style="fill: none; stroke: #000000; stroke-width: 2.3"/>
</g>
<g id="line2d_312">
<path d="M 784.6 931.1 
L 784.6 952.4 
" clip-path="url(#p7fe3c25381)" style="fill: none; stroke: #000000; stroke-width: 2.3"/>
</g>
<g id="line2d_313">
<path d="M 772.6 931.1 
L 796.6 931.1 
" clip-path="url(#p7fe3c25381)" style="fill: none; stroke: #000000; stroke-width: 2.3"/>
</g>
<g id="line2d_314">
<path d="M 772.6 952.4 
L 796.6 952.4 
" clip-path="url(#p7fe3c25381)" style="fill: none; stroke: #000000; stroke-width: 2.3"/>
</g>
<g id="line2d_315">
<path d="M 771.3 959.2 
L 840.6 959.2 
" clip-path="url(#p7fe3c25381)" style="fill: none; stroke: #000000; stroke-width: 2.3"/>
</g>
<g id="line2d_316">
<path d="M 807.2 952.1 
L 807.2 967 
" clip-path="url(#p7fe3c25381)" style="fill: none; stroke: #000000; stroke-width: 2.3"/>
</g>
<g id="line2d_317">
<path d="M 795.2 952.1 
L 819.2 952.1 
" clip-path="url(#p7fe3c25381)" style="fill: none; stroke: #000000; stroke-width: 2.3"/>
</g>
<g id="line2d_318">
<path d="M 795.2 967 
L 819.2 967 
" clip-path="url(#p7fe3c25381)" style="fill: none; stroke: #000000; stroke-width: 2.3"/>
</g>
<g id="line2d_319">
<path d="M 848.6 976.4 
L 881.1 976.4 
" clip-path="url(#p7fe3c25381)" style="fill: none; stroke: #000000; stroke-width: 2.3"/>
</g>
<g id="line2d_320">
<path d="M 864.9 960.1 
L 864.9 998.6 
" clip-path="url(#p7fe3c25381)" style="fill: none; stroke: #000000; stroke-width: 2.3"/>
</g>
<g id="line2d_321">
<path d="M 852.9 960.1 
L 876.9 960.1 
" clip-path="url(#p7fe3c25381)" style="fill: none; stroke: #000000; stroke-width: 2.3"/>
</g>
<g id="line2d_322">
<path d="M 852.9 998.6 
L 876.9 998.6 
" clip-path="url(#p7fe3c25381)" style="fill: none; stroke: #000000; stroke-width: 2.3"/>
</g>
<g id="line2d_323">
<path d="M 856.6 944.5 
L 929.7 944.5 
" clip-path="url(#p7fe3c25381)" style="fill: none; stroke: #000000; stroke-width: 2.3"/>
</g>
<g id="line2d_324">
<path d="M 894.7 934.3 
L 894.7 956 
" clip-path="url(#p7fe3c25381)" style="fill: none; stroke: #000000; stroke-width: 2.3"/>
</g>
<g id="line2d_325">
<path d="M 882.7 934.3 
L 906.7 934.3 
" clip-path="url(#p7fe3c25381)" style="fill: none; stroke: #000000; stroke-width: 2.3"/>
</g>
<g id="line2d_326">
<path d="M 882.7 956 
L 906.7 956 
" clip-path="url(#p7fe3c25381)" style="fill: none; stroke: #000000; stroke-width: 2.3"/>
</g>
<g id="line2d_327">
<path d="M 205.3 1037.3 
L 273.7 1037.3 
" clip-path="url(#p7fe3c25381)" style="fill: none; stroke: #000000; stroke-width: 2.3"/>
</g>
<g id="line2d_328">
<path d="M 241.1 1037.3 
L 241.1 1060.3 
" clip-path="url(#p7fe3c25381)" style="fill: none; stroke: #000000; stroke-width: 2.3"/>
</g>
<g id="line2d_329">
<path d="M 235.7 1049.7 
L 241.1 1060.3 
L 246.5 1049.7 
" clip-path="url(#p7fe3c25381)" style="fill: none; stroke: #000000; stroke-width: 2.3"/>
</g>
<g id="line2d_330">
<path d="M 306.3 1044.4 
L 375.6 1044.4 
" clip-path="url(#p7fe3c25381)" style="fill: none; stroke: #000000; stroke-width: 2.3"/>
</g>
<g id="line2d_331">
<path d="M 342.4 1044.4 
L 342.4 1067.3 
" clip-path="url(#p7fe3c25381)" style="fill: none; stroke: #000000; stroke-width: 2.3"/>
</g>
<g id="line2d_332">
<path d="M 337 1056.7 
L 342.4 1067.3 
L 347.8 1056.7 
" clip-path="url(#p7fe3c25381)" style="fill: none; stroke: #000000; stroke-width: 2.3"/>
</g>
<g id="line2d_333">
<g clip-path="url(#p7fe3c25381)">
<use href="#mfd84c55ed5" x="450.6" y="951.5" style="fill: #1e90ff; stroke: #000000; stroke-width: 2.2"/>
</g>
</g>
<g id="line2d_334">
<g clip-path="url(#p7fe3c25381)">
<use href="#mfd84c55ed5" x="566.2" y="948" style="fill: #1e90ff; stroke: #000000; stroke-width: 2.2"/>
</g>
</g>
<g id="line2d_335">
<g clip-path="url(#p7fe3c25381)">
<use href="#mfd84c55ed5" x="703" y="949.2" style="fill: #1e90ff; stroke: #000000; stroke-width: 2.2"/>
</g>
</g>
<g id="line2d_336">
<g clip-path="url(#p7fe3c25381)">
<use href="#mfd84c55ed5" x="784.6" y="941.8" style="fill: #1e90ff; stroke: #000000; stroke-width: 2.2"/>
</g>
</g>
<g id="line2d_337">
<g clip-path="url(#p7fe3c25381)">
<use href="#mfd84c55ed5" x="807.2" y="959.2" style="fill: #1e90ff; stroke: #000000; stroke-width: 2.2"/>
</g>
</g>
<g id="line2d_338">
<g clip-path="url(#p7fe3c25381)">
<use href="#mfd84c55ed5" x="864.9" y="976.4" style="fill: #1e90ff; stroke: #000000; stroke-width: 2.2"/>
</g>
</g>
<g id="line2d_339">
<g clip-path="url(#p7fe3c25381)">
<use href="#mfd84c55ed5" x="894.7" y="944.5" style="fill: #1e90ff; stroke: #000000; stroke-width: 2.2"/>
</g>
</g>
</g>
<g id="axes_4">
<g id="patch_17">
<path d="M 138.6 1364.6 
L 1086.2 1364.6 
L 1086.2 1222.9 
L 138.6 1222.9 
z
" style="fill: #ffffff"/>
</g>
<g id="line2d_340">
<path d="M 138.6 1293.75 
L 1086.2 1293.75 
" clip-path="url(#p652aebaf93)" style="fill: none; stroke-dasharray: 4.9,8.08; stroke-dashoffset: 0; stroke: #000000; stroke-width: 4.9"/>
</g>
<g id="matplotlib.axis_7">
<g id="xtick_31">
<g id="line2d_341">
<g>
<use href="#meb02f2e093" x="193.55" y="1364.6" style="stroke: #000000; stroke-width: 2.3"/>
</g>
</g>
<g id="line2d_342">
<g>
<use href="#m33e6c5e1b2" x="193.55" y="1222.9" style="stroke: #000000; stroke-width: 2.3"/>
</g>
</g>
<g id="text_23">
<text style="font-size: 24.4px; font-family: 'DejaVu Sans', sans-serif; text-anchor: middle" x="193.55" y="1391.44" transform="rotate(-0 193.55 1391.44)">0.8</text>
</g>
</g>
<g id="xtick_32">
<g id="line2d_343">
<g>
<use href="#meb02f2e093" x="285.38" y="1364.6" style="stroke: #000000; stroke-width: 2.3"/>
</g>
</g>
<g id="line2d_344">
<g>
<use href="#m33e6c5e1b2" x="285.38" y="1222.9" style="stroke: #000000; stroke-width: 2.3"/>
</g>
</g>
<g id="text_24">
<text style="font-size: 24.4px; font-family: 'DejaVu Sans', sans-serif; text-anchor: middle" x="285.38" y="1391.44" transform="rotate(-0 285.38 1391.44)">1.0</text>
</g>
</g>
<g id="xtick_33">
<g id="line2d_345">
<g>
<use href="#meb02f2e093" x="570.64" y="1364.6" style="stroke: #000000; stroke-width: 2.3"/>
</g>
</g>
<g id="line2d_346">
<g>
<use href="#m33e6c5e1b2" x="570.64" y="1222.9" style="stroke: #000000; stroke-width: 2.3"/>
</g>
</g>
<g id="text_25">
<text style="font-size: 24.4px; font-family: 'DejaVu Sans', sans-serif; text-anchor: middle" x="570.64" y="1391.44" transform="rotate(-0 570.64 1391.44)">2.0</text>
</g>
</g>
<g id="xtick_34">
<g id="line2d_347">
<g>
<use href="#meb02f2e093" x="737.50" y="1364.6" style="stroke: #000000; stroke-width: 2.3"/>
</g>
</g>
<g id="line2d_348">
<g>
<use href="#m33e6c5e1b2" x="737.50" y="1222.9" style="stroke: #000000; stroke-width: 2.3"/>
</g>
</g>
<g id="text_26">
<text style="font-size: 24.4px; font-family: 'DejaVu Sans', sans-serif; text-anchor: middle" x="737.50" y="1391.44" transform="rotate(-0 737.50 1391.44)">3.0</text>
</g>
</g>
<g id="xtick_35">
<g id="line2d_349">
<g>
<use href="#meb02f2e093" x="855.89" y="1364.6" style="stroke: #000000; stroke-width: 2.3"/>
</g>
</g>
<g id="line2d_350">
<g>
<use href="#m33e6c5e1b2" x="855.89" y="1222.9" style="stroke: #000000; stroke-width: 2.3"/>
</g>
</g>
<g id="text_27">
<text style="font-size: 24.4px; font-family: 'DejaVu Sans', sans-serif; text-anchor: middle" x="855.89" y="1391.44" transform="rotate(-0 855.89 1391.44)">4.0</text>
</g>
</g>
<g id="xtick_36">
<g id="line2d_351">
<g>
<use href="#meb02f2e093" x="947.72" y="1364.6" style="stroke: #000000; stroke-width: 2.3"/>
</g>
</g>
<g id="line2d_352">
<g>
<use href="#m33e6c5e1b2" x="947.72" y="1222.9" style="stroke: #000000; stroke-width: 2.3"/>
</g>
</g>
<g id="text_28">
<text style="font-size: 24.4px; font-family: 'DejaVu Sans', sans-serif; text-anchor: middle" x="947.72" y="1391.44" transform="rotate(-0 947.72 1391.44)">5.0</text>
</g>
</g>
<g id="xtick_37">
<g id="line2d_353">
<g>
<use href="#meb02f2e093" x="1022.76" y="1364.6" style="stroke: #000000; stroke-width: 2.3"/>
</g>
</g>
<g id="line2d_354">
<g>
<use href="#m33e6c5e1b2" x="1022.76" y="1222.9" style="stroke: #000000; stroke-width: 2.3"/>
</g>
</g>
<g id="text_29">
<text style="font-size: 24.4px; font-family: 'DejaVu Sans', sans-serif; text-anchor: middle" x="1022.76" y="1391.44" transform="rotate(-0 1022.76 1391.44)">6.0</text>
</g>
</g>
<g id="xtick_38">
<g id="line2d_355">
<g>
<use href="#m80899642cb" x="138.6" y="1364.6" style="stroke: #000000; stroke-width: 1.5"/>
</g>
</g>
<g id="line2d_356">
<g>
<use href="#m92ab575aa1" x="138.6" y="1222.9" style="stroke: #000000; stroke-width: 1.5"/>
</g>
</g>
</g>
<g id="xtick_39">
<g id="line2d_357">
<g>
<use href="#m80899642cb" x="242.02" y="1364.6" style="stroke: #000000; stroke-width: 1.5"/>
</g>
</g>
<g id="line2d_358">
<g>
<use href="#m92ab575aa1" x="242.02" y="1222.9" style="stroke: #000000; stroke-width: 1.5"/>
</g>
</g>
</g>
<g id="xtick_40">
<g id="line2d_359">
<g>
<use href="#m80899642cb" x="1086.2" y="1364.6" style="stroke: #000000; stroke-width: 1.5"/>
</g>
</g>
<g id="line2d_360">
<g>
<use href="#m92ab575aa1" x="1086.2" y="1222.9" style="stroke: #000000; stroke-width: 1.5"/>
</g>
</g>
</g>
<g id="text_30">
<g transform="translate(336.67 1436.35)">
<text>
<tspan x="0" y="-0.37" style="font-size: 39px; font-family: 'DejaVu Sans', sans-serif">O</tspan>
<tspan x="30.69" y="-0.37" style="font-size: 39px; font-family: 'DejaVu Sans', sans-serif">b</tspan>
<tspan x="55.45" y="-0.37" style="font-size: 39px; font-family: 'DejaVu Sans', sans-serif">s</tspan>
<tspan x="75.77" y="-0.37" style="font-size: 39px; font-family: 'DejaVu Sans', sans-serif">e</tspan>
<tspan x="99.76" y="-0.37" style="font-size: 39px; font-family: 'DejaVu Sans', sans-serif">r</tspan>
<tspan x="115.80" y="-0.37" style="font-size: 39px; font-family: 'DejaVu Sans', sans-serif">v</tspan>
<tspan x="138.88" y="-0.37" style="font-size: 39px; font-family: 'DejaVu Sans', sans-serif">e</tspan>
<tspan x="162.87" y="-0.37" style="font-size: 39px; font-family: 'DejaVu Sans', sans-serif">d</tspan>
<tspan x="205.86" y="-0.37" style="font-size: 39px; font-family: 'DejaVu Sans', sans-serif">W</tspan>
<tspan x="244.42" y="-0.37" style="font-size: 39px; font-family: 'DejaVu Sans', sans-serif">a</tspan>
<tspan x="268.32" y="-0.37" style="font-size: 39px; font-family: 'DejaVu Sans', sans-serif">v</tspan>
<tspan x="291.40" y="-0.37" style="font-size: 39px; font-family: 'DejaVu Sans', sans-serif">e</tspan>
<tspan x="315.40" y="-0.37" style="font-size: 39px; font-family: 'DejaVu Sans', sans-serif">l</tspan>
<tspan x="326.23" y="-0.37" style="font-size: 39px; font-family: 'DejaVu Sans', sans-serif">e</tspan>
<tspan x="350.23" y="-0.37" style="font-size: 39px; font-family: 'DejaVu Sans', sans-serif">n</tspan>
<tspan x="374.94" y="-0.37" style="font-size: 39px; font-family: 'DejaVu Sans', sans-serif">g</tspan>
<tspan x="399.70" y="-0.37" style="font-size: 39px; font-family: 'DejaVu Sans', sans-serif">t</tspan>
<tspan x="414.99" y="-0.37" style="font-size: 39px; font-family: 'DejaVu Sans', sans-serif">h</tspan>
<tspan x="457.94" y="-0.37" style="font-size: 39px; font-family: 'DejaVu Sans', sans-serif">[</tspan>
<tspan x="497.97" y="-0.37" style="font-size: 39px; font-family: 'DejaVu Sans', sans-serif">m</tspan>
<tspan x="535.96" y="-0.37" style="font-size: 39px; font-family: 'DejaVu Sans', sans-serif">]</tspan>
<tspan x="473.16" y="-0.37" style="font-style: oblique; font-size: 39px; font-family: 'DejaVu Sans', sans-serif">μ</tspan>
</text>
</g>
</g>
</g>
<g id="matplotlib.axis_8">
<g id="ytick_68">
<g id="line2d_361">
<g>
<use href="#mcbb3e0e545" x="138.6" y="1340.98" style="stroke: #000000; stroke-width: 2.3"/>
</g>
</g>
<g id="line2d_362">
<g>
<use href="#md19e65606a" x="1086.2" y="1340.98" style="stroke: #000000; stroke-width: 2.3"/>
</g>
</g>
<g id="text_31">
<text style="font-size: 24.4px; font-family: 'DejaVu Sans', sans-serif; text-anchor: end" x="130.3" y="1350.25" transform="rotate(-0 130.3 1350.25)">−4</text>
</g>
</g>
<g id="ytick_69">
<g id="line2d_363">
<g>
<use href="#mcbb3e0e545" x="138.6" y="1293.75" style="stroke: #000000; stroke-width: 2.3"/>
</g>
</g>
<g id="line2d_364">
<g>
<use href="#md19e65606a" x="1086.2" y="1293.75" style="stroke: #000000; stroke-width: 2.3"/>
</g>
</g>
<g id="text_32">
<text style="font-size: 24.4px; font-family: 'DejaVu Sans', sans-serif; text-anchor: end" x="130.3" y="1303.02" transform="rotate(-0 130.3 1303.02)">0</text>
</g>
</g>
<g id="ytick_70">
<g id="line2d_365">
<g>
<use href="#mcbb3e0e545" x="138.6" y="1246.51" style="stroke: #000000; stroke-width: 2.3"/>
</g>
</g>
<g id="line2d_366">
<g>
<use href="#md19e65606a" x="1086.2" y="1246.51" style="stroke: #000000; stroke-width: 2.3"/>
</g>
</g>
<g id="text_33">
<text style="font-size: 24.4px; font-family: 'DejaVu Sans', sans-serif; text-anchor: end" x="130.3" y="1255.78" transform="rotate(-0 130.3 1255.78)">4</text>
</g>
</g>
<g id="text_34">
<g transform="translate(74.50 1305.45) rotate(-90)">
<text>
<tspan x="0" y="-0.65" style="font-style: oblique; font-size: 39px; font-family: 'DejaVu Sans', sans-serif">χ</tspan>
</text>
</g>
</g>
</g>
<g id="patch_18">
<path d="M 138.6 1364.6 
L 138.6 1222.9 
" style="fill: none; stroke: #000000; stroke-width: 3.4; stroke-linejoin: miter; stroke-linecap: square"/>
</g>
<g id="patch_19">
<path d="M 1086.2 1364.6 
L 1086.2 1222.9 
" style="fill: none; stroke: #000000; stroke-width: 3.4; stroke-linejoin: miter; stroke-linecap: square"/>
</g>
<g id="patch_20">
<path d="M 138.6 1364.6 
L 1086.2 1364.6 
" style="fill: none; stroke: #000000; stroke-width: 3.4; stroke-linejoin: miter; stroke-linecap: square"/>
</g>
<g id="patch_21">
<path d="M 138.6 1222.9 
L 1086.2 1222.9 
" style="fill: none; stroke: #000000; stroke-width: 3.4; stroke-linejoin: miter; stroke-linecap: square"/>
</g>
<g id="line2d_367">
<path d="M 416.2 1277.3 
L 482.5 1277.3 
" clip-path="url(#p652aebaf93)" style="fill: none; stroke: #ff0000; stroke-width: 2.4"/>
</g>
<g id="line2d_368">
<path d="M 450.6 1272 
L 450.6 1282 
" clip-path="url(#p652aebaf93)" style="fill: none; stroke: #ff0000; stroke-width: 2.4"/>
</g>
<g id="line2d_369">
<path d="M 529.8 1307.6 
L 599.7 1307.6 
" clip-path="url(#p652aebaf93)" style="fill: none; stroke: #ff0000; stroke-width: 2.4"/>
</g>
<g id="line2d_370">
<path d="M 665.4 1289.5 
L 738.3 1289.5 
" clip-path="url(#p652aebaf93)" style="fill: none; stroke: #ff0000; stroke-width: 2.4"/>
</g>
<g id="line2d_371">
<path d="M 767.9 1280.5 
L 800.6 1280.5 
" clip-path="url(#p652aebaf93)" style="fill: none; stroke: #ff0000; stroke-width: 2.4"/>
</g>
<g id="line2d_372">
<path d="M 771 1296 
L 840.8 1296 
" clip-path="url(#p652aebaf93)" style="fill: none; stroke: #ff0000; stroke-width: 2.4"/>
</g>
<g id="line2d_373">
<path d="M 848.3 1306.2 
L 881 1306.2 
" clip-path="url(#p652aebaf93)" style="fill: none; stroke: #ff0000; stroke-width: 2.4"/>
</g>
<g id="line2d_374">
<path d="M 856.4 1287.6 
L 930 1287.6 
" clip-path="url(#p652aebaf93)" style="fill: none; stroke: #ff0000; stroke-width: 2.4"/>
</g>
<g id="line2d_375">
<path d="M 205.2 1269.4 
L 274.2 1269.4 
" clip-path="url(#p652aebaf93)" style="fill: none; stroke: #ff0000; stroke-width: 2.4"/>
</g>
<g id="line2d_376">
<path d="M 235.9 1270.2 
L 241.1 1280.2 
L 246.3 1270.2 
L 235.9 1270.2 
" clip-path="url(#p652aebaf93)" style="fill: none; stroke: #ff0000; stroke-width: 2; stroke-linecap: square"/>
</g>
<g id="line2d_377">
<path d="M 239.5 1270.4 
L 241.1 1274.4 
L 242.7 1270.4 
" clip-path="url(#p652aebaf93)" style="fill: none; stroke: #ff0000; stroke-width: 1.4; stroke-linecap: square"/>
</g>
<g id="line2d_378">
<path d="M 306 1269.8 
L 376 1269.8 
" clip-path="url(#p652aebaf93)" style="fill: none; stroke: #ff0000; stroke-width: 2.4"/>
</g>
<g id="line2d_379">
<path d="M 336.9 1270.6 
L 342.1 1280.6 
L 347.3 1270.6 
L 336.9 1270.6 
" clip-path="url(#p652aebaf93)" style="fill: none; stroke: #ff0000; stroke-width: 2; stroke-linecap: square"/>
</g>
<g id="line2d_380">
<path d="M 340.5 1270.8 
L 342.1 1274.8 
L 343.7 1270.8 
" clip-path="url(#p652aebaf93)" style="fill: none; stroke: #ff0000; stroke-width: 1.4; stroke-linecap: square"/>
</g>
<g id="line2d_381">
<g clip-path="url(#p652aebaf93)">
<use href="#mf6dac7a1a1" x="450.6" y="1277.3" style="fill: #ff0000; stroke: #ff0000; stroke-linejoin: miter"/>
</g>
</g>
<g id="line2d_382">
<g clip-path="url(#p652aebaf93)">
<use href="#mf6dac7a1a1" x="566.3" y="1307.6" style="fill: #ff0000; stroke: #ff0000; stroke-linejoin: miter"/>
</g>
</g>
<g id="line2d_383">
<g clip-path="url(#p652aebaf93)">
<use href="#mf6dac7a1a1" x="703.3" y="1289.5" style="fill: #ff0000; stroke: #ff0000; stroke-linejoin: miter"/>
</g>
</g>
<g id="line2d_384">
<g clip-path="url(#p652aebaf93)">
<use href="#mf6dac7a1a1" x="784.5" y="1280.5" style="fill: #ff0000; stroke: #ff0000; stroke-linejoin: miter"/>
</g>
</g>
<g id="line2d_385">
<g clip-path="url(#p652aebaf93)">
<use href="#mf6dac7a1a1" x="807.2" y="1296" style="fill: #ff0000; stroke: #ff0000; stroke-linejoin: miter"/>
</g>
</g>
<g id="line2d_386">
<g clip-path="url(#p652aebaf93)">
<use href="#mf6dac7a1a1" x="864.9" y="1306.2" style="fill: #ff0000; stroke: #ff0000; stroke-linejoin: miter"/>
</g>
</g>
<g id="line2d_387">
<g clip-path="url(#p652aebaf93)">
<use href="#mf6dac7a1a1" x="894.9" y="1287.6" style="fill: #ff0000; stroke: #ff0000; stroke-linejoin: miter"/>
</g>
</g>
</g>
<g id="axes_5">
<g id="patch_22">
<path d="M 1264.7 590.3 
L 2018.6 590.3 
L 2018.6 90.95 
L 1264.7 90.95 
z
" style="fill: #ffffff"/>
</g>
<g id="FillBetweenPolyCollection_3">
<defs>
<path id="m2f7da80eb5" d="M 1264.7 -1327.1 
L 1264.7 -1291.7 
L 1302.39 -1291.7 
L 1303.52 -1241.5 
L 1340.09 -1241.5 
L 1341.22 -1122.9 
L 1433.57 -1122.9 
L 1434.70 -939.8 
L 1641.65 -939.8 
L 1664.26 -764 
L 2018.6 -764 
L 2018.6 -1170.1 
L 2018.6 -1170.1 
L 1664.26 -1170.1 
L 1641.65 -1261 
L 1434.70 -1261 
L 1433.57 -1308.6 
L 1341.22 -1308.6 
L 1340.09 -1340.9 
L 1303.52 -1340.9 
L 1302.39 -1327.1 
L 1264.7 -1327.1 
z
"/>
</defs>
<g clip-path="url(#pe512c88715)">
<use href="#m2f7da80eb5" x="0" y="1464" style="fill: #d62728; fill-opacity: 0.2"/>
</g>
</g>
<g id="matplotlib.axis_9">
<g id="xtick_41">
<g id="line2d_388">
<defs>
<path id="m97d7e726cd" d="M 0 0 
L 0 -8.8 
" style="stroke: #000000; stroke-width: 2.1"/>
</defs>
<g>
<use href="#m97d7e726cd" x="1264.7" y="590.3" style="stroke: #000000; stroke-width: 2.1"/>
</g>
</g>
<g id="text_35">
<text style="font-size: 31.9px; font-family: 'DejaVu Sans', sans-serif; text-anchor: middle" x="1264.7" y="622.13" transform="rotate(-0 1264.7 622.13)">0</text>
</g>
</g>
<g id="xtick_42">
<g id="line2d_389">
<g>
<use href="#m97d7e726cd" x="1415.48" y="590.3" style="stroke: #000000; stroke-width: 2.1"/>
</g>
</g>
<g id="text_36">
<text style="font-size: 31.9px; font-family: 'DejaVu Sans', sans-serif; text-anchor: middle" x="1415.48" y="622.13" transform="rotate(-0 1415.48 622.13)">20</text>
</g>
</g>
<g id="xtick_43">
<g id="line2d_390">
<g>
<use href="#m97d7e726cd" x="1566.26" y="590.3" style="stroke: #000000; stroke-width: 2.1"/>
</g>
</g>
<g id="text_37">
<text style="font-size: 31.9px; font-family: 'DejaVu Sans', sans-serif; text-anchor: middle" x="1566.26" y="622.13" transform="rotate(-0 1566.26 622.13)">40</text>
</g>
</g>
<g id="xtick_44">
<g id="line2d_391">
<g>
<use href="#m97d7e726cd" x="1717.04" y="590.3" style="stroke: #000000; stroke-width: 2.1"/>
</g>
</g>
<g id="text_38">
<text style="font-size: 31.9px; font-family: 'DejaVu Sans', sans-serif; text-anchor: middle" x="1717.04" y="622.13" transform="rotate(-0 1717.04 622.13)">60</text>
</g>
</g>
<g id="xtick_45">
<g id="line2d_392">
<g>
<use href="#m97d7e726cd" x="1867.82" y="590.3" style="stroke: #000000; stroke-width: 2.1"/>
</g>
</g>
<g id="text_39">
<text style="font-size: 31.9px; font-family: 'DejaVu Sans', sans-serif; text-anchor: middle" x="1867.82" y="622.13" transform="rotate(-0 1867.82 622.13)">80</text>
</g>
</g>
<g id="xtick_46">
<g id="line2d_393">
<g>
<use href="#m97d7e726cd" x="2018.6" y="590.3" style="stroke: #000000; stroke-width: 2.1"/>
</g>
</g>
<g id="text_40">
<text style="font-size: 31.9px; font-family: 'DejaVu Sans', sans-serif; text-anchor: middle" x="2018.6" y="622.13" transform="rotate(-0 2018.6 622.13)">100</text>
</g>
</g>
<g id="text_41">
<g transform="translate(1455.73 665.00)">
<text>
<tspan x="0" y="-0.64" style="font-size: 36.1px; font-family: 'DejaVu Sans', sans-serif">l</tspan>
<tspan x="10.03" y="-0.64" style="font-size: 36.1px; font-family: 'DejaVu Sans', sans-serif">o</tspan>
<tspan x="32.13" y="-0.64" style="font-size: 36.1px; font-family: 'DejaVu Sans', sans-serif">o</tspan>
<tspan x="54.24" y="-0.64" style="font-size: 36.1px; font-family: 'DejaVu Sans', sans-serif">k</tspan>
<tspan x="75.16" y="-0.64" style="font-size: 36.1px; font-family: 'DejaVu Sans', sans-serif">b</tspan>
<tspan x="98.09" y="-0.64" style="font-size: 36.1px; font-family: 'DejaVu Sans', sans-serif">a</tspan>
<tspan x="120.22" y="-0.64" style="font-size: 36.1px; font-family: 'DejaVu Sans', sans-serif">c</tspan>
<tspan x="140.09" y="-0.64" style="font-size: 36.1px; font-family: 'DejaVu Sans', sans-serif">k</tspan>
<tspan x="177.90" y="-0.64" style="font-size: 36.1px; font-family: 'DejaVu Sans', sans-serif">t</tspan>
<tspan x="192.06" y="-0.64" style="font-size: 36.1px; font-family: 'DejaVu Sans', sans-serif">i</tspan>
<tspan x="202.10" y="-0.64" style="font-size: 36.1px; font-family: 'DejaVu Sans', sans-serif">m</tspan>
<tspan x="237.29" y="-0.64" style="font-size: 36.1px; font-family: 'DejaVu Sans', sans-serif">e</tspan>
<tspan x="276.40" y="-0.64" style="font-size: 36.1px; font-family: 'DejaVu Sans', sans-serif">[</tspan>
<tspan x="290.50" y="-0.64" style="font-size: 36.1px; font-family: 'DejaVu Sans', sans-serif">M</tspan>
<tspan x="321.67" y="-0.64" style="font-size: 36.1px; font-family: 'DejaVu Sans', sans-serif">y</tspan>
<tspan x="343.04" y="-0.64" style="font-size: 36.1px; font-family: 'DejaVu Sans', sans-serif">r</tspan>
<tspan x="357.90" y="-0.64" style="font-size: 36.1px; font-family: 'DejaVu Sans', sans-serif">]</tspan>
</text>
</g>
</g>
</g>
<g id="matplotlib.axis_10">
<g id="ytick_71">
<g id="line2d_394">
<defs>
<path id="mbb0bbb3a28" d="M 0 0 
L 8.8 0 
" style="stroke: #000000; stroke-width: 2.1"/>
</defs>
<g>
<use href="#mbb0bbb3a28" x="1264.7" y="590.3" style="stroke: #000000; stroke-width: 2.1"/>
</g>
</g>
<g id="line2d_395">
<defs>
<path id="mee27717b81" d="M 0 0 
L -8.8 0 
" style="stroke: #000000; stroke-width: 2.1"/>
</defs>
<g>
<use href="#mee27717b81" x="2018.6" y="590.3" style="stroke: #000000; stroke-width: 2.1"/>
</g>
</g>
<g id="text_42">
<g transform="translate(1182.13 602.41)">
<text>
<tspan x="0" y="-0.12" style="font-size: 31.9px; font-family: 'DejaVu Sans', sans-serif">1</tspan>
<tspan x="20.27" y="-0.12" style="font-size: 31.9px; font-family: 'DejaVu Sans', sans-serif">0</tspan>
<tspan x="40.86" y="-12.37" style="font-size: 22.33px; font-family: 'DejaVu Sans', sans-serif">−</tspan>
<tspan x="59.56" y="-12.37" style="font-size: 22.33px; font-family: 'DejaVu Sans', sans-serif">3</tspan>
</text>
</g>
</g>
</g>
<g id="ytick_72">
<g id="line2d_396">
<g>
<use href="#mbb0bbb3a28" x="1264.7" y="483.46" style="stroke: #000000; stroke-width: 2.1"/>
</g>
</g>
<g id="line2d_397">
<g>
<use href="#mee27717b81" x="2018.6" y="483.46" style="stroke: #000000; stroke-width: 2.1"/>
</g>
</g>
<g id="text_43">
<g transform="translate(1182.13 495.57)">
<text>
<tspan x="0" y="-0.12" style="font-size: 31.9px; font-family: 'DejaVu Sans', sans-serif">1</tspan>
<tspan x="20.27" y="-0.12" style="font-size: 31.9px; font-family: 'DejaVu Sans', sans-serif">0</tspan>
<tspan x="40.86" y="-12.37" style="font-size: 22.33px; font-family: 'DejaVu Sans', sans-serif">−</tspan>
<tspan x="59.56" y="-12.37" style="font-size: 22.33px; font-family: 'DejaVu Sans', sans-serif">2</tspan>
</text>
</g>
</g>
</g>
<g id="ytick_73">
<g id="line2d_398">
<g>
<use href="#mbb0bbb3a28" x="1264.7" y="376.62" style="stroke: #000000; stroke-width: 2.1"/>
</g>
</g>
<g id="line2d_399">
<g>
<use href="#mee27717b81" x="2018.6" y="376.62" style="stroke: #000000; stroke-width: 2.1"/>
</g>
</g>
<g id="text_44">
<g transform="translate(1182.13 388.73)">
<text>
<tspan x="0" y="-0.42" style="font-size: 31.9px; font-family: 'DejaVu Sans', sans-serif">1</tspan>
<tspan x="20.27" y="-0.42" style="font-size: 31.9px; font-family: 'DejaVu Sans', sans-serif">0</tspan>
<tspan x="40.86" y="-12.67" style="font-size: 22.33px; font-family: 'DejaVu Sans', sans-serif">−</tspan>
<tspan x="59.56" y="-12.67" style="font-size: 22.33px; font-family: 'DejaVu Sans', sans-serif">1</tspan>
</text>
</g>
</g>
</g>
<g id="ytick_74">
<g id="line2d_400">
<g>
<use href="#mbb0bbb3a28" x="1264.7" y="269.78" style="stroke: #000000; stroke-width: 2.1"/>
</g>
</g>
<g id="line2d_401">
<g>
<use href="#mee27717b81" x="2018.6" y="269.78" style="stroke: #000000; stroke-width: 2.1"/>
</g>
</g>
<g id="text_45">
<g transform="translate(1200.95 281.89)">
<text>
<tspan x="0" y="-0.12" style="font-size: 31.9px; font-family: 'DejaVu Sans', sans-serif">1</tspan>
<tspan x="20.27" y="-0.12" style="font-size: 31.9px; font-family: 'DejaVu Sans', sans-serif">0</tspan>
<tspan x="40.86" y="-12.37" style="font-size: 22.33px; font-family: 'DejaVu Sans', sans-serif">0</tspan>
</text>
</g>
</g>
</g>
<g id="ytick_75">
<g id="line2d_402">
<g>
<use href="#mbb0bbb3a28" x="1264.7" y="162.94" style="stroke: #000000; stroke-width: 2.1"/>
</g>
</g>
<g id="line2d_403">
<g>
<use href="#mee27717b81" x="2018.6" y="162.94" style="stroke: #000000; stroke-width: 2.1"/>
</g>
</g>
<g id="text_46">
<g transform="translate(1200.95 175.05)">
<text>
<tspan x="0" y="-0.42" style="font-size: 31.9px; font-family: 'DejaVu Sans', sans-serif">1</tspan>
<tspan x="20.27" y="-0.42" style="font-size: 31.9px; font-family: 'DejaVu Sans', sans-serif">0</tspan>
<tspan x="40.86" y="-12.67" style="font-size: 22.33px; font-family: 'DejaVu Sans', sans-serif">1</tspan>
</text>
</g>
</g>
</g>
<g id="ytick_76">
<g id="line2d_404">
<defs>
<path id="mb7b414155f" d="M 0 0 
L 5.5 0 
" style="stroke: #000000; stroke-width: 1.4"/>
</defs>
<g>
<use href="#mb7b414155f" x="1264.7" y="558.13" style="stroke: #000000; stroke-width: 1.4"/>
</g>
</g>
<g id="line2d_405">
<defs>
<path id="mf17cf57086" d="M 0 0 
L -5.5 0 
" style="stroke: #000000; stroke-width: 1.4"/>
</defs>
<g>
<use href="#mf17cf57086" x="2018.6" y="558.13" style="stroke: #000000; stroke-width: 1.4"/>
</g>
</g>
</g>
<g id="ytick_77">
<g id="line2d_406">
<g>
<use href="#mb7b414155f" x="1264.7" y="539.32" style="stroke: #000000; stroke-width: 1.4"/>
</g>
</g>
<g id="line2d_407">
<g>
<use href="#mf17cf57086" x="2018.6" y="539.32" style="stroke: #000000; stroke-width: 1.4"/>
</g>
</g>
</g>
<g id="ytick_78">
<g id="line2d_408">
<g>
<use href="#mb7b414155f" x="1264.7" y="525.97" style="stroke: #000000; stroke-width: 1.4"/>
</g>
</g>
<g id="line2d_409">
<g>
<use href="#mf17cf57086" x="2018.6" y="525.97" style="stroke: #000000; stroke-width: 1.4"/>
</g>
</g>
</g>
<g id="ytick_79">
<g id="line2d_410">
<g>
<use href="#mb7b414155f" x="1264.7" y="515.62" style="stroke: #000000; stroke-width: 1.4"/>
</g>
</g>
<g id="line2d_411">
<g>
<use href="#mf17cf57086" x="2018.6" y="515.62" style="stroke: #000000; stroke-width: 1.4"/>
</g>
</g>
</g>
<g id="ytick_80">
<g id="line2d_412">
<g>
<use href="#mb7b414155f" x="1264.7" y="507.16" style="stroke: #000000; stroke-width: 1.4"/>
</g>
</g>
<g id="line2d_413">
<g>
<use href="#mf17cf57086" x="2018.6" y="507.16" style="stroke: #000000; stroke-width: 1.4"/>
</g>
</g>
</g>
<g id="ytick_81">
<g id="line2d_414">
<g>
<use href="#mb7b414155f" x="1264.7" y="500.00" style="stroke: #000000; stroke-width: 1.4"/>
</g>
</g>
<g id="line2d_415">
<g>
<use href="#mf17cf57086" x="2018.6" y="500.00" style="stroke: #000000; stroke-width: 1.4"/>
</g>
</g>
</g>
<g id="ytick_82">
<g id="line2d_416">
<g>
<use href="#mb7b414155f" x="1264.7" y="493.81" style="stroke: #000000; stroke-width: 1.4"/>
</g>
</g>
<g id="line2d_417">
<g>
<use href="#mf17cf57086" x="2018.6" y="493.81" style="stroke: #000000; stroke-width: 1.4"/>
</g>
</g>
</g>
<g id="ytick_83">
<g id="line2d_418">
<g>
<use href="#mb7b414155f" x="1264.7" y="488.34" style="stroke: #000000; stroke-width: 1.4"/>
</g>
</g>
<g id="line2d_419">
<g>
<use href="#mf17cf57086" x="2018.6" y="488.34" style="stroke: #000000; stroke-width: 1.4"/>
</g>
</g>
</g>
<g id="ytick_84">
<g id="line2d_420">
<g>
<use href="#mb7b414155f" x="1264.7" y="451.29" style="stroke: #000000; stroke-width: 1.4"/>
</g>
</g>
<g id="line2d_421">
<g>
<use href="#mf17cf57086" x="2018.6" y="451.29" style="stroke: #000000; stroke-width: 1.4"/>
</g>
</g>
</g>
<g id="ytick_85">
<g id="line2d_422">
<g>
<use href="#mb7b414155f" x="1264.7" y="432.48" style="stroke: #000000; stroke-width: 1.4"/>
</g>
</g>
<g id="line2d_423">
<g>
<use href="#mf17cf57086" x="2018.6" y="432.48" style="stroke: #000000; stroke-width: 1.4"/>
</g>
</g>
</g>
<g id="ytick_86">
<g id="line2d_424">
<g>
<use href="#mb7b414155f" x="1264.7" y="419.13" style="stroke: #000000; stroke-width: 1.4"/>
</g>
</g>
<g id="line2d_425">
<g>
<use href="#mf17cf57086" x="2018.6" y="419.13" style="stroke: #000000; stroke-width: 1.4"/>
</g>
</g>
</g>
<g id="ytick_87">
<g id="line2d_426">
<g>
<use href="#mb7b414155f" x="1264.7" y="408.78" style="stroke: #000000; stroke-width: 1.4"/>
</g>
</g>
<g id="line2d_427">
<g>
<use href="#mf17cf57086" x="2018.6" y="408.78" style="stroke: #000000; stroke-width: 1.4"/>
</g>
</g>
</g>
<g id="ytick_88">
<g id="line2d_428">
<g>
<use href="#mb7b414155f" x="1264.7" y="400.32" style="stroke: #000000; stroke-width: 1.4"/>
</g>
</g>
<g id="line2d_429">
<g>
<use href="#mf17cf57086" x="2018.6" y="400.32" style="stroke: #000000; stroke-width: 1.4"/>
</g>
</g>
</g>
<g id="ytick_89">
<g id="line2d_430">
<g>
<use href="#mb7b414155f" x="1264.7" y="393.16" style="stroke: #000000; stroke-width: 1.4"/>
</g>
</g>
<g id="line2d_431">
<g>
<use href="#mf17cf57086" x="2018.6" y="393.16" style="stroke: #000000; stroke-width: 1.4"/>
</g>
</g>
</g>
<g id="ytick_90">
<g id="line2d_432">
<g>
<use href="#mb7b414155f" x="1264.7" y="386.97" style="stroke: #000000; stroke-width: 1.4"/>
</g>
</g>
<g id="line2d_433">
<g>
<use href="#mf17cf57086" x="2018.6" y="386.97" style="stroke: #000000; stroke-width: 1.4"/>
</g>
</g>
</g>
<g id="ytick_91">
<g id="line2d_434">
<g>
<use href="#mb7b414155f" x="1264.7" y="381.50" style="stroke: #000000; stroke-width: 1.4"/>
</g>
</g>
<g id="line2d_435">
<g>
<use href="#mf17cf57086" x="2018.6" y="381.50" style="stroke: #000000; stroke-width: 1.4"/>
</g>
</g>
</g>
<g id="ytick_92">
<g id="line2d_436">
<g>
<use href="#mb7b414155f" x="1264.7" y="344.45" style="stroke: #000000; stroke-width: 1.4"/>
</g>
</g>
<g id="line2d_437">
<g>
<use href="#mf17cf57086" x="2018.6" y="344.45" style="stroke: #000000; stroke-width: 1.4"/>
</g>
</g>
</g>
<g id="ytick_93">
<g id="line2d_438">
<g>
<use href="#mb7b414155f" x="1264.7" y="325.64" style="stroke: #000000; stroke-width: 1.4"/>
</g>
</g>
<g id="line2d_439">
<g>
<use href="#mf17cf57086" x="2018.6" y="325.64" style="stroke: #000000; stroke-width: 1.4"/>
</g>
</g>
</g>
<g id="ytick_94">
<g id="line2d_440">
<g>
<use href="#mb7b414155f" x="1264.7" y="312.29" style="stroke: #000000; stroke-width: 1.4"/>
</g>
</g>
<g id="line2d_441">
<g>
<use href="#mf17cf57086" x="2018.6" y="312.29" style="stroke: #000000; stroke-width: 1.4"/>
</g>
</g>
</g>
<g id="ytick_95">
<g id="line2d_442">
<g>
<use href="#mb7b414155f" x="1264.7" y="301.94" style="stroke: #000000; stroke-width: 1.4"/>
</g>
</g>
<g id="line2d_443">
<g>
<use href="#mf17cf57086" x="2018.6" y="301.94" style="stroke: #000000; stroke-width: 1.4"/>
</g>
</g>
</g>
<g id="ytick_96">
<g id="line2d_444">
<g>
<use href="#mb7b414155f" x="1264.7" y="293.48" style="stroke: #000000; stroke-width: 1.4"/>
</g>
</g>
<g id="line2d_445">
<g>
<use href="#mf17cf57086" x="2018.6" y="293.48" style="stroke: #000000; stroke-width: 1.4"/>
</g>
</g>
</g>
<g id="ytick_97">
<g id="line2d_446">
<g>
<use href="#mb7b414155f" x="1264.7" y="286.32" style="stroke: #000000; stroke-width: 1.4"/>
</g>
</g>
<g id="line2d_447">
<g>
<use href="#mf17cf57086" x="2018.6" y="286.32" style="stroke: #000000; stroke-width: 1.4"/>
</g>
</g>
</g>
<g id="ytick_98">
<g id="line2d_448">
<g>
<use href="#mb7b414155f" x="1264.7" y="280.13" style="stroke: #000000; stroke-width: 1.4"/>
</g>
</g>
<g id="line2d_449">
<g>
<use href="#mf17cf57086" x="2018.6" y="280.13" style="stroke: #000000; stroke-width: 1.4"/>
</g>
</g>
</g>
<g id="ytick_99">
<g id="line2d_450">
<g>
<use href="#mb7b414155f" x="1264.7" y="274.66" style="stroke: #000000; stroke-width: 1.4"/>
</g>
</g>
<g id="line2d_451">
<g>
<use href="#mf17cf57086" x="2018.6" y="274.66" style="stroke: #000000; stroke-width: 1.4"/>
</g>
</g>
</g>
<g id="ytick_100">
<g id="line2d_452">
<g>
<use href="#mb7b414155f" x="1264.7" y="237.61" style="stroke: #000000; stroke-width: 1.4"/>
</g>
</g>
<g id="line2d_453">
<g>
<use href="#mf17cf57086" x="2018.6" y="237.61" style="stroke: #000000; stroke-width: 1.4"/>
</g>
</g>
</g>
<g id="ytick_101">
<g id="line2d_454">
<g>
<use href="#mb7b414155f" x="1264.7" y="218.80" style="stroke: #000000; stroke-width: 1.4"/>
</g>
</g>
<g id="line2d_455">
<g>
<use href="#mf17cf57086" x="2018.6" y="218.80" style="stroke: #000000; stroke-width: 1.4"/>
</g>
</g>
</g>
<g id="ytick_102">
<g id="line2d_456">
<g>
<use href="#mb7b414155f" x="1264.7" y="205.45" style="stroke: #000000; stroke-width: 1.4"/>
</g>
</g>
<g id="line2d_457">
<g>
<use href="#mf17cf57086" x="2018.6" y="205.45" style="stroke: #000000; stroke-width: 1.4"/>
</g>
</g>
</g>
<g id="ytick_103">
<g id="line2d_458">
<g>
<use href="#mb7b414155f" x="1264.7" y="195.10" style="stroke: #000000; stroke-width: 1.4"/>
</g>
</g>
<g id="line2d_459">
<g>
<use href="#mf17cf57086" x="2018.6" y="195.10" style="stroke: #000000; stroke-width: 1.4"/>
</g>
</g>
</g>
<g id="ytick_104">
<g id="line2d_460">
<g>
<use href="#mb7b414155f" x="1264.7" y="186.64" style="stroke: #000000; stroke-width: 1.4"/>
</g>
</g>
<g id="line2d_461">
<g>
<use href="#mf17cf57086" x="2018.6" y="186.64" style="stroke: #000000; stroke-width: 1.4"/>
</g>
</g>
</g>
<g id="ytick_105">
<g id="line2d_462">
<g>
<use href="#mb7b414155f" x="1264.7" y="179.48" style="stroke: #000000; stroke-width: 1.4"/>
</g>
</g>
<g id="line2d_463">
<g>
<use href="#mf17cf57086" x="2018.6" y="179.48" style="stroke: #000000; stroke-width: 1.4"/>
</g>
</g>
</g>
<g id="ytick_106">
<g id="line2d_464">
<g>
<use href="#mb7b414155f" x="1264.7" y="173.29" style="stroke: #000000; stroke-width: 1.4"/>
</g>
</g>
<g id="line2d_465">
<g>
<use href="#mf17cf57086" x="2018.6" y="173.29" style="stroke: #000000; stroke-width: 1.4"/>
</g>
</g>
</g>
<g id="ytick_107">
<g id="line2d_466">
<g>
<use href="#mb7b414155f" x="1264.7" y="167.82" style="stroke: #000000; stroke-width: 1.4"/>
</g>
</g>
<g id="line2d_467">
<g>
<use href="#mf17cf57086" x="2018.6" y="167.82" style="stroke: #000000; stroke-width: 1.4"/>
</g>
</g>
</g>
<g id="ytick_108">
<g id="line2d_468">
<g>
<use href="#mb7b414155f" x="1264.7" y="130.77" style="stroke: #000000; stroke-width: 1.4"/>
</g>
</g>
<g id="line2d_469">
<g>
<use href="#mf17cf57086" x="2018.6" y="130.77" style="stroke: #000000; stroke-width: 1.4"/>
</g>
</g>
</g>
<g id="ytick_109">
<g id="line2d_470">
<g>
<use href="#mb7b414155f" x="1264.7" y="111.96" style="stroke: #000000; stroke-width: 1.4"/>
</g>
</g>
<g id="line2d_471">
<g>
<use href="#mf17cf57086" x="2018.6" y="111.96" style="stroke: #000000; stroke-width: 1.4"/>
</g>
</g>
</g>
<g id="ytick_110">
<g id="line2d_472">
<g>
<use href="#mb7b414155f" x="1264.7" y="98.61" style="stroke: #000000; stroke-width: 1.4"/>
</g>
</g>
<g id="line2d_473">
<g>
<use href="#mf17cf57086" x="2018.6" y="98.61" style="stroke: #000000; stroke-width: 1.4"/>
</g>
</g>
</g>
<g id="text_47">
<g transform="translate(1162.55 470.22) rotate(-90)">
<text>
<tspan x="0" y="-0.84" style="font-size: 36.1px; font-family: 'DejaVu Sans', sans-serif">S</tspan>
<tspan x="22.93" y="-0.84" style="font-size: 36.1px; font-family: 'DejaVu Sans', sans-serif">F</tspan>
<tspan x="43.70" y="-0.84" style="font-size: 36.1px; font-family: 'DejaVu Sans', sans-serif">R</tspan>
<tspan x="85.70" y="-0.84" style="font-size: 36.1px; font-family: 'DejaVu Sans', sans-serif">[</tspan>
<tspan x="99.79" y="-0.84" style="font-size: 36.1px; font-family: 'DejaVu Sans', sans-serif">M</tspan>
<tspan x="170.37" y="-0.84" style="font-size: 36.1px; font-family: 'DejaVu Sans', sans-serif">y</tspan>
<tspan x="191.75" y="-0.84" style="font-size: 36.1px; font-family: 'DejaVu Sans', sans-serif">r</tspan>
<tspan x="245.20" y="-0.84" style="font-size: 36.1px; font-family: 'DejaVu Sans', sans-serif">]</tspan>
<tspan x="131.30" y="5.06" style="font-size: 25.27px; font-family: 'DejaVu Sans', sans-serif">⊙</tspan>
<tspan x="206.94" y="-14.62" style="font-size: 25.27px; font-family: 'DejaVu Sans', sans-serif">−</tspan>
<tspan x="228.13" y="-14.62" style="font-size: 25.27px; font-family: 'DejaVu Sans', sans-serif">1</tspan>
</text>
</g>
</g>
</g>
<g id="line2d_474">
<path d="M 1264.7 149.4 
L 1302.39 149.4 
L 1303.52 171.4 
L 1340.09 171.4 
L 1341.22 233.5 
L 1433.57 233.5 
L 1434.70 316.3 
L 1641.65 316.3 
L 1664.26 464 
L 2018.6 464 
" clip-path="url(#pe512c88715)" style="fill: none; stroke: #d62728; stroke-width: 3.3; stroke-linejoin: miter; stroke-linecap: square"/>
</g>
<g id="patch_23">
<path d="M 1264.7 590.3 
L 1264.7 90.95 
" style="fill: none; stroke: #000000; stroke-width: 3.1; stroke-linejoin: miter; stroke-linecap: square"/>
</g>
<g id="patch_24">
<path d="M 2018.6 590.3 
L 2018.6 90.95 
" style="fill: none; stroke: #000000; stroke-width: 3.1; stroke-linejoin: miter; stroke-linecap: square"/>
</g>
<g id="patch_25">
<path d="M 1264.7 590.3 
L 2018.6 590.3 
" style="fill: none; stroke: #000000; stroke-width: 3.1; stroke-linejoin: miter; stroke-linecap: square"/>
</g>
<g id="patch_26">
<path d="M 1264.7 90.95 
L 2018.6 90.95 
" style="fill: none; stroke: #000000; stroke-width: 3.1; stroke-linejoin: miter; stroke-linecap: square"/>
</g>
</g>
<g id="axes_6">
<g id="matplotlib.axis_11">
<g id="xtick_47">
<g id="line2d_475">
<defs>
<path id="mbebde54986" d="M 0 0 
L 0 8.8 
" style="stroke: #000000; stroke-width: 2.1"/>
</defs>
<g>
<use href="#mbebde54986" x="1264.7" y="90.95" style="stroke: #000000; stroke-width: 2.1"/>
</g>
</g>
<g id="text_48">
<text style="font-size: 31.9px; font-family: 'DejaVu Sans', sans-serif; text-anchor: middle" x="1264.7" y="76.71" transform="rotate(-0 1264.7 76.71)">10.6</text>
</g>
</g>
<g id="xtick_48">
<g id="line2d_476">
<g>
<use href="#mbebde54986" x="1415.48" y="90.95" style="stroke: #000000; stroke-width: 2.1"/>
</g>
</g>
<g id="text_49">
<text style="font-size: 31.9px; font-family: 'DejaVu Sans', sans-serif; text-anchor: middle" x="1415.48" y="76.71" transform="rotate(-0 1415.48 76.71)">11.0</text>
</g>
</g>
<g id="xtick_49">
<g id="line2d_477">
<g>
<use href="#mbebde54986" x="1566.26" y="90.95" style="stroke: #000000; stroke-width: 2.1"/>
</g>
</g>
<g id="text_50">
<text style="font-size: 31.9px; font-family: 'DejaVu Sans', sans-serif; text-anchor: middle" x="1566.26" y="76.71" transform="rotate(-0 1566.26 76.71)">11.4</text>
</g>
</g>
<g id="xtick_50">
<g id="line2d_478">
<g>
<use href="#mbebde54986" x="1717.04" y="90.95" style="stroke: #000000; stroke-width: 2.1"/>
</g>
</g>
<g id="text_51">
<text style="font-size: 31.9px; font-family: 'DejaVu Sans', sans-serif; text-anchor: middle" x="1717.04" y="76.71" transform="rotate(-0 1717.04 76.71)">11.8</text>
</g>
</g>
<g id="xtick_51">
<g id="line2d_479">
<g>
<use href="#mbebde54986" x="1867.82" y="90.95" style="stroke: #000000; stroke-width: 2.1"/>
</g>
</g>
<g id="text_52">
<text style="font-size: 31.9px; font-family: 'DejaVu Sans', sans-serif; text-anchor: middle" x="1867.82" y="76.71" transform="rotate(-0 1867.82 76.71)">12.3</text>
</g>
</g>
<g id="xtick_52">
<g id="line2d_480">
<g>
<use href="#mbebde54986" x="2018.6" y="90.95" style="stroke: #000000; stroke-width: 2.1"/>
</g>
</g>
<g id="text_53">
<text style="font-size: 31.9px; font-family: 'DejaVu Sans', sans-serif; text-anchor: middle" x="2018.6" y="76.71" transform="rotate(-0 2018.6 76.71)">12.8</text>
</g>
</g>
<g id="text_54">
<text style="font-size: 36.6px; font-family: 'DejaVu Sans', sans-serif; text-anchor: middle" x="1641.65" y="42.27" transform="rotate(-0 1641.65 42.27)">redshift</text>
</g>
</g>
<g id="patch_27">
<path d="M 1264.7 590.3 
L 1264.7 90.95 
" style="fill: none; stroke: #000000; stroke-width: 3.1; stroke-linejoin: miter; stroke-linecap: square"/>
</g>
<g id="patch_28">
<path d="M 2018.6 590.3 
L 2018.6 90.95 
" style="fill: none; stroke: #000000; stroke-width: 3.1; stroke-linejoin: miter; stroke-linecap: square"/>
</g>
<g id="patch_29">
<path d="M 1264.7 590.3 
L 2018.6 590.3 
" style="fill: none; stroke: #000000; stroke-width: 3.1; stroke-linejoin: miter; stroke-linecap: square"/>
</g>
<g id="patch_30">
<path d="M 1264.7 90.95 
L 2018.6 90.95 
" style="fill: none; stroke: #000000; stroke-width: 3.1; stroke-linejoin: miter; stroke-linecap: square"/>
</g>
</g>
<g id="axes_7">
<g id="patch_31">
<path d="M 1264.7 1342.9 
L 2018.6 1342.9 
L 2018.6 843.8 
L 1264.7 843.8 
z
" style="fill: #ffffff"/>
</g>
<g id="FillBetweenPolyCollection_4">
<defs>
<path id="m7567c8715c" d="M 1264.7 -469.5 
L 1264.7 -150.6 
L 1302.39 -150.6 
L 1303.52 -237.9 
L 1340.09 -237.9 
L 1341.22 -409.8 
L 1433.57 -409.8 
L 1434.70 -369.7 
L 1641.65 -369.7 
L 1664.26 -164.8 
L 2018.6 -164.8 
L 2018.6 -487.6 
L 2018.6 -487.6 
L 1664.26 -487.6 
L 1641.65 -588.5 
L 1434.70 -588.5 
L 1433.57 -589.2 
L 1341.22 -589.2 
L 1340.09 -530.9 
L 1303.52 -530.9 
L 1302.39 -469.5 
L 1264.7 -469.5 
z
"/>
</defs>
<g clip-path="url(#pc9c035922c)">
<use href="#m7567c8715c" x="0" y="1464" style="fill: #d62728; fill-opacity: 0.2"/>
</g>
</g>
<g id="matplotlib.axis_12">
<g id="xtick_53">
<g id="line2d_481">
<g>
<use href="#m97d7e726cd" x="1264.7" y="1342.9" style="stroke: #000000; stroke-width: 2.1"/>
</g>
</g>
<g id="text_55">
<text style="font-size: 31.9px; font-family: 'DejaVu Sans', sans-serif; text-anchor: middle" x="1264.7" y="1374.73" transform="rotate(-0 1264.7 1374.73)">0</text>
</g>
</g>
<g id="xtick_54">
<g id="line2d_482">
<g>
<use href="#m97d7e726cd" x="1415.48" y="1342.9" style="stroke: #000000; stroke-width: 2.1"/>
</g>
</g>
<g id="text_56">
<text style="font-size: 31.9px; font-family: 'DejaVu Sans', sans-serif; text-anchor: middle" x="1415.48" y="1374.73" transform="rotate(-0 1415.48 1374.73)">20</text>
</g>
</g>
<g id="xtick_55">
<g id="line2d_483">
<g>
<use href="#m97d7e726cd" x="1566.26" y="1342.9" style="stroke: #000000; stroke-width: 2.1"/>
</g>
</g>
<g id="text_57">
<text style="font-size: 31.9px; font-family: 'DejaVu Sans', sans-serif; text-anchor: middle" x="1566.26" y="1374.73" transform="rotate(-0 1566.26 1374.73)">40</text>
</g>
</g>
<g id="xtick_56">
<g id="line2d_484">
<g>
<use href="#m97d7e726cd" x="1717.04" y="1342.9" style="stroke: #000000; stroke-width: 2.1"/>
</g>
</g>
<g id="text_58">
<text style="font-size: 31.9px; font-family: 'DejaVu Sans', sans-serif; text-anchor: middle" x="1717.04" y="1374.73" transform="rotate(-0 1717.04 1374.73)">60</text>
</g>
</g>
<g id="xtick_57">
<g id="line2d_485">
<g>
<use href="#m97d7e726cd" x="1867.82" y="1342.9" style="stroke: #000000; stroke-width: 2.1"/>
</g>
</g>
<g id="text_59">
<text style="font-size: 31.9px; font-family: 'DejaVu Sans', sans-serif; text-anchor: middle" x="1867.82" y="1374.73" transform="rotate(-0 1867.82 1374.73)">80</text>
</g>
</g>
<g id="xtick_58">
<g id="line2d_486">
<g>
<use href="#m97d7e726cd" x="2018.6" y="1342.9" style="stroke: #000000; stroke-width: 2.1"/>
</g>
</g>
<g id="text_60">
<text style="font-size: 31.9px; font-family: 'DejaVu Sans', sans-serif; text-anchor: middle" x="2018.6" y="1374.73" transform="rotate(-0 2018.6 1374.73)">100</text>
</g>
</g>
<g id="text_61">
<g transform="translate(1455.73 1417.60)">
<text>
<tspan x="0" y="-0.64" style="font-size: 36.1px; font-family: 'DejaVu Sans', sans-serif">l</tspan>
<tspan x="10.03" y="-0.64" style="font-size: 36.1px; font-family: 'DejaVu Sans', sans-serif">o</tspan>
<tspan x="32.13" y="-0.64" style="font-size: 36.1px; font-family: 'DejaVu Sans', sans-serif">o</tspan>
<tspan x="54.24" y="-0.64" style="font-size: 36.1px; font-family: 'DejaVu Sans', sans-serif">k</tspan>
<tspan x="75.16" y="-0.64" style="font-size: 36.1px; font-family: 'DejaVu Sans', sans-serif">b</tspan>
<tspan x="98.09" y="-0.64" style="font-size: 36.1px; font-family: 'DejaVu Sans', sans-serif">a</tspan>
<tspan x="120.22" y="-0.64" style="font-size: 36.1px; font-family: 'DejaVu Sans', sans-serif">c</tspan>
<tspan x="140.09" y="-0.64" style="font-size: 36.1px; font-family: 'DejaVu Sans', sans-serif">k</tspan>
<tspan x="177.90" y="-0.64" style="font-size: 36.1px; font-family: 'DejaVu Sans', sans-serif">t</tspan>
<tspan x="192.06" y="-0.64" style="font-size: 36.1px; font-family: 'DejaVu Sans', sans-serif">i</tspan>
<tspan x="202.10" y="-0.64" style="font-size: 36.1px; font-family: 'DejaVu Sans', sans-serif">m</tspan>
<tspan x="237.29" y="-0.64" style="font-size: 36.1px; font-family: 'DejaVu Sans', sans-serif">e</tspan>
<tspan x="276.40" y="-0.64" style="font-size: 36.1px; font-family: 'DejaVu Sans', sans-serif">[</tspan>
<tspan x="290.50" y="-0.64" style="font-size: 36.1px; font-family: 'DejaVu Sans', sans-serif">M</tspan>
<tspan x="321.67" y="-0.64" style="font-size: 36.1px; font-family: 'DejaVu Sans', sans-serif">y</tspan>
<tspan x="343.04" y="-0.64" style="font-size: 36.1px; font-family: 'DejaVu Sans', sans-serif">r</tspan>
<tspan x="357.90" y="-0.64" style="font-size: 36.1px; font-family: 'DejaVu Sans', sans-serif">]</tspan>
</text>
</g>
</g>
</g>
<g id="matplotlib.axis_13">
<g id="ytick_111">
<g id="line2d_487">
<g>
<use href="#mbb0bbb3a28" x="1264.7" y="1342.9" style="stroke: #000000; stroke-width: 2.1"/>
</g>
</g>
<g id="line2d_488">
<g>
<use href="#mee27717b81" x="2018.6" y="1342.9" style="stroke: #000000; stroke-width: 2.1"/>
</g>
</g>
<g id="text_62">
<g transform="translate(1182.13 1355.01)">
<text>
<tspan x="0" y="-0.12" style="font-size: 31.9px; font-family: 'DejaVu Sans', sans-serif">1</tspan>
<tspan x="20.27" y="-0.12" style="font-size: 31.9px; font-family: 'DejaVu Sans', sans-serif">0</tspan>
<tspan x="40.86" y="-12.37" style="font-size: 22.33px; font-family: 'DejaVu Sans', sans-serif">−</tspan>
<tspan x="59.56" y="-12.37" style="font-size: 22.33px; font-family: 'DejaVu Sans', sans-serif">3</tspan>
</text>
</g>
</g>
</g>
<g id="ytick_112">
<g id="line2d_489">
<g>
<use href="#mbb0bbb3a28" x="1264.7" y="1238.55" style="stroke: #000000; stroke-width: 2.1"/>
</g>
</g>
<g id="line2d_490">
<g>
<use href="#mee27717b81" x="2018.6" y="1238.55" style="stroke: #000000; stroke-width: 2.1"/>
</g>
</g>
<g id="text_63">
<g transform="translate(1182.13 1250.66)">
<text>
<tspan x="0" y="-0.12" style="font-size: 31.9px; font-family: 'DejaVu Sans', sans-serif">1</tspan>
<tspan x="20.27" y="-0.12" style="font-size: 31.9px; font-family: 'DejaVu Sans', sans-serif">0</tspan>
<tspan x="40.86" y="-12.37" style="font-size: 22.33px; font-family: 'DejaVu Sans', sans-serif">−</tspan>
<tspan x="59.56" y="-12.37" style="font-size: 22.33px; font-family: 'DejaVu Sans', sans-serif">2</tspan>
</text>
</g>
</g>
</g>
<g id="ytick_113">
<g id="line2d_491">
<g>
<use href="#mbb0bbb3a28" x="1264.7" y="1134.2" style="stroke: #000000; stroke-width: 2.1"/>
</g>
</g>
<g id="line2d_492">
<g>
<use href="#mee27717b81" x="2018.6" y="1134.2" style="stroke: #000000; stroke-width: 2.1"/>
</g>
</g>
<g id="text_64">
<g transform="translate(1182.13 1146.31)">
<text>
<tspan x="0" y="-0.42" style="font-size: 31.9px; font-family: 'DejaVu Sans', sans-serif">1</tspan>
<tspan x="20.27" y="-0.42" style="font-size: 31.9px; font-family: 'DejaVu Sans', sans-serif">0</tspan>
<tspan x="40.86" y="-12.67" style="font-size: 22.33px; font-family: 'DejaVu Sans', sans-serif">−</tspan>
<tspan x="59.56" y="-12.67" style="font-size: 22.33px; font-family: 'DejaVu Sans', sans-serif">1</tspan>
</text>
</g>
</g>
</g>
<g id="ytick_114">
<g id="line2d_493">
<g>
<use href="#mbb0bbb3a28" x="1264.7" y="1029.85" style="stroke: #000000; stroke-width: 2.1"/>
</g>
</g>
<g id="line2d_494">
<g>
<use href="#mee27717b81" x="2018.6" y="1029.85" style="stroke: #000000; stroke-width: 2.1"/>
</g>
</g>
<g id="text_65">
<g transform="translate(1200.95 1041.96)">
<text>
<tspan x="0" y="-0.12" style="font-size: 31.9px; font-family: 'DejaVu Sans', sans-serif">1</tspan>
<tspan x="20.27" y="-0.12" style="font-size: 31.9px; font-family: 'DejaVu Sans', sans-serif">0</tspan>
<tspan x="40.86" y="-12.37" style="font-size: 22.33px; font-family: 'DejaVu Sans', sans-serif">0</tspan>
</text>
</g>
</g>
</g>
<g id="ytick_115">
<g id="line2d_495">
<g>
<use href="#mbb0bbb3a28" x="1264.7" y="925.5" style="stroke: #000000; stroke-width: 2.1"/>
</g>
</g>
<g id="line2d_496">
<g>
<use href="#mee27717b81" x="2018.6" y="925.5" style="stroke: #000000; stroke-width: 2.1"/>
</g>
</g>
<g id="text_66">
<g transform="translate(1200.95 937.61)">
<text>
<tspan x="0" y="-0.42" style="font-size: 31.9px; font-family: 'DejaVu Sans', sans-serif">1</tspan>
<tspan x="20.27" y="-0.42" style="font-size: 31.9px; font-family: 'DejaVu Sans', sans-serif">0</tspan>
<tspan x="40.86" y="-12.67" style="font-size: 22.33px; font-family: 'DejaVu Sans', sans-serif">1</tspan>
</text>
</g>
</g>
</g>
<g id="ytick_116">
<g id="line2d_497">
<g>
<use href="#mb7b414155f" x="1264.7" y="1311.48" style="stroke: #000000; stroke-width: 1.4"/>
</g>
</g>
<g id="line2d_498">
<g>
<use href="#mf17cf57086" x="2018.6" y="1311.48" style="stroke: #000000; stroke-width: 1.4"/>
</g>
</g>
</g>
<g id="ytick_117">
<g id="line2d_499">
<g>
<use href="#mb7b414155f" x="1264.7" y="1293.11" style="stroke: #000000; stroke-width: 1.4"/>
</g>
</g>
<g id="line2d_500">
<g>
<use href="#mf17cf57086" x="2018.6" y="1293.11" style="stroke: #000000; stroke-width: 1.4"/>
</g>
</g>
</g>
<g id="ytick_118">
<g id="line2d_501">
<g>
<use href="#mb7b414155f" x="1264.7" y="1280.07" style="stroke: #000000; stroke-width: 1.4"/>
</g>
</g>
<g id="line2d_502">
<g>
<use href="#mf17cf57086" x="2018.6" y="1280.07" style="stroke: #000000; stroke-width: 1.4"/>
</g>
</g>
</g>
<g id="ytick_119">
<g id="line2d_503">
<g>
<use href="#mb7b414155f" x="1264.7" y="1269.96" style="stroke: #000000; stroke-width: 1.4"/>
</g>
</g>
<g id="line2d_504">
<g>
<use href="#mf17cf57086" x="2018.6" y="1269.96" style="stroke: #000000; stroke-width: 1.4"/>
</g>
</g>
</g>
<g id="ytick_120">
<g id="line2d_505">
<g>
<use href="#mb7b414155f" x="1264.7" y="1261.69" style="stroke: #000000; stroke-width: 1.4"/>
</g>
</g>
<g id="line2d_506">
<g>
<use href="#mf17cf57086" x="2018.6" y="1261.69" style="stroke: #000000; stroke-width: 1.4"/>
</g>
</g>
</g>
<g id="ytick_121">
<g id="line2d_507">
<g>
<use href="#mb7b414155f" x="1264.7" y="1254.71" style="stroke: #000000; stroke-width: 1.4"/>
</g>
</g>
<g id="line2d_508">
<g>
<use href="#mf17cf57086" x="2018.6" y="1254.71" style="stroke: #000000; stroke-width: 1.4"/>
</g>
</g>
</g>
<g id="ytick_122">
<g id="line2d_509">
<g>
<use href="#mb7b414155f" x="1264.7" y="1248.66" style="stroke: #000000; stroke-width: 1.4"/>
</g>
</g>
<g id="line2d_510">
<g>
<use href="#mf17cf57086" x="2018.6" y="1248.66" style="stroke: #000000; stroke-width: 1.4"/>
</g>
</g>
</g>
<g id="ytick_123">
<g id="line2d_511">
<g>
<use href="#mb7b414155f" x="1264.7" y="1243.32" style="stroke: #000000; stroke-width: 1.4"/>
</g>
</g>
<g id="line2d_512">
<g>
<use href="#mf17cf57086" x="2018.6" y="1243.32" style="stroke: #000000; stroke-width: 1.4"/>
</g>
</g>
</g>
<g id="ytick_124">
<g id="line2d_513">
<g>
<use href="#mb7b414155f" x="1264.7" y="1207.13" style="stroke: #000000; stroke-width: 1.4"/>
</g>
</g>
<g id="line2d_514">
<g>
<use href="#mf17cf57086" x="2018.6" y="1207.13" style="stroke: #000000; stroke-width: 1.4"/>
</g>
</g>
</g>
<g id="ytick_125">
<g id="line2d_515">
<g>
<use href="#mb7b414155f" x="1264.7" y="1188.76" style="stroke: #000000; stroke-width: 1.4"/>
</g>
</g>
<g id="line2d_516">
<g>
<use href="#mf17cf57086" x="2018.6" y="1188.76" style="stroke: #000000; stroke-width: 1.4"/>
</g>
</g>
</g>
<g id="ytick_126">
<g id="line2d_517">
<g>
<use href="#mb7b414155f" x="1264.7" y="1175.72" style="stroke: #000000; stroke-width: 1.4"/>
</g>
</g>
<g id="line2d_518">
<g>
<use href="#mf17cf57086" x="2018.6" y="1175.72" style="stroke: #000000; stroke-width: 1.4"/>
</g>
</g>
</g>
<g id="ytick_127">
<g id="line2d_519">
<g>
<use href="#mb7b414155f" x="1264.7" y="1165.61" style="stroke: #000000; stroke-width: 1.4"/>
</g>
</g>
<g id="line2d_520">
<g>
<use href="#mf17cf57086" x="2018.6" y="1165.61" style="stroke: #000000; stroke-width: 1.4"/>
</g>
</g>
</g>
<g id="ytick_128">
<g id="line2d_521">
<g>
<use href="#mb7b414155f" x="1264.7" y="1157.34" style="stroke: #000000; stroke-width: 1.4"/>
</g>
</g>
<g id="line2d_522">
<g>
<use href="#mf17cf57086" x="2018.6" y="1157.34" style="stroke: #000000; stroke-width: 1.4"/>
</g>
</g>
</g>
<g id="ytick_129">
<g id="line2d_523">
<g>
<use href="#mb7b414155f" x="1264.7" y="1150.36" style="stroke: #000000; stroke-width: 1.4"/>
</g>
</g>
<g id="line2d_524">
<g>
<use href="#mf17cf57086" x="2018.6" y="1150.36" style="stroke: #000000; stroke-width: 1.4"/>
</g>
</g>
</g>
<g id="ytick_130">
<g id="line2d_525">
<g>
<use href="#mb7b414155f" x="1264.7" y="1144.31" style="stroke: #000000; stroke-width: 1.4"/>
</g>
</g>
<g id="line2d_526">
<g>
<use href="#mf17cf57086" x="2018.6" y="1144.31" style="stroke: #000000; stroke-width: 1.4"/>
</g>
</g>
</g>
<g id="ytick_131">
<g id="line2d_527">
<g>
<use href="#mb7b414155f" x="1264.7" y="1138.97" style="stroke: #000000; stroke-width: 1.4"/>
</g>
</g>
<g id="line2d_528">
<g>
<use href="#mf17cf57086" x="2018.6" y="1138.97" style="stroke: #000000; stroke-width: 1.4"/>
</g>
</g>
</g>
<g id="ytick_132">
<g id="line2d_529">
<g>
<use href="#mb7b414155f" x="1264.7" y="1102.78" style="stroke: #000000; stroke-width: 1.4"/>
</g>
</g>
<g id="line2d_530">
<g>
<use href="#mf17cf57086" x="2018.6" y="1102.78" style="stroke: #000000; stroke-width: 1.4"/>
</g>
</g>
</g>
<g id="ytick_133">
<g id="line2d_531">
<g>
<use href="#mb7b414155f" x="1264.7" y="1084.41" style="stroke: #000000; stroke-width: 1.4"/>
</g>
</g>
<g id="line2d_532">
<g>
<use href="#mf17cf57086" x="2018.6" y="1084.41" style="stroke: #000000; stroke-width: 1.4"/>
</g>
</g>
</g>
<g id="ytick_134">
<g id="line2d_533">
<g>
<use href="#mb7b414155f" x="1264.7" y="1071.37" style="stroke: #000000; stroke-width: 1.4"/>
</g>
</g>
<g id="line2d_534">
<g>
<use href="#mf17cf57086" x="2018.6" y="1071.37" style="stroke: #000000; stroke-width: 1.4"/>
</g>
</g>
</g>
<g id="ytick_135">
<g id="line2d_535">
<g>
<use href="#mb7b414155f" x="1264.7" y="1061.26" style="stroke: #000000; stroke-width: 1.4"/>
</g>
</g>
<g id="line2d_536">
<g>
<use href="#mf17cf57086" x="2018.6" y="1061.26" style="stroke: #000000; stroke-width: 1.4"/>
</g>
</g>
</g>
<g id="ytick_136">
<g id="line2d_537">
<g>
<use href="#mb7b414155f" x="1264.7" y="1052.99" style="stroke: #000000; stroke-width: 1.4"/>
</g>
</g>
<g id="line2d_538">
<g>
<use href="#mf17cf57086" x="2018.6" y="1052.99" style="stroke: #000000; stroke-width: 1.4"/>
</g>
</g>
</g>
<g id="ytick_137">
<g id="line2d_539">
<g>
<use href="#mb7b414155f" x="1264.7" y="1046.01" style="stroke: #000000; stroke-width: 1.4"/>
</g>
</g>
<g id="line2d_540">
<g>
<use href="#mf17cf57086" x="2018.6" y="1046.01" style="stroke: #000000; stroke-width: 1.4"/>
</g>
</g>
</g>
<g id="ytick_138">
<g id="line2d_541">
<g>
<use href="#mb7b414155f" x="1264.7" y="1039.96" style="stroke: #000000; stroke-width: 1.4"/>
</g>
</g>
<g id="line2d_542">
<g>
<use href="#mf17cf57086" x="2018.6" y="1039.96" style="stroke: #000000; stroke-width: 1.4"/>
</g>
</g>
</g>
<g id="ytick_139">
<g id="line2d_543">
<g>
<use href="#mb7b414155f" x="1264.7" y="1034.62" style="stroke: #000000; stroke-width: 1.4"/>
</g>
</g>
<g id="line2d_544">
<g>
<use href="#mf17cf57086" x="2018.6" y="1034.62" style="stroke: #000000; stroke-width: 1.4"/>
</g>
</g>
</g>
<g id="ytick_140">
<g id="line2d_545">
<g>
<use href="#mb7b414155f" x="1264.7" y="998.43" style="stroke: #000000; stroke-width: 1.4"/>
</g>
</g>
<g id="line2d_546">
<g>
<use href="#mf17cf57086" x="2018.6" y="998.43" style="stroke: #000000; stroke-width: 1.4"/>
</g>
</g>
</g>
<g id="ytick_141">
<g id="line2d_547">
<g>
<use href="#mb7b414155f" x="1264.7" y="980.06" style="stroke: #000000; stroke-width: 1.4"/>
</g>
</g>
<g id="line2d_548">
<g>
<use href="#mf17cf57086" x="2018.6" y="980.06" style="stroke: #000000; stroke-width: 1.4"/>
</g>
</g>
</g>
<g id="ytick_142">
<g id="line2d_549">
<g>
<use href="#mb7b414155f" x="1264.7" y="967.02" style="stroke: #000000; stroke-width: 1.4"/>
</g>
</g>
<g id="line2d_550">
<g>
<use href="#mf17cf57086" x="2018.6" y="967.02" style="stroke: #000000; stroke-width: 1.4"/>
</g>
</g>
</g>
<g id="ytick_143">
<g id="line2d_551">
<g>
<use href="#mb7b414155f" x="1264.7" y="956.91" style="stroke: #000000; stroke-width: 1.4"/>
</g>
</g>
<g id="line2d_552">
<g>
<use href="#mf17cf57086" x="2018.6" y="956.91" style="stroke: #000000; stroke-width: 1.4"/>
</g>
</g>
</g>
<g id="ytick_144">
<g id="line2d_553">
<g>
<use href="#mb7b414155f" x="1264.7" y="948.64" style="stroke: #000000; stroke-width: 1.4"/>
</g>
</g>
<g id="line2d_554">
<g>
<use href="#mf17cf57086" x="2018.6" y="948.64" style="stroke: #000000; stroke-width: 1.4"/>
</g>
</g>
</g>
<g id="ytick_145">
<g id="line2d_555">
<g>
<use href="#mb7b414155f" x="1264.7" y="941.66" style="stroke: #000000; stroke-width: 1.4"/>
</g>
</g>
<g id="line2d_556">
<g>
<use href="#mf17cf57086" x="2018.6" y="941.66" style="stroke: #000000; stroke-width: 1.4"/>
</g>
</g>
</g>
<g id="ytick_146">
<g id="line2d_557">
<g>
<use href="#mb7b414155f" x="1264.7" y="935.61" style="stroke: #000000; stroke-width: 1.4"/>
</g>
</g>
<g id="line2d_558">
<g>
<use href="#mf17cf57086" x="2018.6" y="935.61" style="stroke: #000000; stroke-width: 1.4"/>
</g>
</g>
</g>
<g id="ytick_147">
<g id="line2d_559">
<g>
<use href="#mb7b414155f" x="1264.7" y="930.27" style="stroke: #000000; stroke-width: 1.4"/>
</g>
</g>
<g id="line2d_560">
<g>
<use href="#mf17cf57086" x="2018.6" y="930.27" style="stroke: #000000; stroke-width: 1.4"/>
</g>
</g>
</g>
<g id="ytick_148">
<g id="line2d_561">
<g>
<use href="#mb7b414155f" x="1264.7" y="894.08" style="stroke: #000000; stroke-width: 1.4"/>
</g>
</g>
<g id="line2d_562">
<g>
<use href="#mf17cf57086" x="2018.6" y="894.08" style="stroke: #000000; stroke-width: 1.4"/>
</g>
</g>
</g>
<g id="ytick_149">
<g id="line2d_563">
<g>
<use href="#mb7b414155f" x="1264.7" y="875.71" style="stroke: #000000; stroke-width: 1.4"/>
</g>
</g>
<g id="line2d_564">
<g>
<use href="#mf17cf57086" x="2018.6" y="875.71" style="stroke: #000000; stroke-width: 1.4"/>
</g>
</g>
</g>
<g id="ytick_150">
<g id="line2d_565">
<g>
<use href="#mb7b414155f" x="1264.7" y="862.67" style="stroke: #000000; stroke-width: 1.4"/>
</g>
</g>
<g id="line2d_566">
<g>
<use href="#mf17cf57086" x="2018.6" y="862.67" style="stroke: #000000; stroke-width: 1.4"/>
</g>
</g>
</g>
<g id="ytick_151">
<g id="line2d_567">
<g>
<use href="#mb7b414155f" x="1264.7" y="852.56" style="stroke: #000000; stroke-width: 1.4"/>
</g>
</g>
<g id="line2d_568">
<g>
<use href="#mf17cf57086" x="2018.6" y="852.56" style="stroke: #000000; stroke-width: 1.4"/>
</g>
</g>
</g>
<g id="ytick_152">
<g id="line2d_569">
<g>
<use href="#mb7b414155f" x="1264.7" y="844.29" style="stroke: #000000; stroke-width: 1.4"/>
</g>
</g>
<g id="line2d_570">
<g>
<use href="#mf17cf57086" x="2018.6" y="844.29" style="stroke: #000000; stroke-width: 1.4"/>
</g>
</g>
</g>
<g id="text_67">
<g transform="translate(1162.55 1222.94) rotate(-90)">
<text>
<tspan x="0" y="-0.84" style="font-size: 36.1px; font-family: 'DejaVu Sans', sans-serif">S</tspan>
<tspan x="22.93" y="-0.84" style="font-size: 36.1px; font-family: 'DejaVu Sans', sans-serif">F</tspan>
<tspan x="43.70" y="-0.84" style="font-size: 36.1px; font-family: 'DejaVu Sans', sans-serif">R</tspan>
<tspan x="85.70" y="-0.84" style="font-size: 36.1px; font-family: 'DejaVu Sans', sans-serif">[</tspan>
<tspan x="99.79" y="-0.84" style="font-size: 36.1px; font-family: 'DejaVu Sans', sans-serif">M</tspan>
<tspan x="170.37" y="-0.84" style="font-size: 36.1px; font-family: 'DejaVu Sans', sans-serif">y</tspan>
<tspan x="191.75" y="-0.84" style="font-size: 36.1px; font-family: 'DejaVu Sans', sans-serif">r</tspan>
<tspan x="245.20" y="-0.84" style="font-size: 36.1px; font-family: 'DejaVu Sans', sans-serif">]</tspan>
<tspan x="131.30" y="5.06" style="font-size: 25.27px; font-family: 'DejaVu Sans', sans-serif">⊙</tspan>
<tspan x="206.94" y="-14.62" style="font-size: 25.27px; font-family: 'DejaVu Sans', sans-serif">−</tspan>
<tspan x="228.13" y="-14.62" style="font-size: 25.27px; font-family: 'DejaVu Sans', sans-serif">1</tspan>
</text>
</g>
</g>
</g>
<g id="line2d_571">
<path d="M 1264.7 1080.8 
L 1302.39 1080.8 
L 1303.52 1029 
L 1340.09 1029 
L 1341.22 922.8 
L 1433.57 922.8 
L 1434.70 937 
L 1641.65 937 
L 1664.26 1085.8 
L 2018.6 1085.8 
" clip-path="url(#pc9c035922c)" style="fill: none; stroke: #d62728; stroke-width: 3.3; stroke-linejoin: miter; stroke-linecap: square"/>
</g>
<g id="patch_32">
<path d="M 1264.7 1342.9 
L 1264.7 843.8 
" style="fill: none; stroke: #000000; stroke-width: 3.1; stroke-linejoin: miter; stroke-linecap: square"/>
</g>
<g id="patch_33">
<path d="M 2018.6 1342.9 
L 2018.6 843.8 
" style="fill: none; stroke: #000000; stroke-width: 3.1; stroke-linejoin: miter; stroke-linecap: square"/>
</g>
<g id="patch_34">
<path d="M 1264.7 1342.9 
L 2018.6 1342.9 
" style="fill: none; stroke: #000000; stroke-width: 3.1; stroke-linejoin: miter; stroke-linecap: square"/>
</g>
<g id="patch_35">
<path d="M 1264.7 843.8 
L 2018.6 843.8 
" style="fill: none; stroke: #000000; stroke-width: 3.1; stroke-linejoin: miter; stroke-linecap: square"/>
</g>
</g>
<g id="axes_8">
<g id="matplotlib.axis_14">
<g id="xtick_59">
<g id="line2d_572">
<g>
<use href="#mbebde54986" x="1264.7" y="843.8" style="stroke: #000000; stroke-width: 2.1"/>
</g>
</g>
<g id="text_68">
<text style="font-size: 31.9px; font-family: 'DejaVu Sans', sans-serif; text-anchor: middle" x="1264.7" y="829.56" transform="rotate(-0 1264.7 829.56)">10.6</text>
</g>
</g>
<g id="xtick_60">
<g id="line2d_573">
<g>
<use href="#mbebde54986" x="1415.48" y="843.8" style="stroke: #000000; stroke-width: 2.1"/>
</g>
</g>
<g id="text_69">
<text style="font-size: 31.9px; font-family: 'DejaVu Sans', sans-serif; text-anchor: middle" x="1415.48" y="829.56" transform="rotate(-0 1415.48 829.56)">11.0</text>
</g>
</g>
<g id="xtick_61">
<g id="line2d_574">
<g>
<use href="#mbebde54986" x="1566.26" y="843.8" style="stroke: #000000; stroke-width: 2.1"/>
</g>
</g>
<g id="text_70">
<text style="font-size: 31.9px; font-family: 'DejaVu Sans', sans-serif; text-anchor: middle" x="1566.26" y="829.56" transform="rotate(-0 1566.26 829.56)">11.4</text>
</g>
</g>
<g id="xtick_62">
<g id="line2d_575">
<g>
<use href="#mbebde54986" x="1717.04" y="843.8" style="stroke: #000000; stroke-width: 2.1"/>
</g>
</g>
<g id="text_71">
<text style="font-size: 31.9px; font-family: 'DejaVu Sans', sans-serif; text-anchor: middle" x="1717.04" y="829.56" transform="rotate(-0 1717.04 829.56)">11.8</text>
</g>
</g>
<g id="xtick_63">
<g id="line2d_576">
<g>
<use href="#mbebde54986" x="1867.82" y="843.8" style="stroke: #000000; stroke-width: 2.1"/>
</g>
</g>
<g id="text_72">
<text style="font-size: 31.9px; font-family: 'DejaVu Sans', sans-serif; text-anchor: middle" x="1867.82" y="829.56" transform="rotate(-0 1867.82 829.56)">12.3</text>
</g>
</g>
<g id="xtick_64">
<g id="line2d_577">
<g>
<use href="#mbebde54986" x="2018.6" y="843.8" style="stroke: #000000; stroke-width: 2.1"/>
</g>
</g>
<g id="text_73">
<text style="font-size: 31.9px; font-family: 'DejaVu Sans', sans-serif; text-anchor: middle" x="2018.6" y="829.56" transform="rotate(-0 2018.6 829.56)">12.8</text>
</g>
</g>
<g id="text_74">
<text style="font-size: 36.6px; font-family: 'DejaVu Sans', sans-serif; text-anchor: middle" x="1641.65" y="795.12" transform="rotate(-0 1641.65 795.12)">redshift</text>
</g>
</g>
<g id="patch_36">
<path d="M 1264.7 1342.9 
L 1264.7 843.8 
" style="fill: none; stroke: #000000; stroke-width: 3.1; stroke-linejoin: miter; stroke-linecap: square"/>
</g>
<g id="patch_37">
<path d="M 2018.6 1342.9 
L 2018.6 843.8 
" style="fill: none; stroke: #000000; stroke-width: 3.1; stroke-linejoin: miter; stroke-linecap: square"/>
</g>
<g id="patch_38">
<path d="M 1264.7 1342.9 
L 2018.6 1342.9 
" style="fill: none; stroke: #000000; stroke-width: 3.1; stroke-linejoin: miter; stroke-linecap: square"/>
</g>
<g id="patch_39">
<path d="M 1264.7 843.8 
L 2018.6 843.8 
" style="fill: none; stroke: #000000; stroke-width: 3.1; stroke-linejoin: miter; stroke-linecap: square"/>
</g>
</g>
<g id="text_75">
<text style="font-size: 44.2px; font-family: 'DejaVu Sans', sans-serif; text-anchor: start" x="185.6" y="90.1" transform="rotate(-0 185.6 90.1)">Point Source</text>
</g>
<g id="text_76">
<g transform="translate(185.8 144.7)">
<text>
<tspan x="0" y="-0.25" style="font-style: oblique; font-size: 31.5px; font-family: 'DejaVu Sans', sans-serif">z</tspan>
<tspan x="16.53" y="5" style="font-size: 22.05px; font-family: 'DejaVu Sans', sans-serif">s</tspan>
<tspan x="28.02" y="5" style="font-size: 22.05px; font-family: 'DejaVu Sans', sans-serif">p</tspan>
<tspan x="42.01" y="5" style="font-size: 22.05px; font-family: 'DejaVu Sans', sans-serif">e</tspan>
<tspan x="55.58" y="5" style="font-size: 22.05px; font-family: 'DejaVu Sans', sans-serif">c</tspan>
<tspan x="74.72" y="-0.25" style="font-size: 31.5px; font-family: 'DejaVu Sans', sans-serif">=</tspan>
<tspan x="107.25" y="-0.25" style="font-size: 31.5px; font-family: 'DejaVu Sans', sans-serif">1</tspan>
<tspan x="127.29" y="-0.25" style="font-size: 31.5px; font-family: 'DejaVu Sans', sans-serif">0</tspan>
<tspan x="147.33" y="-0.25" style="font-size: 31.5px; font-family: 'DejaVu Sans', sans-serif">.</tspan>
<tspan x="157.34" y="-0.25" style="font-size: 31.5px; font-family: 'DejaVu Sans', sans-serif">6</tspan>
<tspan x="177.38" y="-0.25" style="font-size: 31.5px; font-family: 'DejaVu Sans', sans-serif">0</tspan>
</text>
</g>
</g>
<g id="text_77">
<g transform="translate(186 599.4)">
<text>
<tspan x="0" y="-0.12" style="font-style: oblique; font-size: 31.7px; font-family: 'DejaVu Sans', sans-serif">χ</tspan>
<tspan x="18.78" y="8.62" style="font-size: 22.19px; font-family: 'DejaVu Sans', sans-serif">t</tspan>
<tspan x="20.22" y="-12.37" style="font-size: 22.19px; font-family: 'DejaVu Sans', sans-serif">2</tspan>
<tspan x="27.50" y="8.62" style="font-size: 22.19px; font-family: 'DejaVu Sans', sans-serif">o</tspan>
<tspan x="41.10" y="8.62" style="font-size: 22.19px; font-family: 'DejaVu Sans', sans-serif">t</tspan>
<tspan x="56.87" y="-0.12" style="font-size: 31.7px; font-family: 'DejaVu Sans', sans-serif">=</tspan>
<tspan x="89.66" y="-0.12" style="font-size: 31.7px; font-family: 'DejaVu Sans', sans-serif">1</tspan>
<tspan x="109.86" y="-0.12" style="font-size: 31.7px; font-family: 'DejaVu Sans', sans-serif">1</tspan>
<tspan x="130.06" y="-0.12" style="font-size: 31.7px; font-family: 'DejaVu Sans', sans-serif">.</tspan>
<tspan x="138.40" y="-0.12" style="font-size: 31.7px; font-family: 'DejaVu Sans', sans-serif">2</tspan>
</text>
</g>
</g>
<g id="text_78">
<text style="font-size: 44.2px; font-family: 'DejaVu Sans', sans-serif; text-anchor: start" x="185.6" y="826.1" transform="rotate(-0 185.6 826.1)">Extended Source</text>
</g>
<g id="text_79">
<g transform="translate(185.8 880.7)">
<text>
<tspan x="0" y="-0.25" style="font-style: oblique; font-size: 31.5px; font-family: 'DejaVu Sans', sans-serif">z</tspan>
<tspan x="16.53" y="5" style="font-size: 22.05px; font-family: 'DejaVu Sans', sans-serif">s</tspan>
<tspan x="28.02" y="5" style="font-size: 22.05px; font-family: 'DejaVu Sans', sans-serif">p</tspan>
<tspan x="42.01" y="5" style="font-size: 22.05px; font-family: 'DejaVu Sans', sans-serif">e</tspan>
<tspan x="55.58" y="5" style="font-size: 22.05px; font-family: 'DejaVu Sans', sans-serif">c</tspan>
<tspan x="74.72" y="-0.25" style="font-size: 31.5px; font-family: 'DejaVu Sans', sans-serif">=</tspan>
<tspan x="107.25" y="-0.25" style="font-size: 31.5px; font-family: 'DejaVu Sans', sans-serif">1</tspan>
<tspan x="127.29" y="-0.25" style="font-size: 31.5px; font-family: 'DejaVu Sans', sans-serif">0</tspan>
<tspan x="147.33" y="-0.25" style="font-size: 31.5px; font-family: 'DejaVu Sans', sans-serif">.</tspan>
<tspan x="157.34" y="-0.25" style="font-size: 31.5px; font-family: 'DejaVu Sans', sans-serif">6</tspan>
<tspan x="177.38" y="-0.25" style="font-size: 31.5px; font-family: 'DejaVu Sans', sans-serif">0</tspan>
</text>
</g>
</g>
<g id="text_80">
<g transform="translate(186 1335.4)">
<text>
<tspan x="0" y="-0.12" style="font-style: oblique; font-size: 31.7px; font-family: 'DejaVu Sans', sans-serif">χ</tspan>
<tspan x="18.78" y="8.62" style="font-size: 22.19px; font-family: 'DejaVu Sans', sans-serif">t</tspan>
<tspan x="20.22" y="-12.37" style="font-size: 22.19px; font-family: 'DejaVu Sans', sans-serif">2</tspan>
<tspan x="27.50" y="8.62" style="font-size: 22.19px; font-family: 'DejaVu Sans', sans-serif">o</tspan>
<tspan x="41.10" y="8.62" style="font-size: 22.19px; font-family: 'DejaVu Sans', sans-serif">t</tspan>
<tspan x="56.87" y="-0.12" style="font-size: 31.7px; font-family: 'DejaVu Sans', sans-serif">=</tspan>
<tspan x="89.66" y="-0.12" style="font-size: 31.7px; font-family: 'DejaVu Sans', sans-serif">6</tspan>
<tspan x="109.86" y="-0.12" style="font-size: 31.7px; font-family: 'DejaVu Sans', sans-serif">.</tspan>
<tspan x="119.95" y="-0.12" style="font-size: 31.7px; font-family: 'DejaVu Sans', sans-serif">0</tspan>
</text>
</g>
</g>
<g id="text_81">
<g transform="translate(1735.87 140.25)">
<text>
<tspan x="0" y="-0.12" style="font-size: 31.5px; font-family: 'DejaVu Sans', sans-serif">l</tspan>
<tspan x="8.75" y="-0.12" style="font-size: 31.5px; font-family: 'DejaVu Sans', sans-serif">o</tspan>
<tspan x="28.02" y="-0.12" style="font-size: 31.5px; font-family: 'DejaVu Sans', sans-serif">g</tspan>
<tspan x="58.24" y="-0.12" style="font-size: 31.5px; font-family: 'DejaVu Sans', sans-serif">M</tspan>
<tspan x="106.54" y="-0.12" style="font-size: 31.5px; font-family: 'DejaVu Sans', sans-serif">=</tspan>
<tspan x="139.07" y="-0.12" style="font-size: 31.5px; font-family: 'DejaVu Sans', sans-serif">8</tspan>
<tspan x="159.11" y="-0.12" style="font-size: 31.5px; font-family: 'DejaVu Sans', sans-serif">.</tspan>
<tspan x="169.13" y="-0.12" style="font-size: 31.5px; font-family: 'DejaVu Sans', sans-serif">4</tspan>
<tspan x="85.73" y="5.12" style="font-size: 22.05px; font-family: 'DejaVu Sans', sans-serif">⋆</tspan>
<tspan x="189.47" y="-12.37" style="font-size: 22.05px; font-family: 'DejaVu Sans', sans-serif">+</tspan>
<tspan x="189.47" y="8.62" style="font-size: 22.05px; font-family: 'DejaVu Sans', sans-serif">−</tspan>
<tspan x="207.95" y="-12.37" style="font-size: 22.05px; font-family: 'DejaVu Sans', sans-serif">0</tspan>
<tspan x="207.95" y="8.62" style="font-size: 22.05px; font-family: 'DejaVu Sans', sans-serif">0</tspan>
<tspan x="221.98" y="-12.37" style="font-size: 22.05px; font-family: 'DejaVu Sans', sans-serif">.</tspan>
<tspan x="221.98" y="8.62" style="font-size: 22.05px; font-family: 'DejaVu Sans', sans-serif">.</tspan>
<tspan x="228.99" y="-12.37" style="font-size: 22.05px; font-family: 'DejaVu Sans', sans-serif">3</tspan>
<tspan x="228.99" y="8.62" style="font-size: 22.05px; font-family: 'DejaVu Sans', sans-serif">3</tspan>
</text>
</g>
</g>
<g id="text_82">
<g transform="translate(1663.11 189.65)">
<text>
<tspan x="0" y="-0.12" style="font-size: 31.5px; font-family: 'DejaVu Sans', sans-serif">l</tspan>
<tspan x="8.75" y="-0.12" style="font-size: 31.5px; font-family: 'DejaVu Sans', sans-serif">o</tspan>
<tspan x="28.02" y="-0.12" style="font-size: 31.5px; font-family: 'DejaVu Sans', sans-serif">g</tspan>
<tspan x="58.24" y="-0.12" style="font-size: 31.5px; font-family: 'DejaVu Sans', sans-serif">s</tspan>
<tspan x="74.65" y="-0.12" style="font-size: 31.5px; font-family: 'DejaVu Sans', sans-serif">S</tspan>
<tspan x="94.65" y="-0.12" style="font-size: 31.5px; font-family: 'DejaVu Sans', sans-serif">F</tspan>
<tspan x="112.77" y="-0.12" style="font-size: 31.5px; font-family: 'DejaVu Sans', sans-serif">R</tspan>
<tspan x="140.79" y="-0.12" style="font-size: 31.5px; font-family: 'DejaVu Sans', sans-serif">=</tspan>
<tspan x="179.46" y="-0.12" style="font-size: 31.5px; font-family: 'DejaVu Sans', sans-serif">−</tspan>
<tspan x="211.99" y="-0.12" style="font-size: 31.5px; font-family: 'DejaVu Sans', sans-serif">7</tspan>
<tspan x="232.03" y="-0.12" style="font-size: 31.5px; font-family: 'DejaVu Sans', sans-serif">.</tspan>
<tspan x="242.04" y="-0.12" style="font-size: 31.5px; font-family: 'DejaVu Sans', sans-serif">5</tspan>
<tspan x="262.39" y="-12.37" style="font-size: 22.05px; font-family: 'DejaVu Sans', sans-serif">+</tspan>
<tspan x="262.39" y="8.62" style="font-size: 22.05px; font-family: 'DejaVu Sans', sans-serif">−</tspan>
<tspan x="280.87" y="-12.37" style="font-size: 22.05px; font-family: 'DejaVu Sans', sans-serif">0</tspan>
<tspan x="280.87" y="8.62" style="font-size: 22.05px; font-family: 'DejaVu Sans', sans-serif">0</tspan>
<tspan x="294.90" y="-12.37" style="font-size: 22.05px; font-family: 'DejaVu Sans', sans-serif">.</tspan>
<tspan x="294.90" y="8.62" style="font-size: 22.05px; font-family: 'DejaVu Sans', sans-serif">.</tspan>
<tspan x="301.90" y="-12.37" style="font-size: 22.05px; font-family: 'DejaVu Sans', sans-serif">1</tspan>
<tspan x="301.90" y="8.62" style="font-size: 22.05px; font-family: 'DejaVu Sans', sans-serif">3</tspan>
</text>
</g>
</g>
<g id="text_83">
<g transform="translate(1705.95 240.05)">
<text>
<tspan x="0" y="-0.12" style="font-size: 31.5px; font-family: 'DejaVu Sans', sans-serif">t</tspan>
<tspan x="33.47" y="-0.12" style="font-size: 31.5px; font-family: 'DejaVu Sans', sans-serif">=</tspan>
<tspan x="66.00" y="-0.12" style="font-size: 31.5px; font-family: 'DejaVu Sans', sans-serif">1</tspan>
<tspan x="86.04" y="-0.12" style="font-size: 31.5px; font-family: 'DejaVu Sans', sans-serif">1</tspan>
<tspan x="106.08" y="-0.12" style="font-size: 31.5px; font-family: 'DejaVu Sans', sans-serif">.</tspan>
<tspan x="116.09" y="-0.12" style="font-size: 31.5px; font-family: 'DejaVu Sans', sans-serif">4</tspan>
<tspan x="215.11" y="-0.12" style="font-size: 31.5px; font-family: 'DejaVu Sans', sans-serif">M</tspan>
<tspan x="242.29" y="-0.12" style="font-size: 31.5px; font-family: 'DejaVu Sans', sans-serif">y</tspan>
<tspan x="260.93" y="-0.12" style="font-size: 31.5px; font-family: 'DejaVu Sans', sans-serif">r</tspan>
<tspan x="12.65" y="5.12" style="font-size: 22.05px; font-family: 'DejaVu Sans', sans-serif">⋆</tspan>
<tspan x="136.44" y="-12.37" style="font-size: 22.05px; font-family: 'DejaVu Sans', sans-serif">+</tspan>
<tspan x="136.44" y="8.62" style="font-size: 22.05px; font-family: 'DejaVu Sans', sans-serif">−</tspan>
<tspan x="154.92" y="-12.37" style="font-size: 22.05px; font-family: 'DejaVu Sans', sans-serif">5</tspan>
<tspan x="154.92" y="8.62" style="font-size: 22.05px; font-family: 'DejaVu Sans', sans-serif">7</tspan>
<tspan x="168.94" y="-12.37" style="font-size: 22.05px; font-family: 'DejaVu Sans', sans-serif">8</tspan>
<tspan x="168.94" y="8.62" style="font-size: 22.05px; font-family: 'DejaVu Sans', sans-serif">.</tspan>
<tspan x="175.95" y="8.62" style="font-size: 22.05px; font-family: 'DejaVu Sans', sans-serif">1</tspan>
<tspan x="182.97" y="-12.37" style="font-size: 22.05px; font-family: 'DejaVu Sans', sans-serif">.</tspan>
<tspan x="189.98" y="-12.37" style="font-size: 22.05px; font-family: 'DejaVu Sans', sans-serif">4</tspan>
</text>
</g>
</g>
<g id="text_84">
<g transform="translate(1735.87 893.7)">
<text>
<tspan x="0" y="-0.12" style="font-size: 31.5px; font-family: 'DejaVu Sans', sans-serif">l</tspan>
<tspan x="8.75" y="-0.12" style="font-size: 31.5px; font-family: 'DejaVu Sans', sans-serif">o</tspan>
<tspan x="28.02" y="-0.12" style="font-size: 31.5px; font-family: 'DejaVu Sans', sans-serif">g</tspan>
<tspan x="58.24" y="-0.12" style="font-size: 31.5px; font-family: 'DejaVu Sans', sans-serif">M</tspan>
<tspan x="106.54" y="-0.12" style="font-size: 31.5px; font-family: 'DejaVu Sans', sans-serif">=</tspan>
<tspan x="139.07" y="-0.12" style="font-size: 31.5px; font-family: 'DejaVu Sans', sans-serif">8</tspan>
<tspan x="159.11" y="-0.12" style="font-size: 31.5px; font-family: 'DejaVu Sans', sans-serif">.</tspan>
<tspan x="169.13" y="-0.12" style="font-size: 31.5px; font-family: 'DejaVu Sans', sans-serif">9</tspan>
<tspan x="85.73" y="5.12" style="font-size: 22.05px; font-family: 'DejaVu Sans', sans-serif">⋆</tspan>
<tspan x="189.47" y="-12.37" style="font-size: 22.05px; font-family: 'DejaVu Sans', sans-serif">+</tspan>
<tspan x="189.47" y="8.62" style="font-size: 22.05px; font-family: 'DejaVu Sans', sans-serif">−</tspan>
<tspan x="207.95" y="-12.37" style="font-size: 22.05px; font-family: 'DejaVu Sans', sans-serif">0</tspan>
<tspan x="207.95" y="8.62" style="font-size: 22.05px; font-family: 'DejaVu Sans', sans-serif">0</tspan>
<tspan x="221.98" y="-12.37" style="font-size: 22.05px; font-family: 'DejaVu Sans', sans-serif">.</tspan>
<tspan x="221.98" y="8.62" style="font-size: 22.05px; font-family: 'DejaVu Sans', sans-serif">.</tspan>
<tspan x="227.76" y="-12.37" style="font-size: 22.05px; font-family: 'DejaVu Sans', sans-serif">2</tspan>
<tspan x="228.99" y="8.62" style="font-size: 22.05px; font-family: 'DejaVu Sans', sans-serif">3</tspan>
</text>
</g>
</g>
<g id="text_85">
<g transform="translate(1663.11 943.1)">
<text>
<tspan x="0" y="-0.12" style="font-size: 31.5px; font-family: 'DejaVu Sans', sans-serif">l</tspan>
<tspan x="8.75" y="-0.12" style="font-size: 31.5px; font-family: 'DejaVu Sans', sans-serif">o</tspan>
<tspan x="28.02" y="-0.12" style="font-size: 31.5px; font-family: 'DejaVu Sans', sans-serif">g</tspan>
<tspan x="58.24" y="-0.12" style="font-size: 31.5px; font-family: 'DejaVu Sans', sans-serif">s</tspan>
<tspan x="74.65" y="-0.12" style="font-size: 31.5px; font-family: 'DejaVu Sans', sans-serif">S</tspan>
<tspan x="94.65" y="-0.12" style="font-size: 31.5px; font-family: 'DejaVu Sans', sans-serif">F</tspan>
<tspan x="112.77" y="-0.12" style="font-size: 31.5px; font-family: 'DejaVu Sans', sans-serif">R</tspan>
<tspan x="140.79" y="-0.12" style="font-size: 31.5px; font-family: 'DejaVu Sans', sans-serif">=</tspan>
<tspan x="179.46" y="-0.12" style="font-size: 31.5px; font-family: 'DejaVu Sans', sans-serif">−</tspan>
<tspan x="211.99" y="-0.12" style="font-size: 31.5px; font-family: 'DejaVu Sans', sans-serif">7</tspan>
<tspan x="232.03" y="-0.12" style="font-size: 31.5px; font-family: 'DejaVu Sans', sans-serif">.</tspan>
<tspan x="242.04" y="-0.12" style="font-size: 31.5px; font-family: 'DejaVu Sans', sans-serif">9</tspan>
<tspan x="262.39" y="-12.37" style="font-size: 22.05px; font-family: 'DejaVu Sans', sans-serif">+</tspan>
<tspan x="262.39" y="8.62" style="font-size: 22.05px; font-family: 'DejaVu Sans', sans-serif">−</tspan>
<tspan x="280.87" y="-12.37" style="font-size: 22.05px; font-family: 'DejaVu Sans', sans-serif">0</tspan>
<tspan x="280.87" y="8.62" style="font-size: 22.05px; font-family: 'DejaVu Sans', sans-serif">0</tspan>
<tspan x="294.90" y="-12.37" style="font-size: 22.05px; font-family: 'DejaVu Sans', sans-serif">.</tspan>
<tspan x="294.90" y="8.62" style="font-size: 22.05px; font-family: 'DejaVu Sans', sans-serif">.</tspan>
<tspan x="301.90" y="-12.37" style="font-size: 22.05px; font-family: 'DejaVu Sans', sans-serif">3</tspan>
<tspan x="301.90" y="8.62" style="font-size: 22.05px; font-family: 'DejaVu Sans', sans-serif">3</tspan>
</text>
</g>
</g>
<g id="text_86">
<g transform="translate(1705.95 993.5)">
<text>
<tspan x="0" y="-0.12" style="font-size: 31.5px; font-family: 'DejaVu Sans', sans-serif">t</tspan>
<tspan x="33.47" y="-0.12" style="font-size: 31.5px; font-family: 'DejaVu Sans', sans-serif">=</tspan>
<tspan x="66.00" y="-0.12" style="font-size: 31.5px; font-family: 'DejaVu Sans', sans-serif">3</tspan>
<tspan x="86.04" y="-0.12" style="font-size: 31.5px; font-family: 'DejaVu Sans', sans-serif">5</tspan>
<tspan x="106.08" y="-0.12" style="font-size: 31.5px; font-family: 'DejaVu Sans', sans-serif">.</tspan>
<tspan x="116.09" y="-0.12" style="font-size: 31.5px; font-family: 'DejaVu Sans', sans-serif">0</tspan>
<tspan x="215.11" y="-0.12" style="font-size: 31.5px; font-family: 'DejaVu Sans', sans-serif">M</tspan>
<tspan x="242.29" y="-0.12" style="font-size: 31.5px; font-family: 'DejaVu Sans', sans-serif">y</tspan>
<tspan x="260.93" y="-0.12" style="font-size: 31.5px; font-family: 'DejaVu Sans', sans-serif">r</tspan>
<tspan x="12.65" y="5.12" style="font-size: 22.05px; font-family: 'DejaVu Sans', sans-serif">⋆</tspan>
<tspan x="136.44" y="-12.37" style="font-size: 22.05px; font-family: 'DejaVu Sans', sans-serif">+</tspan>
<tspan x="136.44" y="8.62" style="font-size: 22.05px; font-family: 'DejaVu Sans', sans-serif">−</tspan>
<tspan x="154.92" y="-12.37" style="font-size: 22.05px; font-family: 'DejaVu Sans', sans-serif">1</tspan>
<tspan x="154.92" y="8.62" style="font-size: 22.05px; font-family: 'DejaVu Sans', sans-serif">1</tspan>
<tspan x="168.94" y="-12.37" style="font-size: 22.05px; font-family: 'DejaVu Sans', sans-serif">4</tspan>
<tspan x="168.94" y="8.62" style="font-size: 22.05px; font-family: 'DejaVu Sans', sans-serif">8</tspan>
<tspan x="182.97" y="-12.37" style="font-size: 22.05px; font-family: 'DejaVu Sans', sans-serif">.</tspan>
<tspan x="182.97" y="8.62" style="font-size: 22.05px; font-family: 'DejaVu Sans', sans-serif">.</tspan>
<tspan x="189.98" y="-12.37" style="font-size: 22.05px; font-family: 'DejaVu Sans', sans-serif">9</tspan>
<tspan x="189.98" y="8.62" style="font-size: 22.05px; font-family: 'DejaVu Sans', sans-serif">6</tspan>
</text>
</g>
</g>
</g>
<defs>
<clipPath id="p4914ac7ae6">
<rect x="138.6" y="23.3" width="947.6" height="450.7"/>
</clipPath>
<clipPath id="pca2b7f9ee2">
<rect x="138.6" y="486.9" width="947.6" height="141.7"/>
</clipPath>
<clipPath id="p7fe3c25381">
<rect x="138.6" y="759.3" width="947.6" height="450.7"/>
</clipPath>
<clipPath id="p652aebaf93">
<rect x="138.6" y="1222.9" width="947.6" height="141.7"/>
</clipPath>
<clipPath id="pe512c88715">
<rect x="1264.7" y="90.95" width="753.9" height="499.35"/>
</clipPath>
<clipPath id="pc9c035922c">
<rect x="1264.7" y="843.8" width="753.9" height="499.1"/>
</clipPath>
</defs>
</svg>

</body></html>
